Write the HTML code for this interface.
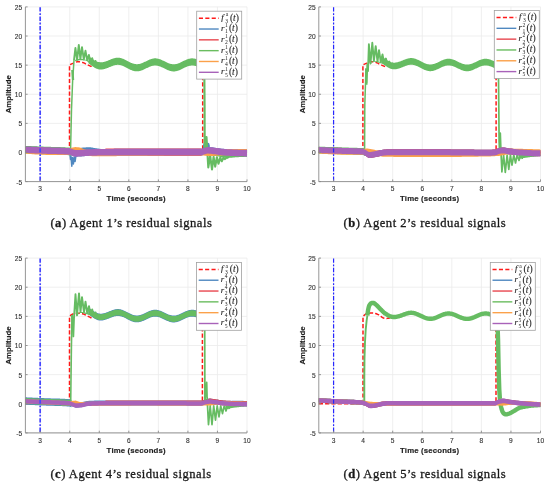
<!DOCTYPE html>
<html><head><meta charset="utf-8"><style>
html,body{margin:0;padding:0;background:#fff;}
svg{display:block;}
.tk{font-family:"Liberation Sans",sans-serif;font-size:6.6px;fill:#333;stroke:#333;stroke-width:0.12px;}
.al{font-family:"Liberation Sans",sans-serif;font-size:7.8px;font-weight:bold;fill:#1e1e1e;stroke:#1e1e1e;stroke-width:0.15px;}
.lg{font-family:"Liberation Serif",serif;font-style:italic;font-size:8.8px;fill:#222;stroke:#222;stroke-width:0.12px;}
.ls{font-family:"Liberation Serif",serif;font-size:5.6px;fill:#222;}
.lp{font-family:"Liberation Serif",serif;font-size:9.6px;fill:#222;stroke:#222;stroke-width:0.1px;}
.li{font-style:italic;}
.cap{font-family:"Liberation Serif",serif;font-size:12.6px;letter-spacing:0.5px;fill:#1a1a1a;stroke:#1a1a1a;stroke-width:0.3px;}
</style></head><body>
<svg width="550" height="484" viewBox="0 0 550 484">
<path d="M40.17 6.90V181.60M69.72 6.90V181.60M99.27 6.90V181.60M128.81 6.90V181.60M158.36 6.90V181.60M187.91 6.90V181.60M217.45 6.90V181.60M247.00 6.90V181.60M25.40 181.60H247.00M25.40 152.48H247.00M25.40 123.37H247.00M25.40 94.25H247.00M25.40 65.13H247.00M25.40 36.02H247.00M25.40 6.90H247.00" stroke="#ebebeb" stroke-width="0.8" fill="none"/>
<path d="M333.58 6.90V181.60M363.14 6.90V181.60M392.70 6.90V181.60M422.26 6.90V181.60M451.82 6.90V181.60M481.38 6.90V181.60M510.94 6.90V181.60M540.50 6.90V181.60M318.80 181.60H540.50M318.80 152.48H540.50M318.80 123.37H540.50M318.80 94.25H540.50M318.80 65.13H540.50M318.80 36.02H540.50M318.80 6.90H540.50" stroke="#ebebeb" stroke-width="0.8" fill="none"/>
<path d="M40.17 258.10V432.90M69.72 258.10V432.90M99.27 258.10V432.90M128.81 258.10V432.90M158.36 258.10V432.90M187.91 258.10V432.90M217.45 258.10V432.90M247.00 258.10V432.90M25.40 432.90H247.00M25.40 403.77H247.00M25.40 374.63H247.00M25.40 345.50H247.00M25.40 316.37H247.00M25.40 287.23H247.00M25.40 258.10H247.00" stroke="#ebebeb" stroke-width="0.8" fill="none"/>
<path d="M333.58 258.10V432.90M363.14 258.10V432.90M392.70 258.10V432.90M422.26 258.10V432.90M451.82 258.10V432.90M481.38 258.10V432.90M510.94 258.10V432.90M540.50 258.10V432.90M318.80 432.90H540.50M318.80 403.77H540.50M318.80 374.63H540.50M318.80 345.50H540.50M318.80 316.37H540.50M318.80 287.23H540.50M318.80 258.10H540.50" stroke="#ebebeb" stroke-width="0.8" fill="none"/>
<polyline points="25.40,152.42 69.50,152.42 69.50,64.90 69.50,64.90 70.05,64.62 70.60,64.35 71.15,64.09 71.71,63.84 72.26,63.60 72.81,63.37 73.36,63.16 73.91,62.93 74.46,62.69 75.01,62.46 75.56,62.24 76.12,62.04 76.67,61.88 77.22,61.77 77.77,61.71 78.32,61.71 78.87,61.74 79.42,61.80 79.97,61.88 80.53,61.99 81.08,62.11 81.63,62.24 82.18,62.38 82.73,62.53 83.28,62.69 83.83,62.90 84.38,63.16 84.94,63.46 85.49,63.78 86.04,64.09 86.59,64.39 87.14,64.67 87.69,64.93 88.24,65.18 88.79,65.43 89.35,65.68 89.90,65.92 90.45,66.16 91.00,66.40 95.40,64.45 96.30,64.88 97.20,65.25 98.11,65.55 99.01,65.76 99.91,65.89 100.81,65.92 101.71,65.87 102.61,65.75 103.52,65.57 104.42,65.36 105.32,65.10 106.22,64.82 107.12,64.50 108.02,64.16 108.93,63.79 109.83,63.43 110.73,63.06 111.63,62.71 112.53,62.37 113.43,62.06 114.34,61.79 115.24,61.57 116.14,61.42 117.04,61.32 117.94,61.30 118.84,61.35 119.75,61.47 120.65,61.65 121.55,61.90 122.45,62.21 123.35,62.56 124.25,62.96 125.16,63.39 126.06,63.84 126.96,64.31 127.86,64.79 128.76,65.26 129.66,65.71 130.57,66.14 131.47,66.54 132.37,66.88 133.27,67.18 134.17,67.41 135.07,67.58 135.98,67.69 136.88,67.72 137.78,67.69 138.68,67.58 139.58,67.42 140.48,67.19 141.39,66.91 142.29,66.58 143.19,66.20 144.09,65.80 144.99,65.37 145.89,64.93 146.80,64.48 147.70,64.05 148.60,63.64 149.50,63.26 150.40,62.91 151.30,62.61 152.21,62.37 153.11,62.18 154.01,62.06 154.91,62.00 155.81,62.02 156.71,62.10 157.62,62.24 158.52,62.45 159.42,62.71 160.32,63.03 161.22,63.39 162.12,63.78 163.03,64.21 163.93,64.64 164.83,65.09 165.73,65.53 166.63,65.95 167.53,66.35 168.44,66.72 169.34,67.04 170.24,67.31 171.14,67.53 172.04,67.69 172.94,67.78 173.85,67.80 174.75,67.75 175.65,67.64 176.55,67.47 177.45,67.23 178.35,66.94 179.26,66.60 180.16,66.22 181.06,65.82 181.96,65.38 182.86,64.94 183.76,64.50 184.67,64.07 185.57,63.65 186.47,63.27 187.37,62.92 188.27,62.62 189.17,62.37 190.08,62.19 190.98,62.06 191.88,62.00 192.78,62.01 193.68,62.09 194.58,62.23 195.49,62.44 196.39,62.70 197.29,63.02 198.19,63.38 199.09,63.77 199.99,64.19 200.90,64.63 201.80,65.07 202.70,65.51 202.70,65.51 202.70,152.42 247.03,152.42" fill="none" stroke="#ff1a1a" stroke-width="1.5" stroke-linejoin="round" stroke-linecap="butt" stroke-dasharray="4.2 2.1"/>
<polygon points="25.40,146.40 26.79,146.46 28.19,146.51 29.58,146.57 30.98,146.62 32.37,146.68 33.76,146.73 35.16,146.79 36.55,146.84 37.94,146.90 39.34,146.96 40.73,147.01 42.13,147.07 43.52,147.12 44.91,147.18 46.31,147.24 47.70,147.28 49.10,147.33 50.49,147.36 51.88,147.40 53.28,147.43 54.67,147.46 56.07,147.50 57.46,147.53 58.85,147.58 60.25,147.62 61.64,147.68 63.03,147.74 64.43,147.81 65.82,147.89 67.22,147.99 68.61,148.10 70.00,148.25 71.40,148.78 72.79,149.34 74.19,149.87 75.58,150.10 76.97,150.07 78.37,149.99 79.76,149.90 81.15,149.81 82.55,149.73 83.94,149.63 85.34,149.52 86.73,149.41 88.12,149.31 89.52,149.23 90.91,149.18 92.31,149.14 93.70,149.10 95.09,149.06 96.49,149.03 97.88,149.00 99.28,148.97 100.67,148.95 102.06,148.93 103.46,148.91 104.85,148.90 106.24,148.90 107.64,148.89 109.03,148.89 110.43,148.88 111.82,148.88 113.21,148.88 114.61,148.87 116.00,148.87 117.40,148.87 118.79,148.86 120.18,148.86 121.58,148.86 122.97,148.85 124.36,148.85 125.76,148.85 127.15,148.84 128.55,148.84 129.94,148.84 131.33,148.84 132.73,148.83 134.12,148.83 135.52,148.83 136.91,148.83 138.30,148.82 139.70,148.82 141.09,148.82 142.48,148.82 143.88,148.82 145.27,148.82 146.67,148.81 148.06,148.81 149.45,148.81 150.85,148.81 152.24,148.81 153.64,148.81 155.03,148.81 156.42,148.81 157.82,148.80 159.21,148.80 160.61,148.80 162.00,148.80 163.39,148.80 164.79,148.80 166.18,148.80 167.57,148.80 168.97,148.80 170.36,148.80 171.76,148.80 173.15,148.80 174.54,148.80 175.94,148.80 177.33,148.80 178.73,148.80 180.12,148.80 181.51,148.80 182.91,148.80 184.30,148.80 185.69,148.80 187.09,148.80 188.48,148.80 189.88,148.80 191.27,148.80 192.66,148.80 194.06,148.80 195.45,148.80 196.85,148.80 198.24,148.80 199.63,148.80 201.03,148.80 202.42,148.59 203.82,148.00 205.21,147.58 206.60,147.23 208.00,147.01 209.39,147.03 210.78,147.15 212.18,147.34 213.57,147.55 214.97,147.75 216.36,147.92 217.75,148.10 219.15,148.30 220.54,148.49 221.94,148.67 223.33,148.83 224.72,148.95 226.12,149.04 227.51,149.13 228.90,149.21 230.30,149.28 231.69,149.36 233.09,149.42 234.48,149.49 235.87,149.55 237.27,149.60 238.66,149.65 240.06,149.70 241.45,149.73 242.84,149.76 244.24,149.78 245.63,149.80 247.03,149.80 247.03,156.40 245.63,156.40 244.24,156.38 242.84,156.36 241.45,156.33 240.06,156.30 238.66,156.25 237.27,156.20 235.87,156.15 234.48,156.09 233.09,156.02 231.69,155.96 230.30,155.88 228.90,155.81 227.51,155.73 226.12,155.64 224.72,155.55 223.33,155.43 221.94,155.27 220.54,155.09 219.15,154.90 217.75,154.70 216.36,154.52 214.97,154.35 213.57,154.15 212.18,153.94 210.78,153.75 209.39,153.63 208.00,153.61 206.60,153.83 205.21,154.18 203.82,154.60 202.42,155.19 201.03,155.40 199.63,155.40 198.24,155.40 196.85,155.40 195.45,155.40 194.06,155.40 192.66,155.40 191.27,155.40 189.88,155.40 188.48,155.40 187.09,155.40 185.69,155.40 184.30,155.40 182.91,155.40 181.51,155.40 180.12,155.40 178.73,155.40 177.33,155.40 175.94,155.40 174.54,155.40 173.15,155.40 171.76,155.40 170.36,155.40 168.97,155.40 167.57,155.40 166.18,155.40 164.79,155.40 163.39,155.40 162.00,155.40 160.61,155.40 159.21,155.40 157.82,155.40 156.42,155.41 155.03,155.41 153.64,155.41 152.24,155.41 150.85,155.41 149.45,155.41 148.06,155.41 146.67,155.41 145.27,155.42 143.88,155.42 142.48,155.42 141.09,155.42 139.70,155.42 138.30,155.42 136.91,155.43 135.52,155.43 134.12,155.43 132.73,155.43 131.33,155.44 129.94,155.44 128.55,155.44 127.15,155.44 125.76,155.45 124.36,155.45 122.97,155.45 121.58,155.46 120.18,155.46 118.79,155.46 117.40,155.47 116.00,155.47 114.61,155.47 113.21,155.48 111.82,155.48 110.43,155.48 109.03,155.49 107.64,155.49 106.24,155.50 104.85,155.50 103.46,155.51 102.06,155.53 100.67,155.55 99.28,155.57 97.88,155.60 96.49,155.63 95.09,155.66 93.70,155.70 92.31,155.74 90.91,155.78 89.52,155.83 88.12,155.91 86.73,156.01 85.34,156.12 83.94,156.23 82.55,156.33 81.15,156.41 79.76,156.50 78.37,156.59 76.97,156.67 75.58,156.70 74.19,156.47 72.79,155.94 71.40,155.38 70.00,154.85 68.61,154.70 67.22,154.59 65.82,154.49 64.43,154.41 63.03,154.34 61.64,154.28 60.25,154.22 58.85,154.18 57.46,154.13 56.07,154.10 54.67,154.06 53.28,154.03 51.88,154.00 50.49,153.96 49.10,153.93 47.70,153.88 46.31,153.84 44.91,153.78 43.52,153.72 42.13,153.67 40.73,153.61 39.34,153.56 37.94,153.50 36.55,153.44 35.16,153.39 33.76,153.33 32.37,153.28 30.98,153.22 29.58,153.17 28.19,153.11 26.79,153.06 25.40,153.00" fill="#4f88c0" stroke="none"/>
<polygon points="73.40,152.50 74.26,152.15 75.11,151.68 75.97,151.03 76.83,150.09 77.69,149.18 78.54,148.64 79.40,148.33 80.26,148.06 81.11,147.84 81.97,147.66 82.83,147.55 83.69,147.48 84.54,147.44 85.40,147.39 86.26,147.36 87.11,147.33 87.97,147.31 88.83,147.30 89.69,147.30 90.54,147.35 91.40,147.45 92.26,147.58 93.11,147.73 93.97,147.88 94.83,148.02 95.69,148.14 96.54,148.26 97.40,148.39 98.26,148.52 99.11,148.64 99.97,148.77 100.83,148.88 101.69,148.97 102.54,149.05 103.40,149.10 104.26,149.14 105.11,149.17 105.97,149.20 106.83,149.24 107.69,149.26 108.54,149.29 109.40,149.32 110.26,149.34 111.11,149.36 111.97,149.37 112.83,149.38 113.69,149.39 114.54,149.40 115.40,149.40 115.40,154.50 114.54,154.52 113.69,154.54 112.83,154.56 111.97,154.58 111.11,154.60 110.26,154.62 109.40,154.64 108.54,154.66 107.69,154.68 106.83,154.70 105.97,154.72 105.11,154.74 104.26,154.77 103.40,154.79 102.54,154.81 101.69,154.83 100.83,154.85 99.97,154.87 99.11,154.89 98.26,154.91 97.40,154.93 96.54,154.95 95.69,154.97 94.83,154.99 93.97,155.01 93.11,155.03 92.26,155.05 91.40,155.07 90.54,155.09 89.69,155.11 88.83,155.13 87.97,155.15 87.11,155.17 86.26,155.19 85.40,155.21 84.54,155.23 83.69,155.26 82.83,155.28 81.97,155.30 81.11,155.32 80.26,155.34 79.40,155.36 78.54,155.38 77.69,155.40 76.83,155.42 75.97,155.44 75.11,155.46 74.26,155.48 73.40,155.50" fill="#4f88c0" stroke="none"/>
<polyline points="69.70,152.50 70.50,159.50 71.00,156.50 71.80,166.30 72.50,157.50 73.40,164.00 74.20,157.00 75.10,161.50 76.00,155.50" fill="none" stroke="#4f88c0" stroke-width="1.5" stroke-linejoin="round" stroke-linecap="butt" />
<polygon points="203.00,145.50 203.04,145.35 203.09,145.19 203.13,145.04 203.17,144.88 203.21,144.72 203.26,144.56 203.30,144.41 203.34,144.25 203.38,144.11 203.43,143.96 203.47,143.82 203.51,143.69 203.56,143.57 203.60,143.46 203.64,143.35 203.68,143.26 203.73,143.18 203.77,143.11 203.81,143.06 203.86,143.02 203.90,143.00 203.94,142.99 203.98,142.98 204.03,142.97 204.07,142.96 204.11,142.95 204.15,142.94 204.20,142.93 204.24,142.92 204.28,142.91 204.33,142.90 204.37,142.89 204.41,142.88 204.45,142.87 204.50,142.86 204.54,142.86 204.58,142.85 204.63,142.84 204.67,142.83 204.71,142.83 204.75,142.82 204.80,142.81 204.84,142.81 204.88,142.80 204.92,142.79 204.97,142.79 205.01,142.78 205.05,142.78 205.10,142.77 205.14,142.77 205.18,142.76 205.22,142.76 205.27,142.75 205.31,142.75 205.35,142.75 205.39,142.74 205.44,142.74 205.48,142.73 205.52,142.73 205.57,142.73 205.61,142.73 205.65,142.72 205.69,142.72 205.74,142.72 205.78,142.72 205.82,142.71 205.87,142.71 205.91,142.71 205.95,142.71 205.99,142.71 206.04,142.71 206.08,142.70 206.12,142.70 206.16,142.70 206.21,142.70 206.25,142.70 206.29,142.70 206.34,142.70 206.38,142.70 206.42,142.70 206.46,142.70 206.51,142.70 206.55,142.70 206.59,142.70 206.64,142.70 206.68,142.70 206.72,142.70 206.76,142.71 206.81,142.71 206.85,142.71 206.89,142.71 206.93,142.71 206.98,142.71 207.02,142.72 207.06,142.72 207.11,142.72 207.15,142.72 207.19,142.73 207.23,142.73 207.28,142.73 207.32,142.73 207.36,142.74 207.41,142.74 207.45,142.75 207.49,142.75 207.53,142.75 207.58,142.76 207.62,142.76 207.66,142.77 207.70,142.77 207.75,142.78 207.79,142.78 207.83,142.79 207.88,142.79 207.92,142.80 207.96,142.81 208.00,142.81 208.05,142.82 208.09,142.83 208.13,142.83 208.17,142.84 208.22,142.85 208.26,142.86 208.30,142.86 208.35,142.87 208.39,142.88 208.43,142.89 208.47,142.90 208.52,142.91 208.56,142.92 208.60,142.93 208.65,142.94 208.69,142.95 208.73,142.96 208.77,142.97 208.82,142.98 208.86,142.99 208.90,143.00 208.94,143.02 208.99,143.06 209.03,143.11 209.07,143.18 209.12,143.26 209.16,143.35 209.20,143.46 209.24,143.57 209.29,143.69 209.33,143.82 209.37,143.96 209.42,144.11 209.46,144.25 209.50,144.41 209.54,144.56 209.59,144.72 209.63,144.88 209.67,145.04 209.71,145.19 209.76,145.35 209.80,145.50 209.80,151.50 209.76,151.35 209.71,151.19 209.67,151.04 209.63,150.88 209.59,150.72 209.54,150.56 209.50,150.41 209.46,150.25 209.42,150.11 209.37,149.96 209.33,149.82 209.29,149.69 209.24,149.57 209.20,149.46 209.16,149.35 209.12,149.26 209.07,149.18 209.03,149.11 208.99,149.06 208.94,149.02 208.90,149.00 208.86,148.99 208.82,148.98 208.77,148.97 208.73,148.96 208.69,148.95 208.65,148.94 208.60,148.93 208.56,148.92 208.52,148.91 208.47,148.90 208.43,148.89 208.39,148.88 208.35,148.87 208.30,148.86 208.26,148.86 208.22,148.85 208.17,148.84 208.13,148.83 208.09,148.83 208.05,148.82 208.00,148.81 207.96,148.81 207.92,148.80 207.88,148.79 207.83,148.79 207.79,148.78 207.75,148.78 207.70,148.77 207.66,148.77 207.62,148.76 207.58,148.76 207.53,148.75 207.49,148.75 207.45,148.75 207.41,148.74 207.36,148.74 207.32,148.73 207.28,148.73 207.23,148.73 207.19,148.73 207.15,148.72 207.11,148.72 207.06,148.72 207.02,148.72 206.98,148.71 206.93,148.71 206.89,148.71 206.85,148.71 206.81,148.71 206.76,148.71 206.72,148.70 206.68,148.70 206.64,148.70 206.59,148.70 206.55,148.70 206.51,148.70 206.46,148.70 206.42,148.70 206.38,148.70 206.34,148.70 206.29,148.70 206.25,148.70 206.21,148.70 206.16,148.70 206.12,148.70 206.08,148.70 206.04,148.71 205.99,148.71 205.95,148.71 205.91,148.71 205.87,148.71 205.82,148.71 205.78,148.72 205.74,148.72 205.69,148.72 205.65,148.72 205.61,148.73 205.57,148.73 205.52,148.73 205.48,148.73 205.44,148.74 205.39,148.74 205.35,148.75 205.31,148.75 205.27,148.75 205.22,148.76 205.18,148.76 205.14,148.77 205.10,148.77 205.05,148.78 205.01,148.78 204.97,148.79 204.92,148.79 204.88,148.80 204.84,148.81 204.80,148.81 204.75,148.82 204.71,148.83 204.67,148.83 204.63,148.84 204.58,148.85 204.54,148.86 204.50,148.86 204.45,148.87 204.41,148.88 204.37,148.89 204.33,148.90 204.28,148.91 204.24,148.92 204.20,148.93 204.15,148.94 204.11,148.95 204.07,148.96 204.03,148.97 203.98,148.98 203.94,148.99 203.90,149.00 203.86,149.02 203.81,149.06 203.77,149.11 203.73,149.18 203.68,149.26 203.64,149.35 203.60,149.46 203.56,149.57 203.51,149.69 203.47,149.82 203.43,149.96 203.38,150.11 203.34,150.25 203.30,150.41 203.26,150.56 203.21,150.72 203.17,150.88 203.13,151.04 203.09,151.19 203.04,151.35 203.00,151.50" fill="#4f88c0" stroke="none"/>
<polygon points="105.40,148.60 106.00,148.60 106.61,148.60 107.21,148.60 107.82,148.59 108.42,148.59 109.02,148.59 109.63,148.59 110.23,148.59 110.83,148.59 111.44,148.59 112.04,148.58 112.65,148.58 113.25,148.58 113.85,148.58 114.46,148.58 115.06,148.58 115.66,148.58 116.27,148.57 116.87,148.57 117.48,148.57 118.08,148.57 118.68,148.57 119.29,148.57 119.89,148.57 120.49,148.57 121.10,148.56 121.70,148.56 122.31,148.56 122.91,148.56 123.51,148.56 124.12,148.56 124.72,148.56 125.32,148.56 125.93,148.55 126.53,148.55 127.14,148.55 127.74,148.55 128.34,148.55 128.95,148.55 129.55,148.55 130.15,148.55 130.76,148.54 131.36,148.54 131.97,148.54 132.57,148.54 133.17,148.54 133.78,148.54 134.38,148.54 134.98,148.54 135.59,148.54 136.19,148.54 136.80,148.53 137.40,148.53 138.00,148.53 138.61,148.53 139.21,148.53 139.82,148.53 140.42,148.53 141.02,148.53 141.63,148.53 142.23,148.53 142.83,148.52 143.44,148.52 144.04,148.52 144.65,148.52 145.25,148.52 145.85,148.52 146.46,148.52 147.06,148.52 147.66,148.52 148.27,148.52 148.87,148.52 149.48,148.52 150.08,148.52 150.68,148.51 151.29,148.51 151.89,148.51 152.49,148.51 153.10,148.51 153.70,148.51 154.31,148.51 154.91,148.51 155.51,148.51 156.12,148.51 156.72,148.51 157.32,148.51 157.93,148.51 158.53,148.51 159.14,148.51 159.74,148.51 160.34,148.51 160.95,148.51 161.55,148.50 162.15,148.50 162.76,148.50 163.36,148.50 163.97,148.50 164.57,148.50 165.17,148.50 165.78,148.50 166.38,148.50 166.98,148.50 167.59,148.50 168.19,148.50 168.80,148.50 169.40,148.50 170.00,148.50 170.61,148.50 171.21,148.50 171.82,148.50 172.42,148.50 173.02,148.50 173.63,148.50 174.23,148.50 174.83,148.50 175.44,148.50 176.04,148.50 176.65,148.50 177.25,148.50 177.85,148.50 178.46,148.50 179.06,148.50 179.66,148.50 180.27,148.50 180.87,148.50 181.48,148.50 182.08,148.50 182.68,148.50 183.29,148.50 183.89,148.50 184.49,148.50 185.10,148.50 185.70,148.50 186.31,148.50 186.91,148.50 187.51,148.50 188.12,148.50 188.72,148.50 189.32,148.50 189.93,148.50 190.53,148.50 191.14,148.50 191.74,148.50 192.34,148.50 192.95,148.50 193.55,148.50 194.15,148.50 194.76,148.50 195.36,148.50 195.97,148.50 196.57,148.50 197.17,148.50 197.78,148.50 198.38,148.50 198.98,148.50 199.59,148.50 200.19,148.50 200.80,148.50 201.40,148.50 201.40,155.90 200.80,155.90 200.19,155.90 199.59,155.90 198.98,155.90 198.38,155.90 197.78,155.90 197.17,155.90 196.57,155.90 195.97,155.90 195.36,155.90 194.76,155.90 194.15,155.90 193.55,155.90 192.95,155.90 192.34,155.90 191.74,155.90 191.14,155.90 190.53,155.90 189.93,155.90 189.32,155.90 188.72,155.90 188.12,155.90 187.51,155.90 186.91,155.90 186.31,155.90 185.70,155.90 185.10,155.90 184.49,155.90 183.89,155.90 183.29,155.90 182.68,155.90 182.08,155.90 181.48,155.90 180.87,155.90 180.27,155.90 179.66,155.90 179.06,155.90 178.46,155.90 177.85,155.90 177.25,155.90 176.65,155.90 176.04,155.90 175.44,155.90 174.83,155.90 174.23,155.90 173.63,155.90 173.02,155.90 172.42,155.90 171.82,155.90 171.21,155.90 170.61,155.90 170.00,155.90 169.40,155.90 168.80,155.90 168.19,155.90 167.59,155.90 166.98,155.90 166.38,155.90 165.78,155.90 165.17,155.90 164.57,155.90 163.97,155.90 163.36,155.90 162.76,155.90 162.15,155.90 161.55,155.90 160.95,155.91 160.34,155.91 159.74,155.91 159.14,155.91 158.53,155.91 157.93,155.91 157.32,155.91 156.72,155.91 156.12,155.91 155.51,155.91 154.91,155.91 154.31,155.91 153.70,155.91 153.10,155.91 152.49,155.91 151.89,155.91 151.29,155.91 150.68,155.91 150.08,155.92 149.48,155.92 148.87,155.92 148.27,155.92 147.66,155.92 147.06,155.92 146.46,155.92 145.85,155.92 145.25,155.92 144.65,155.92 144.04,155.92 143.44,155.92 142.83,155.92 142.23,155.93 141.63,155.93 141.02,155.93 140.42,155.93 139.82,155.93 139.21,155.93 138.61,155.93 138.00,155.93 137.40,155.93 136.80,155.93 136.19,155.94 135.59,155.94 134.98,155.94 134.38,155.94 133.78,155.94 133.17,155.94 132.57,155.94 131.97,155.94 131.36,155.94 130.76,155.94 130.15,155.95 129.55,155.95 128.95,155.95 128.34,155.95 127.74,155.95 127.14,155.95 126.53,155.95 125.93,155.95 125.32,155.96 124.72,155.96 124.12,155.96 123.51,155.96 122.91,155.96 122.31,155.96 121.70,155.96 121.10,155.96 120.49,155.97 119.89,155.97 119.29,155.97 118.68,155.97 118.08,155.97 117.48,155.97 116.87,155.97 116.27,155.97 115.66,155.98 115.06,155.98 114.46,155.98 113.85,155.98 113.25,155.98 112.65,155.98 112.04,155.98 111.44,155.99 110.83,155.99 110.23,155.99 109.63,155.99 109.02,155.99 108.42,155.99 107.82,155.99 107.21,156.00 106.61,156.00 106.00,156.00 105.40,156.00" fill="#e8474f" stroke="none"/>
<polygon points="25.40,145.90 25.69,145.91 25.98,145.92 26.27,145.93 26.56,145.95 26.85,145.96 27.14,145.97 27.43,145.98 27.71,145.99 28.00,146.00 28.29,146.01 28.58,146.03 28.87,146.04 29.16,146.05 29.45,146.06 29.74,146.07 30.03,146.08 30.32,146.09 30.61,146.11 30.90,146.12 31.19,146.13 31.48,146.14 31.76,146.15 32.05,146.16 32.34,146.18 32.63,146.19 32.92,146.20 33.21,146.21 33.50,146.22 33.79,146.23 34.08,146.24 34.37,146.26 34.66,146.27 34.95,146.28 35.24,146.29 35.53,146.30 35.82,146.31 36.10,146.33 36.39,146.34 36.68,146.35 36.97,146.36 37.26,146.37 37.55,146.38 37.84,146.40 38.13,146.41 38.42,146.42 38.71,146.43 39.00,146.44 39.29,146.45 39.58,146.46 39.87,146.48 40.15,146.49 40.44,146.50 40.73,146.51 41.02,146.52 41.31,146.53 41.60,146.55 41.89,146.56 42.18,146.57 42.47,146.58 42.76,146.59 43.05,146.60 43.34,146.62 43.63,146.63 43.92,146.64 44.21,146.65 44.49,146.66 44.78,146.68 45.07,146.69 45.36,146.70 45.65,146.71 45.94,146.72 46.23,146.73 46.52,146.74 46.81,146.75 47.10,146.76 47.39,146.77 47.68,146.78 47.97,146.79 48.26,146.80 48.54,146.81 48.83,146.82 49.12,146.83 49.41,146.83 49.70,146.84 49.99,146.85 50.28,146.86 50.57,146.86 50.86,146.87 51.15,146.88 51.44,146.89 51.73,146.89 52.02,146.90 52.31,146.91 52.59,146.91 52.88,146.92 53.17,146.93 53.46,146.93 53.75,146.94 54.04,146.95 54.33,146.96 54.62,146.96 54.91,146.97 55.20,146.98 55.49,146.98 55.78,146.99 56.07,147.00 56.36,147.01 56.65,147.01 56.93,147.02 57.22,147.03 57.51,147.04 57.80,147.04 58.09,147.05 58.38,147.06 58.67,147.07 58.96,147.08 59.25,147.09 59.54,147.10 59.83,147.11 60.12,147.12 60.41,147.13 60.70,147.14 60.98,147.15 61.27,147.16 61.56,147.17 61.85,147.19 62.14,147.20 62.43,147.21 62.72,147.22 63.01,147.24 63.30,147.25 63.59,147.27 63.88,147.28 64.17,147.30 64.46,147.31 64.75,147.33 65.04,147.35 65.32,147.36 65.61,147.38 65.90,147.40 66.19,147.42 66.48,147.44 66.77,147.46 67.06,147.48 67.35,147.50 67.64,147.52 67.93,147.55 68.22,147.57 68.51,147.59 68.80,147.62 69.09,147.64 69.37,147.67 69.66,147.70 69.95,147.74 70.24,147.81 70.53,147.90 70.82,148.02 71.11,148.15 71.40,148.28 71.40,155.88 71.11,155.75 70.82,155.62 70.53,155.50 70.24,155.41 69.95,155.34 69.66,155.30 69.37,155.27 69.09,155.24 68.80,155.22 68.51,155.19 68.22,155.17 67.93,155.15 67.64,155.12 67.35,155.10 67.06,155.08 66.77,155.06 66.48,155.04 66.19,155.02 65.90,155.00 65.61,154.98 65.32,154.96 65.04,154.95 64.75,154.93 64.46,154.91 64.17,154.90 63.88,154.88 63.59,154.87 63.30,154.85 63.01,154.84 62.72,154.82 62.43,154.81 62.14,154.80 61.85,154.79 61.56,154.77 61.27,154.76 60.98,154.75 60.70,154.74 60.41,154.73 60.12,154.72 59.83,154.71 59.54,154.70 59.25,154.69 58.96,154.68 58.67,154.67 58.38,154.66 58.09,154.65 57.80,154.64 57.51,154.64 57.22,154.63 56.93,154.62 56.65,154.61 56.36,154.61 56.07,154.60 55.78,154.59 55.49,154.58 55.20,154.58 54.91,154.57 54.62,154.56 54.33,154.56 54.04,154.55 53.75,154.54 53.46,154.53 53.17,154.53 52.88,154.52 52.59,154.51 52.31,154.51 52.02,154.50 51.73,154.49 51.44,154.49 51.15,154.48 50.86,154.47 50.57,154.46 50.28,154.46 49.99,154.45 49.70,154.44 49.41,154.43 49.12,154.43 48.83,154.42 48.54,154.41 48.26,154.40 47.97,154.39 47.68,154.38 47.39,154.37 47.10,154.36 46.81,154.35 46.52,154.34 46.23,154.33 45.94,154.32 45.65,154.31 45.36,154.30 45.07,154.29 44.78,154.28 44.49,154.26 44.21,154.25 43.92,154.24 43.63,154.23 43.34,154.22 43.05,154.20 42.76,154.19 42.47,154.18 42.18,154.17 41.89,154.16 41.60,154.15 41.31,154.13 41.02,154.12 40.73,154.11 40.44,154.10 40.15,154.09 39.87,154.08 39.58,154.06 39.29,154.05 39.00,154.04 38.71,154.03 38.42,154.02 38.13,154.01 37.84,154.00 37.55,153.98 37.26,153.97 36.97,153.96 36.68,153.95 36.39,153.94 36.10,153.93 35.82,153.91 35.53,153.90 35.24,153.89 34.95,153.88 34.66,153.87 34.37,153.86 34.08,153.84 33.79,153.83 33.50,153.82 33.21,153.81 32.92,153.80 32.63,153.79 32.34,153.78 32.05,153.76 31.76,153.75 31.48,153.74 31.19,153.73 30.90,153.72 30.61,153.71 30.32,153.69 30.03,153.68 29.74,153.67 29.45,153.66 29.16,153.65 28.87,153.64 28.58,153.63 28.29,153.61 28.00,153.60 27.71,153.59 27.43,153.58 27.14,153.57 26.85,153.56 26.56,153.55 26.27,153.53 25.98,153.52 25.69,153.51 25.40,153.50" fill="#66bc62" stroke="none"/>
<polyline points="70.50,152.42 71.00,131.50 71.50,110.00 72.60,81.50 74.00,60.00" fill="none" stroke="#66bc62" stroke-width="1.5" stroke-linejoin="round" stroke-linecap="butt" />
<polyline points="72.40,70.00 73.00,80.00" fill="none" stroke="#66bc62" stroke-width="2.4" stroke-linejoin="round" stroke-linecap="butt" />
<polygon points="74.90,60.00 75.43,59.79 75.97,59.59 76.50,59.42 77.04,59.27 77.57,59.13 78.11,59.02 78.64,58.93 79.18,58.86 79.71,58.82 80.24,58.80 80.78,58.81 81.31,58.84 81.85,58.89 82.38,58.97 82.92,59.06 83.45,59.17 83.99,59.30 84.52,59.44 85.06,59.60 85.59,59.76 86.12,59.94 86.66,60.11 87.19,60.30 87.73,60.52 88.26,60.80 88.80,61.13 89.33,61.50 89.87,61.90 90.40,62.30 90.40,64.10 89.87,63.57 89.33,63.06 88.80,62.57 88.26,62.11 87.73,61.70 87.19,61.33 86.66,61.02 86.12,60.77 85.59,60.60 85.06,60.50 84.52,60.46 83.99,60.43 83.45,60.39 82.92,60.36 82.38,60.34 81.85,60.32 81.31,60.31 80.78,60.30 80.24,60.30 79.71,60.31 79.18,60.34 78.64,60.38 78.11,60.44 77.57,60.51 77.04,60.59 76.50,60.68 75.97,60.78 75.43,60.89 74.90,61.00" fill="#66bc62" stroke="none"/>
<polygon points="88.40,56.09 88.88,56.42 89.36,56.76 89.85,57.11 90.33,57.48 90.81,57.84 91.29,58.20 91.77,58.54 92.26,58.89 92.74,59.23 93.22,59.56 93.70,59.88 94.18,60.18 94.67,60.48 95.15,60.75 95.63,61.01 96.11,61.24 96.59,61.45 97.08,61.65 97.56,61.82 98.04,61.98 98.52,62.11 99.00,62.21 99.49,62.29 99.97,62.34 100.45,62.37 100.93,62.37 101.41,62.34 101.90,62.30 102.38,62.23 102.86,62.15 103.34,62.05 103.82,61.94 104.31,61.82 104.79,61.69 105.27,61.55 105.75,61.40 106.23,61.24 106.72,61.07 107.20,60.89 107.68,60.70 108.16,60.51 108.64,60.31 109.13,60.11 109.61,59.91 110.09,59.71 110.57,59.51 111.05,59.31 111.54,59.12 112.02,58.93 112.50,58.75 112.98,58.58 113.46,58.41 113.95,58.26 114.43,58.13 114.91,58.00 115.39,57.90 115.87,57.81 116.36,57.74 116.84,57.69 117.32,57.66 117.80,57.65 118.28,57.66 118.77,57.69 119.25,57.74 119.73,57.82 120.21,57.91 120.69,58.02 121.18,58.15 121.66,58.29 122.14,58.46 122.62,58.63 123.10,58.83 123.59,59.03 124.07,59.25 124.55,59.47 125.03,59.71 125.51,59.95 126.00,60.20 126.48,60.45 126.96,60.71 127.44,60.97 127.92,61.23 128.41,61.48 128.89,61.74 129.37,61.99 129.85,62.23 130.33,62.46 130.82,62.68 131.30,62.90 131.78,63.10 132.26,63.28 132.74,63.45 133.23,63.61 133.71,63.75 134.19,63.86 134.67,63.96 135.15,64.05 135.64,64.11 136.12,64.15 136.60,64.17 137.08,64.17 137.56,64.15 138.05,64.11 138.53,64.05 139.01,63.98 139.49,63.88 139.97,63.77 140.46,63.64 140.94,63.49 141.42,63.33 141.90,63.16 142.38,62.97 142.87,62.77 143.35,62.56 143.83,62.34 144.31,62.11 144.79,61.87 145.28,61.64 145.76,61.40 146.24,61.15 146.72,60.91 147.21,60.68 147.69,60.44 148.17,60.21 148.65,59.99 149.13,59.78 149.62,59.58 150.10,59.39 150.58,59.21 151.06,59.05 151.54,58.90 152.03,58.77 152.51,58.65 152.99,58.56 153.47,58.48 153.95,58.42 154.44,58.37 154.92,58.35 155.40,58.35 155.88,58.37 156.36,58.41 156.85,58.46 157.33,58.54 157.81,58.63 158.29,58.75 158.77,58.88 159.26,59.02 159.74,59.18 160.22,59.36 160.70,59.55 161.18,59.75 161.67,59.96 162.15,60.18 162.63,60.40 163.11,60.64 163.59,60.87 164.08,61.11 164.56,61.35 165.04,61.59 165.52,61.83 166.00,62.07 166.49,62.30 166.97,62.52 167.45,62.74 167.93,62.94 168.41,63.14 168.90,63.32 169.38,63.49 169.86,63.64 170.34,63.78 170.82,63.90 171.31,64.01 171.79,64.10 172.27,64.16 172.75,64.21 173.23,64.24 173.72,64.25 174.20,64.24 174.68,64.21 175.16,64.16 175.64,64.09 176.13,64.00 176.61,63.90 177.09,63.77 177.57,63.64 178.05,63.48 178.54,63.31 179.02,63.13 179.50,62.93 179.98,62.72 180.46,62.51 180.95,62.28 181.43,62.05 181.91,61.82 182.39,61.58 182.87,61.34 183.36,61.10 183.84,60.86 184.32,60.62 184.80,60.39 185.28,60.16 185.77,59.94 186.25,59.73 186.73,59.53 187.21,59.35 187.69,59.17 188.18,59.01 188.66,58.87 189.14,58.74 189.62,58.63 190.10,58.53 190.59,58.46 191.07,58.40 191.55,58.37 192.03,58.35 192.51,58.35 193.00,58.38 193.48,58.42 193.96,58.48 194.44,58.56 194.92,58.66 195.41,58.78 195.89,58.91 196.37,59.06 196.85,59.22 197.33,59.40 197.82,59.59 198.30,59.80 198.78,60.01 199.26,60.23 199.74,60.46 200.23,60.69 200.71,60.93 201.19,61.17 201.67,61.41 202.15,61.65 202.64,61.89 203.12,62.12 203.60,62.35 203.60,69.55 203.12,69.32 202.64,69.09 202.15,68.85 201.67,68.61 201.19,68.37 200.71,68.13 200.23,67.89 199.74,67.66 199.26,67.43 198.78,67.21 198.30,67.00 197.82,66.79 197.33,66.60 196.85,66.42 196.37,66.26 195.89,66.11 195.41,65.98 194.92,65.86 194.44,65.76 193.96,65.68 193.48,65.62 193.00,65.58 192.51,65.55 192.03,65.55 191.55,65.57 191.07,65.60 190.59,65.66 190.10,65.73 189.62,65.83 189.14,65.94 188.66,66.07 188.18,66.21 187.69,66.37 187.21,66.55 186.73,66.73 186.25,66.93 185.77,67.14 185.28,67.36 184.80,67.59 184.32,67.82 183.84,68.06 183.36,68.30 182.87,68.54 182.39,68.78 181.91,69.02 181.43,69.25 180.95,69.48 180.46,69.71 179.98,69.92 179.50,70.13 179.02,70.33 178.54,70.51 178.05,70.68 177.57,70.84 177.09,70.97 176.61,71.10 176.13,71.20 175.64,71.29 175.16,71.36 174.68,71.41 174.20,71.44 173.72,71.45 173.23,71.44 172.75,71.41 172.27,71.36 171.79,71.30 171.31,71.21 170.82,71.10 170.34,70.98 169.86,70.84 169.38,70.69 168.90,70.52 168.41,70.34 167.93,70.14 167.45,69.94 166.97,69.72 166.49,69.50 166.00,69.27 165.52,69.03 165.04,68.79 164.56,68.55 164.08,68.31 163.59,68.07 163.11,67.84 162.63,67.60 162.15,67.38 161.67,67.16 161.18,66.95 160.70,66.75 160.22,66.56 159.74,66.38 159.26,66.22 158.77,66.08 158.29,65.95 157.81,65.83 157.33,65.74 156.85,65.66 156.36,65.61 155.88,65.57 155.40,65.55 154.92,65.55 154.44,65.57 153.95,65.62 153.47,65.68 152.99,65.76 152.51,65.85 152.03,65.97 151.54,66.10 151.06,66.25 150.58,66.41 150.10,66.59 149.62,66.78 149.13,66.98 148.65,67.19 148.17,67.41 147.69,67.64 147.21,67.88 146.72,68.11 146.24,68.35 145.76,68.60 145.28,68.84 144.79,69.07 144.31,69.31 143.83,69.54 143.35,69.76 142.87,69.97 142.38,70.17 141.90,70.36 141.42,70.53 140.94,70.69 140.46,70.84 139.97,70.97 139.49,71.08 139.01,71.18 138.53,71.25 138.05,71.31 137.56,71.35 137.08,71.37 136.60,71.37 136.12,71.35 135.64,71.31 135.15,71.25 134.67,71.16 134.19,71.06 133.71,70.95 133.23,70.81 132.74,70.65 132.26,70.48 131.78,70.30 131.30,70.10 130.82,69.88 130.33,69.66 129.85,69.43 129.37,69.19 128.89,68.94 128.41,68.68 127.92,68.43 127.44,68.17 126.96,67.91 126.48,67.65 126.00,67.40 125.51,67.15 125.03,66.91 124.55,66.67 124.07,66.45 123.59,66.23 123.10,66.03 122.62,65.83 122.14,65.66 121.66,65.49 121.18,65.35 120.69,65.22 120.21,65.11 119.73,65.02 119.25,64.94 118.77,64.89 118.28,64.86 117.80,64.85 117.32,64.86 116.84,64.89 116.36,64.94 115.87,65.01 115.39,65.10 114.91,65.20 114.43,65.33 113.95,65.46 113.46,65.61 112.98,65.78 112.50,65.95 112.02,66.13 111.54,66.32 111.05,66.51 110.57,66.71 110.09,66.91 109.61,67.11 109.13,67.31 108.64,67.51 108.16,67.71 107.68,67.90 107.20,68.09 106.72,68.27 106.23,68.44 105.75,68.60 105.27,68.75 104.79,68.89 104.31,69.02 103.82,69.14 103.34,69.25 102.86,69.35 102.38,69.43 101.90,69.50 101.41,69.54 100.93,69.57 100.45,69.57 99.97,69.54 99.49,69.49 99.00,69.41 98.52,69.31 98.04,69.18 97.56,69.02 97.08,68.85 96.59,68.65 96.11,68.44 95.63,68.21 95.15,67.95 94.67,67.68 94.18,67.38 93.70,67.08 93.22,66.76 92.74,66.43 92.26,66.09 91.77,65.74 91.29,65.40 90.81,65.04 90.33,64.68 89.85,64.31 89.36,63.96 88.88,63.62 88.40,63.29" fill="#66bc62" stroke="none"/>
<polyline points="74.00,60.00 75.40,48.00 77.10,60.00 78.80,44.90 80.40,58.80 82.00,47.10 83.80,59.30 85.50,50.80 87.20,60.30 88.90,54.90 90.50,62.30 92.20,58.20 93.90,64.80 95.50,61.00 97.20,67.00 98.80,63.00 100.40,67.00" fill="none" stroke="#66bc62" stroke-width="1.9" stroke-linejoin="round" stroke-linecap="butt" stroke-linejoin="round"/>
<polyline points="204.30,68.50 204.60,106.50 204.70,147.50 205.60,148.50 206.50,137.00 207.50,154.50 208.30,167.40 210.20,156.00 212.00,169.40 213.60,156.80 215.20,166.60 216.90,157.30 218.50,163.70 220.20,157.70 221.80,161.20 223.40,157.90 225.00,159.10 226.70,157.50 228.50,158.10" fill="none" stroke="#66bc62" stroke-width="2.1" stroke-linejoin="round" stroke-linecap="butt" />
<polygon points="208.40,154.00 209.19,154.00 209.98,154.00 210.76,154.00 211.55,154.00 212.34,154.00 213.13,154.00 213.92,154.00 214.71,154.00 215.49,154.00 216.28,154.00 217.07,154.00 217.86,154.00 218.65,154.00 219.44,154.00 220.22,154.00 221.01,154.00 221.80,154.00 222.59,154.00 223.38,154.00 224.17,154.00 224.95,154.00 225.74,154.00 226.53,154.00 227.32,154.00 228.11,154.00 228.89,154.00 229.68,154.00 230.47,154.00 231.26,154.00 232.05,154.00 232.84,154.00 233.62,154.00 234.41,154.00 235.20,154.00 235.99,154.00 236.78,154.00 237.57,154.00 238.35,154.00 239.14,154.00 239.93,154.00 240.72,154.00 241.51,154.00 242.30,154.00 243.08,154.00 243.87,154.00 244.66,154.00 245.45,154.00 246.24,154.00 247.03,154.00 247.03,156.80 246.24,156.81 245.45,156.83 244.66,156.86 243.87,156.88 243.08,156.91 242.30,156.94 241.51,156.97 240.72,157.01 239.93,157.05 239.14,157.09 238.35,157.13 237.57,157.18 236.78,157.22 235.99,157.27 235.20,157.31 234.41,157.38 233.62,157.45 232.84,157.54 232.05,157.63 231.26,157.72 230.47,157.80 229.68,157.86 228.89,157.89 228.11,157.90 227.32,157.89 226.53,157.87 225.74,157.83 224.95,157.80 224.17,157.75 223.38,157.70 222.59,157.60 221.80,157.43 221.01,157.22 220.22,156.98 219.44,156.74 218.65,156.53 217.86,156.36 217.07,156.26 216.28,156.18 215.49,156.10 214.71,156.03 213.92,155.96 213.13,155.90 212.34,155.84 211.55,155.79 210.76,155.75 209.98,155.72 209.19,155.71 208.40,155.70" fill="#66bc62" stroke="none"/>
<polygon points="25.40,147.40 26.79,147.54 28.19,147.67 29.58,147.79 30.98,147.90 32.37,148.01 33.76,148.10 35.16,148.19 36.55,148.28 37.94,148.35 39.34,148.42 40.73,148.49 42.13,148.54 43.52,148.59 44.91,148.64 46.31,148.68 47.70,148.72 49.10,148.75 50.49,148.78 51.88,148.81 53.28,148.83 54.67,148.84 56.07,148.86 57.46,148.87 58.85,148.88 60.25,148.89 61.64,148.89 63.03,148.90 64.43,148.90 65.82,148.90 67.22,148.90 68.61,148.90 70.00,148.67 71.40,147.70 72.79,147.38 74.19,147.17 75.58,147.10 76.97,147.18 78.37,147.35 79.76,147.58 81.15,147.91 82.55,148.54 83.94,149.21 85.34,149.59 86.73,149.70 88.12,149.79 89.52,149.86 90.91,149.92 92.31,149.96 93.70,149.99 95.09,150.00 96.49,150.00 97.88,150.00 99.28,150.00 100.67,149.99 102.06,149.99 103.46,149.99 104.85,149.98 106.24,149.98 107.64,149.97 109.03,149.97 110.43,149.96 111.82,149.95 113.21,149.95 114.61,149.94 116.00,149.93 117.40,149.92 118.79,149.91 120.18,149.90 121.58,149.89 122.97,149.88 124.36,149.87 125.76,149.86 127.15,149.85 128.55,149.84 129.94,149.83 131.33,149.82 132.73,149.81 134.12,149.79 135.52,149.78 136.91,149.77 138.30,149.76 139.70,149.75 141.09,149.74 142.48,149.72 143.88,149.71 145.27,149.70 146.67,149.69 148.06,149.67 149.45,149.66 150.85,149.64 152.24,149.62 153.64,149.60 155.03,149.58 156.42,149.56 157.82,149.54 159.21,149.51 160.61,149.49 162.00,149.47 163.39,149.44 164.79,149.42 166.18,149.40 167.57,149.37 168.97,149.35 170.36,149.33 171.76,149.31 173.15,149.29 174.54,149.27 175.94,149.26 177.33,149.24 178.73,149.23 180.12,149.22 181.51,149.21 182.91,149.20 184.30,149.20 185.69,149.20 187.09,149.20 188.48,149.20 189.88,149.20 191.27,149.20 192.66,149.20 194.06,149.20 195.45,149.20 196.85,149.20 198.24,149.20 199.63,149.20 201.03,149.20 202.42,149.20 203.82,149.22 205.21,149.43 206.60,149.61 208.00,149.70 209.39,149.76 210.78,149.80 212.18,149.79 213.57,149.71 214.97,149.59 216.36,149.47 217.75,149.38 219.15,149.32 220.54,149.26 221.94,149.21 223.33,149.16 224.72,149.12 226.12,149.08 227.51,149.04 228.90,149.00 230.30,148.97 231.69,148.94 233.09,148.92 234.48,148.90 235.87,148.90 237.27,148.90 238.66,148.90 240.06,148.90 241.45,148.90 242.84,148.90 244.24,148.90 245.63,148.90 247.03,148.90 247.03,155.10 245.63,155.10 244.24,155.10 242.84,155.10 241.45,155.10 240.06,155.10 238.66,155.10 237.27,155.10 235.87,155.10 234.48,155.10 233.09,155.12 231.69,155.14 230.30,155.17 228.90,155.20 227.51,155.24 226.12,155.28 224.72,155.32 223.33,155.36 221.94,155.41 220.54,155.46 219.15,155.52 217.75,155.58 216.36,155.67 214.97,155.79 213.57,155.91 212.18,155.99 210.78,156.00 209.39,155.96 208.00,155.90 206.60,155.81 205.21,155.63 203.82,155.42 202.42,155.40 201.03,155.40 199.63,155.40 198.24,155.40 196.85,155.40 195.45,155.40 194.06,155.40 192.66,155.40 191.27,155.40 189.88,155.40 188.48,155.40 187.09,155.40 185.69,155.40 184.30,155.40 182.91,155.40 181.51,155.41 180.12,155.42 178.73,155.43 177.33,155.44 175.94,155.46 174.54,155.47 173.15,155.49 171.76,155.51 170.36,155.53 168.97,155.55 167.57,155.57 166.18,155.60 164.79,155.62 163.39,155.64 162.00,155.67 160.61,155.69 159.21,155.71 157.82,155.74 156.42,155.76 155.03,155.78 153.64,155.80 152.24,155.82 150.85,155.84 149.45,155.86 148.06,155.87 146.67,155.89 145.27,155.90 143.88,155.91 142.48,155.92 141.09,155.94 139.70,155.95 138.30,155.96 136.91,155.97 135.52,155.98 134.12,155.99 132.73,156.01 131.33,156.02 129.94,156.03 128.55,156.04 127.15,156.05 125.76,156.06 124.36,156.07 122.97,156.08 121.58,156.09 120.18,156.10 118.79,156.11 117.40,156.12 116.00,156.13 114.61,156.14 113.21,156.15 111.82,156.15 110.43,156.16 109.03,156.17 107.64,156.17 106.24,156.18 104.85,156.18 103.46,156.19 102.06,156.19 100.67,156.19 99.28,156.20 97.88,156.20 96.49,156.20 95.09,156.20 93.70,156.19 92.31,156.16 90.91,156.12 89.52,156.06 88.12,155.99 86.73,155.90 85.34,155.79 83.94,155.41 82.55,154.74 81.15,154.11 79.76,153.78 78.37,153.55 76.97,153.38 75.58,153.30 74.19,153.37 72.79,153.58 71.40,153.90 70.00,154.87 68.61,155.10 67.22,155.10 65.82,155.10 64.43,155.10 63.03,155.10 61.64,155.09 60.25,155.09 58.85,155.08 57.46,155.07 56.07,155.06 54.67,155.04 53.28,155.03 51.88,155.01 50.49,154.98 49.10,154.95 47.70,154.92 46.31,154.88 44.91,154.84 43.52,154.79 42.13,154.74 40.73,154.69 39.34,154.62 37.94,154.55 36.55,154.48 35.16,154.39 33.76,154.30 32.37,154.21 30.98,154.10 29.58,153.99 28.19,153.87 26.79,153.74 25.40,153.60" fill="#fba14a" stroke="none"/>
<polygon points="25.40,146.40 26.79,146.46 28.19,146.51 29.58,146.57 30.98,146.62 32.37,146.68 33.76,146.73 35.16,146.79 36.55,146.84 37.94,146.90 39.34,146.96 40.73,147.01 42.13,147.07 43.52,147.12 44.91,147.18 46.31,147.24 47.70,147.28 49.10,147.33 50.49,147.36 51.88,147.40 53.28,147.43 54.67,147.46 56.07,147.50 57.46,147.53 58.85,147.58 60.25,147.62 61.64,147.68 63.03,147.74 64.43,147.81 65.82,147.89 67.22,147.99 68.61,148.10 70.00,148.25 71.40,148.78 72.79,149.34 74.19,149.87 75.58,150.10 76.97,150.07 78.37,149.99 79.76,149.90 81.15,149.81 82.55,149.73 83.94,149.63 85.34,149.52 86.73,149.41 88.12,149.31 89.52,149.23 90.91,149.18 92.31,149.14 93.70,149.10 95.09,149.06 96.49,149.03 97.88,149.00 99.28,148.97 100.67,148.95 102.06,148.93 103.46,148.91 104.85,148.90 106.24,148.90 107.64,148.89 109.03,148.89 110.43,148.88 111.82,148.88 113.21,148.88 114.61,148.87 116.00,148.87 117.40,148.87 118.79,148.86 120.18,148.86 121.58,148.86 122.97,148.85 124.36,148.85 125.76,148.85 127.15,148.84 128.55,148.84 129.94,148.84 131.33,148.84 132.73,148.83 134.12,148.83 135.52,148.83 136.91,148.83 138.30,148.82 139.70,148.82 141.09,148.82 142.48,148.82 143.88,148.82 145.27,148.82 146.67,148.81 148.06,148.81 149.45,148.81 150.85,148.81 152.24,148.81 153.64,148.81 155.03,148.81 156.42,148.81 157.82,148.80 159.21,148.80 160.61,148.80 162.00,148.80 163.39,148.80 164.79,148.80 166.18,148.80 167.57,148.80 168.97,148.80 170.36,148.80 171.76,148.80 173.15,148.80 174.54,148.80 175.94,148.80 177.33,148.80 178.73,148.80 180.12,148.80 181.51,148.80 182.91,148.80 184.30,148.80 185.69,148.80 187.09,148.80 188.48,148.80 189.88,148.80 191.27,148.80 192.66,148.80 194.06,148.80 195.45,148.80 196.85,148.80 198.24,148.80 199.63,148.80 201.03,148.80 202.42,148.59 203.82,148.00 205.21,147.58 206.60,147.23 208.00,147.01 209.39,147.03 210.78,147.15 212.18,147.34 213.57,147.55 214.97,147.75 216.36,147.92 217.75,148.10 219.15,148.30 220.54,148.49 221.94,148.67 223.33,148.83 224.72,148.95 226.12,149.04 227.51,149.13 228.90,149.21 230.30,149.28 231.69,149.36 233.09,149.42 234.48,149.49 235.87,149.55 237.27,149.60 238.66,149.65 240.06,149.70 241.45,149.73 242.84,149.76 244.24,149.78 245.63,149.80 247.03,149.80 247.03,156.40 245.63,156.40 244.24,156.38 242.84,156.36 241.45,156.33 240.06,156.30 238.66,156.25 237.27,156.20 235.87,156.15 234.48,156.09 233.09,156.02 231.69,155.96 230.30,155.88 228.90,155.81 227.51,155.73 226.12,155.64 224.72,155.55 223.33,155.43 221.94,155.27 220.54,155.09 219.15,154.90 217.75,154.70 216.36,154.52 214.97,154.35 213.57,154.15 212.18,153.94 210.78,153.75 209.39,153.63 208.00,153.61 206.60,153.83 205.21,154.18 203.82,154.60 202.42,155.19 201.03,155.40 199.63,155.40 198.24,155.40 196.85,155.40 195.45,155.40 194.06,155.40 192.66,155.40 191.27,155.40 189.88,155.40 188.48,155.40 187.09,155.40 185.69,155.40 184.30,155.40 182.91,155.40 181.51,155.40 180.12,155.40 178.73,155.40 177.33,155.40 175.94,155.40 174.54,155.40 173.15,155.40 171.76,155.40 170.36,155.40 168.97,155.40 167.57,155.40 166.18,155.40 164.79,155.40 163.39,155.40 162.00,155.40 160.61,155.40 159.21,155.40 157.82,155.40 156.42,155.41 155.03,155.41 153.64,155.41 152.24,155.41 150.85,155.41 149.45,155.41 148.06,155.41 146.67,155.41 145.27,155.42 143.88,155.42 142.48,155.42 141.09,155.42 139.70,155.42 138.30,155.42 136.91,155.43 135.52,155.43 134.12,155.43 132.73,155.43 131.33,155.44 129.94,155.44 128.55,155.44 127.15,155.44 125.76,155.45 124.36,155.45 122.97,155.45 121.58,155.46 120.18,155.46 118.79,155.46 117.40,155.47 116.00,155.47 114.61,155.47 113.21,155.48 111.82,155.48 110.43,155.48 109.03,155.49 107.64,155.49 106.24,155.50 104.85,155.50 103.46,155.51 102.06,155.53 100.67,155.55 99.28,155.57 97.88,155.60 96.49,155.63 95.09,155.66 93.70,155.70 92.31,155.74 90.91,155.78 89.52,155.83 88.12,155.91 86.73,156.01 85.34,156.12 83.94,156.23 82.55,156.33 81.15,156.41 79.76,156.50 78.37,156.59 76.97,156.67 75.58,156.70 74.19,156.47 72.79,155.94 71.40,155.38 70.00,154.85 68.61,154.70 67.22,154.59 65.82,154.49 64.43,154.41 63.03,154.34 61.64,154.28 60.25,154.22 58.85,154.18 57.46,154.13 56.07,154.10 54.67,154.06 53.28,154.03 51.88,154.00 50.49,153.96 49.10,153.93 47.70,153.88 46.31,153.84 44.91,153.78 43.52,153.72 42.13,153.67 40.73,153.61 39.34,153.56 37.94,153.50 36.55,153.44 35.16,153.39 33.76,153.33 32.37,153.28 30.98,153.22 29.58,153.17 28.19,153.11 26.79,153.06 25.40,153.00" fill="#a862b9" stroke="none"/>
<path d="M40.17 7.20V181.60" stroke="#4646ff" stroke-width="1.7" stroke-dasharray="4.4 1.6 1.8 1.6"/>
<path d="M25.40 6.90V181.60H247.00M40.17 181.60v-2.2M69.72 181.60v-2.2M99.27 181.60v-2.2M128.81 181.60v-2.2M158.36 181.60v-2.2M187.91 181.60v-2.2M217.45 181.60v-2.2M247.00 181.60v-2.2M25.40 181.60h2.2M25.40 152.48h2.2M25.40 123.37h2.2M25.40 94.25h2.2M25.40 65.13h2.2M25.40 36.02h2.2M25.40 6.90h2.2" stroke="#8a8a8a" stroke-width="0.9" fill="none"/>
<text x="40.17" y="191.40" class="tk" text-anchor="middle">3</text>
<text x="69.72" y="191.40" class="tk" text-anchor="middle">4</text>
<text x="99.27" y="191.40" class="tk" text-anchor="middle">5</text>
<text x="128.81" y="191.40" class="tk" text-anchor="middle">6</text>
<text x="158.36" y="191.40" class="tk" text-anchor="middle">7</text>
<text x="187.91" y="191.40" class="tk" text-anchor="middle">8</text>
<text x="217.45" y="191.40" class="tk" text-anchor="middle">9</text>
<text x="247.00" y="191.40" class="tk" text-anchor="middle">10</text>
<text x="22.20" y="184.50" class="tk" text-anchor="end">-5</text>
<text x="22.20" y="155.38" class="tk" text-anchor="end">0</text>
<text x="22.20" y="126.27" class="tk" text-anchor="end">5</text>
<text x="22.20" y="97.15" class="tk" text-anchor="end">10</text>
<text x="22.20" y="68.03" class="tk" text-anchor="end">15</text>
<text x="22.20" y="38.92" class="tk" text-anchor="end">20</text>
<text x="22.20" y="9.80" class="tk" text-anchor="end">25</text>
<text x="136.20" y="201.40" class="al" letter-spacing="0.15" text-anchor="middle">Time (seconds)</text>
<text transform="translate(11.30,94.25) rotate(-90)" class="al" text-anchor="middle">Amplitude</text>
<rect x="196.70" y="11.20" width="45.0" height="67.9" fill="#fff" stroke="#a0a0a0" stroke-width="0.8"/>
<path d="M198.90 18.20H218.70" stroke="#ff1a1a" stroke-width="1.5" stroke-dasharray="4.1 2.3"/>
<text x="221.30" y="20.10" class="lg">f</text>
<text x="225.70" y="16.40" class="ls">a</text>
<text x="225.30" y="22.60" class="ls">3</text>
<text x="229.90" y="20.50" class="lp">(<tspan class="li">t</tspan>)</text>
<path d="M198.90 29.02H218.70" stroke="#4f88c0" stroke-width="1.4"/>
<text x="220.90" y="30.92" class="lg">r</text>
<text x="224.90" y="27.22" class="ls">1</text>
<text x="224.90" y="33.42" class="ls">1</text>
<text x="228.90" y="31.32" class="lp">(<tspan class="li">t</tspan>)</text>
<path d="M198.90 39.84H218.70" stroke="#e8474f" stroke-width="1.4"/>
<text x="220.90" y="41.74" class="lg">r</text>
<text x="224.90" y="38.04" class="ls">1</text>
<text x="224.90" y="44.24" class="ls">2</text>
<text x="228.90" y="42.14" class="lp">(<tspan class="li">t</tspan>)</text>
<path d="M198.90 50.66H218.70" stroke="#6abd5f" stroke-width="1.4"/>
<text x="220.90" y="52.56" class="lg">r</text>
<text x="224.90" y="48.86" class="ls">1</text>
<text x="224.90" y="55.06" class="ls">3</text>
<text x="228.90" y="52.96" class="lp">(<tspan class="li">t</tspan>)</text>
<path d="M198.90 61.48H218.70" stroke="#fba14a" stroke-width="1.4"/>
<text x="220.90" y="63.38" class="lg">r</text>
<text x="224.90" y="59.68" class="ls">1</text>
<text x="224.90" y="65.88" class="ls">4</text>
<text x="228.90" y="63.78" class="lp">(<tspan class="li">t</tspan>)</text>
<path d="M198.90 72.30H218.70" stroke="#a862b9" stroke-width="1.4"/>
<text x="220.90" y="74.20" class="lg">r</text>
<text x="224.90" y="70.50" class="ls">1</text>
<text x="224.90" y="76.70" class="ls">5</text>
<text x="228.90" y="74.60" class="lp">(<tspan class="li">t</tspan>)</text>
<text x="50.40" y="226.80" class="cap">(<tspan font-weight="bold">a</tspan>) Agent 1’s residual signals</text>
<polyline points="318.80,152.42 362.90,152.42 362.90,64.90 362.90,64.90 363.45,64.62 364.00,64.35 364.55,64.09 365.11,63.84 365.66,63.60 366.21,63.37 366.76,63.16 367.31,62.93 367.86,62.69 368.41,62.46 368.96,62.24 369.52,62.04 370.07,61.88 370.62,61.77 371.17,61.71 371.72,61.71 372.27,61.74 372.82,61.80 373.37,61.88 373.93,61.99 374.48,62.11 375.03,62.24 375.58,62.38 376.13,62.53 376.68,62.69 377.23,62.90 377.78,63.16 378.34,63.46 378.89,63.78 379.44,64.09 379.99,64.39 380.54,64.67 381.09,64.93 381.64,65.18 382.19,65.43 382.75,65.68 383.30,65.92 383.85,66.16 384.40,66.40 388.80,64.45 389.70,64.88 390.60,65.25 391.51,65.55 392.41,65.76 393.31,65.89 394.21,65.92 395.11,65.87 396.01,65.75 396.92,65.57 397.82,65.36 398.72,65.10 399.62,64.82 400.52,64.50 401.42,64.16 402.33,63.79 403.23,63.43 404.13,63.06 405.03,62.71 405.93,62.37 406.83,62.06 407.74,61.79 408.64,61.57 409.54,61.42 410.44,61.32 411.34,61.30 412.24,61.35 413.15,61.47 414.05,61.65 414.95,61.90 415.85,62.21 416.75,62.56 417.65,62.96 418.56,63.39 419.46,63.84 420.36,64.31 421.26,64.79 422.16,65.26 423.06,65.71 423.97,66.14 424.87,66.54 425.77,66.88 426.67,67.18 427.57,67.41 428.47,67.58 429.38,67.69 430.28,67.72 431.18,67.69 432.08,67.58 432.98,67.42 433.88,67.19 434.79,66.91 435.69,66.58 436.59,66.20 437.49,65.80 438.39,65.37 439.29,64.93 440.20,64.48 441.10,64.05 442.00,63.64 442.90,63.26 443.80,62.91 444.70,62.61 445.61,62.37 446.51,62.18 447.41,62.06 448.31,62.00 449.21,62.02 450.11,62.10 451.02,62.24 451.92,62.45 452.82,62.71 453.72,63.03 454.62,63.39 455.52,63.78 456.43,64.21 457.33,64.64 458.23,65.09 459.13,65.53 460.03,65.95 460.93,66.35 461.84,66.72 462.74,67.04 463.64,67.31 464.54,67.53 465.44,67.69 466.34,67.78 467.25,67.80 468.15,67.75 469.05,67.64 469.95,67.47 470.85,67.23 471.75,66.94 472.66,66.60 473.56,66.22 474.46,65.82 475.36,65.38 476.26,64.94 477.16,64.50 478.07,64.07 478.97,63.65 479.87,63.27 480.77,62.92 481.67,62.62 482.57,62.37 483.48,62.19 484.38,62.06 485.28,62.00 486.18,62.01 487.08,62.09 487.98,62.23 488.89,62.44 489.79,62.70 490.69,63.02 491.59,63.38 492.49,63.77 493.39,64.19 494.30,64.63 495.20,65.07 496.10,65.51 496.10,65.51 496.10,152.42 540.42,152.42" fill="none" stroke="#ff1a1a" stroke-width="1.5" stroke-linejoin="round" stroke-linecap="butt" stroke-dasharray="4.2 2.1"/>
<polygon points="318.80,147.00 320.19,147.06 321.59,147.12 322.98,147.18 324.38,147.24 325.77,147.29 327.16,147.35 328.56,147.41 329.95,147.46 331.34,147.52 332.74,147.57 334.13,147.63 335.53,147.68 336.92,147.73 338.31,147.78 339.71,147.83 341.10,147.87 342.50,147.91 343.89,147.94 345.28,147.97 346.68,147.99 348.07,148.02 349.47,148.04 350.86,148.07 352.25,148.10 353.65,148.14 355.04,148.18 356.43,148.23 357.83,148.29 359.22,148.36 360.62,148.44 362.01,148.54 363.40,148.74 364.80,149.49 366.19,150.33 367.59,151.33 368.98,152.05 370.37,152.05 371.77,151.86 373.16,151.61 374.55,151.36 375.95,151.05 377.34,150.71 378.74,150.38 380.13,150.10 381.52,149.91 382.92,149.73 384.31,149.56 385.71,149.42 387.10,149.30 388.49,149.22 389.89,149.20 391.28,149.20 392.68,149.20 394.07,149.20 395.46,149.20 396.86,149.20 398.25,149.20 399.64,149.21 401.04,149.21 402.43,149.21 403.83,149.21 405.22,149.21 406.61,149.22 408.01,149.22 409.40,149.22 410.80,149.22 412.19,149.23 413.58,149.23 414.98,149.23 416.37,149.24 417.76,149.24 419.16,149.24 420.55,149.25 421.95,149.25 423.34,149.25 424.73,149.26 426.13,149.26 427.52,149.26 428.92,149.27 430.31,149.27 431.70,149.28 433.10,149.28 434.49,149.29 435.88,149.29 437.28,149.30 438.67,149.30 440.07,149.30 441.46,149.31 442.85,149.32 444.25,149.33 445.64,149.34 447.04,149.35 448.43,149.36 449.82,149.37 451.22,149.38 452.61,149.40 454.01,149.41 455.40,149.42 456.79,149.44 458.19,149.45 459.58,149.47 460.97,149.48 462.37,149.50 463.76,149.51 465.16,149.53 466.55,149.55 467.94,149.56 469.34,149.57 470.73,149.59 472.13,149.60 473.52,149.62 474.91,149.63 476.31,149.64 477.70,149.65 479.09,149.66 480.49,149.67 481.88,149.68 483.28,149.68 484.67,149.69 486.06,149.69 487.46,149.70 488.85,149.70 490.25,149.70 491.64,149.66 493.03,149.57 494.43,149.45 495.82,149.30 497.22,148.82 498.61,148.10 500.00,147.67 501.40,147.48 502.79,147.40 504.18,147.49 505.58,147.71 506.97,147.99 508.37,148.24 509.76,148.42 511.15,148.60 512.55,148.78 513.94,148.95 515.34,149.10 516.73,149.24 518.12,149.35 519.52,149.45 520.91,149.53 522.30,149.62 523.70,149.71 525.09,149.79 526.49,149.86 527.88,149.94 529.27,150.01 530.67,150.07 532.06,150.13 533.46,150.18 534.85,150.22 536.24,150.25 537.64,150.28 539.03,150.29 540.42,150.30 540.42,156.30 539.03,156.29 537.64,156.28 536.24,156.25 534.85,156.22 533.46,156.18 532.06,156.13 530.67,156.07 529.27,156.01 527.88,155.94 526.49,155.86 525.09,155.79 523.70,155.71 522.30,155.62 520.91,155.53 519.52,155.45 518.12,155.35 516.73,155.24 515.34,155.10 513.94,154.95 512.55,154.78 511.15,154.60 509.76,154.42 508.37,154.24 506.97,153.99 505.58,153.71 504.18,153.49 502.79,153.40 501.40,153.48 500.00,153.67 498.61,154.10 497.22,154.82 495.82,155.30 494.43,155.45 493.03,155.57 491.64,155.66 490.25,155.70 488.85,155.70 487.46,155.70 486.06,155.69 484.67,155.69 483.28,155.68 481.88,155.68 480.49,155.67 479.09,155.66 477.70,155.65 476.31,155.64 474.91,155.63 473.52,155.62 472.13,155.60 470.73,155.59 469.34,155.57 467.94,155.56 466.55,155.55 465.16,155.53 463.76,155.51 462.37,155.50 460.97,155.48 459.58,155.47 458.19,155.45 456.79,155.44 455.40,155.42 454.01,155.41 452.61,155.40 451.22,155.38 449.82,155.37 448.43,155.36 447.04,155.35 445.64,155.34 444.25,155.33 442.85,155.32 441.46,155.31 440.07,155.30 438.67,155.30 437.28,155.30 435.88,155.29 434.49,155.29 433.10,155.28 431.70,155.28 430.31,155.27 428.92,155.27 427.52,155.26 426.13,155.26 424.73,155.26 423.34,155.25 421.95,155.25 420.55,155.25 419.16,155.24 417.76,155.24 416.37,155.24 414.98,155.23 413.58,155.23 412.19,155.23 410.80,155.22 409.40,155.22 408.01,155.22 406.61,155.22 405.22,155.21 403.83,155.21 402.43,155.21 401.04,155.21 399.64,155.21 398.25,155.20 396.86,155.20 395.46,155.20 394.07,155.20 392.68,155.20 391.28,155.20 389.89,155.20 388.49,155.22 387.10,155.30 385.71,155.42 384.31,155.56 382.92,155.73 381.52,155.91 380.13,156.10 378.74,156.38 377.34,156.71 375.95,157.05 374.55,157.36 373.16,157.61 371.77,157.86 370.37,158.05 368.98,158.05 367.59,157.33 366.19,156.33 364.80,155.49 363.40,154.74 362.01,154.54 360.62,154.44 359.22,154.36 357.83,154.29 356.43,154.23 355.04,154.18 353.65,154.14 352.25,154.10 350.86,154.07 349.47,154.04 348.07,154.02 346.68,153.99 345.28,153.97 343.89,153.94 342.50,153.91 341.10,153.87 339.71,153.83 338.31,153.78 336.92,153.73 335.53,153.68 334.13,153.63 332.74,153.57 331.34,153.52 329.95,153.46 328.56,153.41 327.16,153.35 325.77,153.29 324.38,153.24 322.98,153.18 321.59,153.12 320.19,153.06 318.80,153.00" fill="#4f88c0" stroke="none"/>
<polygon points="318.80,147.00 320.19,147.06 321.59,147.12 322.98,147.18 324.38,147.24 325.77,147.29 327.16,147.35 328.56,147.41 329.95,147.46 331.34,147.52 332.74,147.57 334.13,147.63 335.53,147.68 336.92,147.73 338.31,147.78 339.71,147.83 341.10,147.87 342.50,147.91 343.89,147.94 345.28,147.97 346.68,147.99 348.07,148.02 349.47,148.04 350.86,148.07 352.25,148.10 353.65,148.14 355.04,148.18 356.43,148.23 357.83,148.29 359.22,148.36 360.62,148.44 362.01,148.54 363.40,148.74 364.80,149.49 366.19,150.33 367.59,151.33 368.98,152.05 370.37,152.05 371.77,151.86 373.16,151.61 374.55,151.36 375.95,151.05 377.34,150.71 378.74,150.38 380.13,150.10 381.52,149.91 382.92,149.73 384.31,149.56 385.71,149.42 387.10,149.30 388.49,149.22 389.89,149.20 391.28,149.20 392.68,149.20 394.07,149.20 395.46,149.20 396.86,149.20 398.25,149.20 399.64,149.21 401.04,149.21 402.43,149.21 403.83,149.21 405.22,149.21 406.61,149.22 408.01,149.22 409.40,149.22 410.80,149.22 412.19,149.23 413.58,149.23 414.98,149.23 416.37,149.24 417.76,149.24 419.16,149.24 420.55,149.25 421.95,149.25 423.34,149.25 424.73,149.26 426.13,149.26 427.52,149.26 428.92,149.27 430.31,149.27 431.70,149.28 433.10,149.28 434.49,149.29 435.88,149.29 437.28,149.30 438.67,149.30 440.07,149.30 441.46,149.31 442.85,149.32 444.25,149.33 445.64,149.34 447.04,149.35 448.43,149.36 449.82,149.37 451.22,149.38 452.61,149.40 454.01,149.41 455.40,149.42 456.79,149.44 458.19,149.45 459.58,149.47 460.97,149.48 462.37,149.50 463.76,149.51 465.16,149.53 466.55,149.55 467.94,149.56 469.34,149.57 470.73,149.59 472.13,149.60 473.52,149.62 474.91,149.63 476.31,149.64 477.70,149.65 479.09,149.66 480.49,149.67 481.88,149.68 483.28,149.68 484.67,149.69 486.06,149.69 487.46,149.70 488.85,149.70 490.25,149.70 491.64,149.66 493.03,149.57 494.43,149.45 495.82,149.30 497.22,148.82 498.61,148.10 500.00,147.67 501.40,147.48 502.79,147.40 504.18,147.49 505.58,147.71 506.97,147.99 508.37,148.24 509.76,148.42 511.15,148.60 512.55,148.78 513.94,148.95 515.34,149.10 516.73,149.24 518.12,149.35 519.52,149.45 520.91,149.53 522.30,149.62 523.70,149.71 525.09,149.79 526.49,149.86 527.88,149.94 529.27,150.01 530.67,150.07 532.06,150.13 533.46,150.18 534.85,150.22 536.24,150.25 537.64,150.28 539.03,150.29 540.42,150.30 540.42,156.30 539.03,156.29 537.64,156.28 536.24,156.25 534.85,156.22 533.46,156.18 532.06,156.13 530.67,156.07 529.27,156.01 527.88,155.94 526.49,155.86 525.09,155.79 523.70,155.71 522.30,155.62 520.91,155.53 519.52,155.45 518.12,155.35 516.73,155.24 515.34,155.10 513.94,154.95 512.55,154.78 511.15,154.60 509.76,154.42 508.37,154.24 506.97,153.99 505.58,153.71 504.18,153.49 502.79,153.40 501.40,153.48 500.00,153.67 498.61,154.10 497.22,154.82 495.82,155.30 494.43,155.45 493.03,155.57 491.64,155.66 490.25,155.70 488.85,155.70 487.46,155.70 486.06,155.69 484.67,155.69 483.28,155.68 481.88,155.68 480.49,155.67 479.09,155.66 477.70,155.65 476.31,155.64 474.91,155.63 473.52,155.62 472.13,155.60 470.73,155.59 469.34,155.57 467.94,155.56 466.55,155.55 465.16,155.53 463.76,155.51 462.37,155.50 460.97,155.48 459.58,155.47 458.19,155.45 456.79,155.44 455.40,155.42 454.01,155.41 452.61,155.40 451.22,155.38 449.82,155.37 448.43,155.36 447.04,155.35 445.64,155.34 444.25,155.33 442.85,155.32 441.46,155.31 440.07,155.30 438.67,155.30 437.28,155.30 435.88,155.29 434.49,155.29 433.10,155.28 431.70,155.28 430.31,155.27 428.92,155.27 427.52,155.26 426.13,155.26 424.73,155.26 423.34,155.25 421.95,155.25 420.55,155.25 419.16,155.24 417.76,155.24 416.37,155.24 414.98,155.23 413.58,155.23 412.19,155.23 410.80,155.22 409.40,155.22 408.01,155.22 406.61,155.22 405.22,155.21 403.83,155.21 402.43,155.21 401.04,155.21 399.64,155.21 398.25,155.20 396.86,155.20 395.46,155.20 394.07,155.20 392.68,155.20 391.28,155.20 389.89,155.20 388.49,155.22 387.10,155.30 385.71,155.42 384.31,155.56 382.92,155.73 381.52,155.91 380.13,156.10 378.74,156.38 377.34,156.71 375.95,157.05 374.55,157.36 373.16,157.61 371.77,157.86 370.37,158.05 368.98,158.05 367.59,157.33 366.19,156.33 364.80,155.49 363.40,154.74 362.01,154.54 360.62,154.44 359.22,154.36 357.83,154.29 356.43,154.23 355.04,154.18 353.65,154.14 352.25,154.10 350.86,154.07 349.47,154.04 348.07,154.02 346.68,153.99 345.28,153.97 343.89,153.94 342.50,153.91 341.10,153.87 339.71,153.83 338.31,153.78 336.92,153.73 335.53,153.68 334.13,153.63 332.74,153.57 331.34,153.52 329.95,153.46 328.56,153.41 327.16,153.35 325.77,153.29 324.38,153.24 322.98,153.18 321.59,153.12 320.19,153.06 318.80,153.00" fill="#e8474f" stroke="none"/>
<polygon points="318.80,146.60 319.09,146.61 319.38,146.62 319.67,146.64 319.96,146.65 320.25,146.66 320.54,146.67 320.83,146.69 321.11,146.70 321.40,146.71 321.69,146.72 321.98,146.74 322.27,146.75 322.56,146.76 322.85,146.77 323.14,146.78 323.43,146.80 323.72,146.81 324.01,146.82 324.30,146.83 324.59,146.84 324.88,146.86 325.16,146.87 325.45,146.88 325.74,146.89 326.03,146.90 326.32,146.92 326.61,146.93 326.90,146.94 327.19,146.95 327.48,146.96 327.77,146.97 328.06,146.99 328.35,147.00 328.64,147.01 328.93,147.02 329.22,147.03 329.50,147.04 329.79,147.06 330.08,147.07 330.37,147.08 330.66,147.09 330.95,147.10 331.24,147.11 331.53,147.12 331.82,147.14 332.11,147.15 332.40,147.16 332.69,147.17 332.98,147.18 333.27,147.19 333.55,147.20 333.84,147.21 334.13,147.23 334.42,147.24 334.71,147.25 335.00,147.26 335.29,147.27 335.58,147.28 335.87,147.29 336.16,147.30 336.45,147.31 336.74,147.32 337.03,147.33 337.32,147.35 337.61,147.36 337.89,147.37 338.18,147.38 338.47,147.39 338.76,147.40 339.05,147.41 339.34,147.42 339.63,147.43 339.92,147.44 340.21,147.45 340.50,147.46 340.79,147.46 341.08,147.47 341.37,147.48 341.66,147.49 341.94,147.50 342.23,147.50 342.52,147.51 342.81,147.52 343.10,147.52 343.39,147.53 343.68,147.53 343.97,147.54 344.26,147.55 344.55,147.55 344.84,147.56 345.13,147.56 345.42,147.57 345.71,147.57 345.99,147.58 346.28,147.58 346.57,147.59 346.86,147.59 347.15,147.60 347.44,147.60 347.73,147.61 348.02,147.61 348.31,147.62 348.60,147.62 348.89,147.63 349.18,147.64 349.47,147.64 349.76,147.65 350.05,147.65 350.33,147.66 350.62,147.66 350.91,147.67 351.20,147.68 351.49,147.68 351.78,147.69 352.07,147.69 352.36,147.70 352.65,147.71 352.94,147.72 353.23,147.72 353.52,147.73 353.81,147.74 354.10,147.75 354.38,147.76 354.67,147.77 354.96,147.78 355.25,147.79 355.54,147.80 355.83,147.81 356.12,147.82 356.41,147.83 356.70,147.84 356.99,147.85 357.28,147.86 357.57,147.88 357.86,147.89 358.15,147.90 358.44,147.92 358.72,147.93 359.01,147.95 359.30,147.96 359.59,147.98 359.88,148.00 360.17,148.01 360.46,148.03 360.75,148.05 361.04,148.07 361.33,148.09 361.62,148.11 361.91,148.13 362.20,148.15 362.49,148.17 362.77,148.20 363.06,148.24 363.35,148.32 363.64,148.43 363.93,148.58 364.22,148.74 364.51,148.91 364.80,149.10 364.80,155.90 364.51,155.71 364.22,155.54 363.93,155.38 363.64,155.23 363.35,155.12 363.06,155.04 362.77,155.00 362.49,154.97 362.20,154.95 361.91,154.93 361.62,154.91 361.33,154.89 361.04,154.87 360.75,154.85 360.46,154.83 360.17,154.81 359.88,154.80 359.59,154.78 359.30,154.76 359.01,154.75 358.72,154.73 358.44,154.72 358.15,154.70 357.86,154.69 357.57,154.68 357.28,154.66 356.99,154.65 356.70,154.64 356.41,154.63 356.12,154.62 355.83,154.61 355.54,154.60 355.25,154.59 354.96,154.58 354.67,154.57 354.38,154.56 354.10,154.55 353.81,154.54 353.52,154.53 353.23,154.52 352.94,154.52 352.65,154.51 352.36,154.50 352.07,154.49 351.78,154.49 351.49,154.48 351.20,154.48 350.91,154.47 350.62,154.46 350.33,154.46 350.05,154.45 349.76,154.45 349.47,154.44 349.18,154.44 348.89,154.43 348.60,154.42 348.31,154.42 348.02,154.41 347.73,154.41 347.44,154.40 347.15,154.40 346.86,154.39 346.57,154.39 346.28,154.38 345.99,154.38 345.71,154.37 345.42,154.37 345.13,154.36 344.84,154.36 344.55,154.35 344.26,154.35 343.97,154.34 343.68,154.33 343.39,154.33 343.10,154.32 342.81,154.32 342.52,154.31 342.23,154.30 341.94,154.30 341.66,154.29 341.37,154.28 341.08,154.27 340.79,154.26 340.50,154.26 340.21,154.25 339.92,154.24 339.63,154.23 339.34,154.22 339.05,154.21 338.76,154.20 338.47,154.19 338.18,154.18 337.89,154.17 337.61,154.16 337.32,154.15 337.03,154.13 336.74,154.12 336.45,154.11 336.16,154.10 335.87,154.09 335.58,154.08 335.29,154.07 335.00,154.06 334.71,154.05 334.42,154.04 334.13,154.03 333.84,154.01 333.55,154.00 333.27,153.99 332.98,153.98 332.69,153.97 332.40,153.96 332.11,153.95 331.82,153.94 331.53,153.92 331.24,153.91 330.95,153.90 330.66,153.89 330.37,153.88 330.08,153.87 329.79,153.86 329.50,153.84 329.22,153.83 328.93,153.82 328.64,153.81 328.35,153.80 328.06,153.79 327.77,153.77 327.48,153.76 327.19,153.75 326.90,153.74 326.61,153.73 326.32,153.72 326.03,153.70 325.74,153.69 325.45,153.68 325.16,153.67 324.88,153.66 324.59,153.64 324.30,153.63 324.01,153.62 323.72,153.61 323.43,153.60 323.14,153.58 322.85,153.57 322.56,153.56 322.27,153.55 321.98,153.54 321.69,153.52 321.40,153.51 321.11,153.50 320.83,153.49 320.54,153.47 320.25,153.46 319.96,153.45 319.67,153.44 319.38,153.42 319.09,153.41 318.80,153.40" fill="#66bc62" stroke="none"/>
<polyline points="364.60,152.42 364.80,105.00 365.40,86.50 366.00,68.50" fill="none" stroke="#66bc62" stroke-width="1.5" stroke-linejoin="round" stroke-linecap="butt" />
<polygon points="370.50,63.50 371.00,62.93 371.50,62.38 372.00,61.86 372.50,61.42 373.00,61.07 373.50,60.86 374.00,60.80 374.50,60.82 375.00,60.86 375.50,60.92 376.00,61.00 376.50,61.09 377.00,61.20 377.50,61.32 378.00,61.44 378.50,61.58 379.00,61.71 379.50,61.85 380.00,61.99 380.50,62.12 381.00,62.25 381.50,62.39 382.00,62.54 382.50,62.70 383.00,62.87 383.50,63.05 384.00,63.23 384.50,63.30 385.00,63.30 385.00,64.50 384.50,64.33 384.00,64.17 383.50,64.01 383.00,63.85 382.50,63.69 382.00,63.55 381.50,63.40 381.00,63.26 380.50,63.13 380.00,63.00 379.50,62.87 379.00,62.73 378.50,62.59 378.00,62.45 377.50,62.31 377.00,62.17 376.50,62.05 376.00,61.94 375.50,61.84 375.00,61.77 374.50,61.72 374.00,61.70 373.50,61.76 373.00,61.98 372.50,62.33 372.00,62.79 371.50,63.32 371.00,63.90 370.50,64.50" fill="#66bc62" stroke="none"/>
<polygon points="381.80,56.46 382.28,56.78 382.76,57.12 383.25,57.47 383.73,57.83 384.21,58.19 384.69,58.54 385.17,58.88 385.66,59.22 386.14,59.56 386.62,59.88 387.10,60.20 387.58,60.50 388.07,60.79 388.55,61.06 389.03,61.32 389.51,61.55 389.99,61.76 390.48,61.95 390.96,62.13 391.44,62.28 391.92,62.41 392.40,62.51 392.89,62.59 393.37,62.64 393.85,62.67 394.33,62.67 394.81,62.65 395.30,62.60 395.78,62.54 396.26,62.46 396.74,62.36 397.22,62.25 397.71,62.13 398.19,62.01 398.67,61.87 399.15,61.72 399.63,61.57 400.12,61.40 400.60,61.23 401.08,61.04 401.56,60.85 402.04,60.66 402.53,60.46 403.01,60.26 403.49,60.07 403.97,59.87 404.45,59.68 404.94,59.49 405.42,59.31 405.90,59.13 406.38,58.96 406.86,58.80 407.35,58.65 407.83,58.52 408.31,58.40 408.79,58.29 409.27,58.21 409.76,58.14 410.24,58.09 410.72,58.06 411.20,58.05 411.68,58.06 412.17,58.09 412.65,58.14 413.13,58.22 413.61,58.31 414.09,58.41 414.58,58.54 415.06,58.69 415.54,58.85 416.02,59.02 416.50,59.21 416.99,59.41 417.47,59.63 417.95,59.85 418.43,60.08 418.91,60.32 419.40,60.56 419.88,60.81 420.36,61.06 420.84,61.32 421.32,61.57 421.81,61.83 422.29,62.08 422.77,62.32 423.25,62.56 423.73,62.79 424.22,63.01 424.70,63.22 425.18,63.41 425.66,63.60 426.14,63.76 426.63,63.92 427.11,64.05 427.59,64.17 428.07,64.27 428.55,64.35 429.04,64.41 429.52,64.45 430.00,64.47 430.48,64.47 430.96,64.45 431.45,64.41 431.93,64.36 432.41,64.28 432.89,64.19 433.37,64.08 433.86,63.95 434.34,63.81 434.82,63.65 435.30,63.47 435.78,63.29 436.27,63.09 436.75,62.88 437.23,62.67 437.71,62.44 438.19,62.21 438.68,61.98 439.16,61.74 439.64,61.51 440.12,61.27 440.61,61.04 441.09,60.81 441.57,60.58 442.05,60.37 442.53,60.16 443.02,59.96 443.50,59.77 443.98,59.60 444.46,59.44 444.94,59.29 445.43,59.16 445.91,59.05 446.39,58.95 446.87,58.87 447.35,58.81 447.84,58.77 448.32,58.75 448.80,58.75 449.28,58.77 449.76,58.81 450.25,58.86 450.73,58.94 451.21,59.03 451.69,59.14 452.17,59.27 452.66,59.41 453.14,59.57 453.62,59.74 454.10,59.93 454.58,60.12 455.07,60.33 455.55,60.54 456.03,60.77 456.51,61.00 456.99,61.23 457.48,61.47 457.96,61.70 458.44,61.94 458.92,62.17 459.40,62.41 459.89,62.63 460.37,62.85 460.85,63.06 461.33,63.27 461.81,63.46 462.30,63.64 462.78,63.80 463.26,63.95 463.74,64.09 464.22,64.21 464.71,64.31 465.19,64.40 465.67,64.46 466.15,64.51 466.63,64.54 467.12,64.55 467.60,64.54 468.08,64.51 468.56,64.46 469.04,64.39 469.53,64.31 470.01,64.20 470.49,64.08 470.97,63.95 471.45,63.79 471.94,63.63 472.42,63.45 472.90,63.25 473.38,63.05 473.86,62.84 474.35,62.62 474.83,62.39 475.31,62.16 475.79,61.92 476.27,61.69 476.76,61.45 477.24,61.21 477.72,60.98 478.20,60.75 478.68,60.53 479.17,60.32 479.65,60.11 480.13,59.91 480.61,59.73 481.09,59.56 481.58,59.40 482.06,59.26 482.54,59.13 483.02,59.02 483.50,58.93 483.99,58.86 484.47,58.80 484.95,58.77 485.43,58.75 485.91,58.75 486.40,58.78 486.88,58.82 487.36,58.88 487.84,58.96 488.32,59.05 488.81,59.17 489.29,59.30 489.77,59.45 490.25,59.61 490.73,59.78 491.22,59.97 491.70,60.17 492.18,60.38 492.66,60.60 493.14,60.82 493.63,61.05 494.11,61.29 494.59,61.52 495.07,61.76 495.55,62.00 496.04,62.23 496.52,62.46 497.00,62.69 497.00,69.39 496.52,69.16 496.04,68.93 495.55,68.70 495.07,68.46 494.59,68.22 494.11,67.99 493.63,67.75 493.14,67.52 492.66,67.30 492.18,67.08 491.70,66.87 491.22,66.67 490.73,66.48 490.25,66.31 489.77,66.15 489.29,66.00 488.81,65.87 488.32,65.75 487.84,65.66 487.36,65.58 486.88,65.52 486.40,65.48 485.91,65.45 485.43,65.45 484.95,65.47 484.47,65.50 483.99,65.56 483.50,65.63 483.02,65.72 482.54,65.83 482.06,65.96 481.58,66.10 481.09,66.26 480.61,66.43 480.13,66.61 479.65,66.81 479.17,67.02 478.68,67.23 478.20,67.45 477.72,67.68 477.24,67.91 476.76,68.15 476.27,68.39 475.79,68.62 475.31,68.86 474.83,69.09 474.35,69.32 473.86,69.54 473.38,69.75 472.90,69.95 472.42,70.15 471.94,70.33 471.45,70.49 470.97,70.65 470.49,70.78 470.01,70.90 469.53,71.01 469.04,71.09 468.56,71.16 468.08,71.21 467.60,71.24 467.12,71.25 466.63,71.24 466.15,71.21 465.67,71.16 465.19,71.10 464.71,71.01 464.22,70.91 463.74,70.79 463.26,70.65 462.78,70.50 462.30,70.34 461.81,70.16 461.33,69.97 460.85,69.76 460.37,69.55 459.89,69.33 459.40,69.11 458.92,68.87 458.44,68.64 457.96,68.40 457.48,68.17 456.99,67.93 456.51,67.70 456.03,67.47 455.55,67.24 455.07,67.03 454.58,66.82 454.10,66.63 453.62,66.44 453.14,66.27 452.66,66.11 452.17,65.97 451.69,65.84 451.21,65.73 450.73,65.64 450.25,65.56 449.76,65.51 449.28,65.47 448.80,65.45 448.32,65.45 447.84,65.47 447.35,65.51 446.87,65.57 446.39,65.65 445.91,65.75 445.43,65.86 444.94,65.99 444.46,66.14 443.98,66.30 443.50,66.47 443.02,66.66 442.53,66.86 442.05,67.07 441.57,67.28 441.09,67.51 440.61,67.74 440.12,67.97 439.64,68.21 439.16,68.44 438.68,68.68 438.19,68.91 437.71,69.14 437.23,69.37 436.75,69.58 436.27,69.79 435.78,69.99 435.30,70.17 434.82,70.35 434.34,70.51 433.86,70.65 433.37,70.78 432.89,70.89 432.41,70.98 431.93,71.06 431.45,71.11 430.96,71.15 430.48,71.17 430.00,71.17 429.52,71.15 429.04,71.11 428.55,71.05 428.07,70.97 427.59,70.87 427.11,70.75 426.63,70.62 426.14,70.46 425.66,70.30 425.18,70.11 424.70,69.92 424.22,69.71 423.73,69.49 423.25,69.26 422.77,69.02 422.29,68.78 421.81,68.53 421.32,68.27 420.84,68.02 420.36,67.76 419.88,67.51 419.40,67.26 418.91,67.02 418.43,66.78 417.95,66.55 417.47,66.33 416.99,66.11 416.50,65.91 416.02,65.72 415.54,65.55 415.06,65.39 414.58,65.24 414.09,65.11 413.61,65.01 413.13,64.92 412.65,64.84 412.17,64.79 411.68,64.76 411.20,64.75 410.72,64.76 410.24,64.79 409.76,64.84 409.27,64.91 408.79,64.99 408.31,65.10 407.83,65.22 407.35,65.35 406.86,65.50 406.38,65.66 405.90,65.83 405.42,66.01 404.94,66.19 404.45,66.38 403.97,66.57 403.49,66.77 403.01,66.96 402.53,67.16 402.04,67.36 401.56,67.55 401.08,67.74 400.60,67.93 400.12,68.10 399.63,68.27 399.15,68.42 398.67,68.57 398.19,68.71 397.71,68.83 397.22,68.95 396.74,69.06 396.26,69.16 395.78,69.24 395.30,69.30 394.81,69.35 394.33,69.37 393.85,69.37 393.37,69.34 392.89,69.29 392.40,69.21 391.92,69.11 391.44,68.98 390.96,68.83 390.48,68.65 389.99,68.46 389.51,68.25 389.03,68.02 388.55,67.76 388.07,67.49 387.58,67.20 387.10,66.90 386.62,66.58 386.14,66.26 385.66,65.92 385.17,65.58 384.69,65.24 384.21,64.89 383.73,64.53 383.25,64.17 382.76,63.82 382.28,63.48 381.80,63.16" fill="#66bc62" stroke="none"/>
<polyline points="366.00,68.50 366.70,83.90 367.30,64.50 368.00,71.00 368.90,44.30 370.50,63.50 372.30,42.80 373.90,60.80 375.70,46.20 377.50,61.50 379.00,50.20 380.80,62.20 382.50,54.50 384.20,63.30 385.90,58.60 387.60,65.00 389.30,61.50 390.90,66.70 392.60,63.50 394.20,67.50" fill="none" stroke="#66bc62" stroke-width="1.9" stroke-linejoin="round" stroke-linecap="butt" stroke-linejoin="round"/>
<polyline points="498.40,68.50 498.80,106.50 499.10,141.50 499.60,151.50 500.30,133.00 501.00,152.50 501.90,171.90 503.60,155.00 505.30,172.40 507.10,155.00 508.80,169.30 510.40,155.00 512.00,165.20 513.80,155.00 515.50,163.00 517.20,155.00 519.00,160.50 520.80,155.00 522.50,159.00" fill="none" stroke="#66bc62" stroke-width="1.7" stroke-linejoin="round" stroke-linecap="butt" />
<polygon points="518.80,154.50 519.24,154.50 519.68,154.50 520.12,154.50 520.57,154.50 521.01,154.50 521.45,154.50 521.89,154.50 522.33,154.50 522.77,154.50 523.21,154.50 523.65,154.50 524.10,154.50 524.54,154.50 524.98,154.50 525.42,154.50 525.86,154.50 526.30,154.50 526.74,154.50 527.19,154.50 527.63,154.50 528.07,154.50 528.51,154.50 528.95,154.50 529.39,154.50 529.83,154.50 530.27,154.50 530.72,154.50 531.16,154.50 531.60,154.50 532.04,154.50 532.48,154.50 532.92,154.50 533.36,154.50 533.81,154.50 534.25,154.50 534.69,154.50 535.13,154.50 535.57,154.50 536.01,154.50 536.45,154.50 536.89,154.50 537.34,154.50 537.78,154.50 538.22,154.50 538.66,154.50 539.10,154.50 539.54,154.50 539.98,154.50 540.42,154.50 540.42,155.80 539.98,155.85 539.54,155.91 539.10,155.96 538.66,156.02 538.22,156.07 537.78,156.13 537.34,156.18 536.89,156.24 536.45,156.30 536.01,156.35 535.57,156.41 535.13,156.47 534.69,156.52 534.25,156.58 533.81,156.64 533.36,156.69 532.92,156.75 532.48,156.81 532.04,156.87 531.60,156.93 531.16,156.99 530.72,157.04 530.27,157.10 529.83,157.16 529.39,157.22 528.95,157.28 528.51,157.34 528.07,157.40 527.63,157.46 527.19,157.52 526.74,157.58 526.30,157.64 525.86,157.70 525.42,157.76 524.98,157.82 524.54,157.88 524.10,157.95 523.65,158.01 523.21,158.07 522.77,158.13 522.33,158.19 521.89,158.26 521.45,158.32 521.01,158.38 520.57,158.45 520.12,158.51 519.68,158.57 519.24,158.64 518.80,158.70" fill="#66bc62" stroke="none"/>
<polygon points="318.80,148.10 320.19,148.22 321.59,148.33 322.98,148.44 324.38,148.53 325.77,148.63 327.16,148.71 328.56,148.79 329.95,148.86 331.34,148.93 332.74,148.99 334.13,149.04 335.53,149.09 336.92,149.14 338.31,149.18 339.71,149.21 341.10,149.24 342.50,149.27 343.89,149.30 345.28,149.32 346.68,149.34 348.07,149.35 349.47,149.36 350.86,149.37 352.25,149.38 353.65,149.39 355.04,149.39 356.43,149.40 357.83,149.40 359.22,149.40 360.62,149.40 362.01,149.40 363.40,149.29 364.80,148.66 366.19,148.41 367.59,148.51 368.98,148.71 370.37,148.93 371.77,149.17 373.16,149.48 374.55,149.82 375.95,150.14 377.34,150.39 378.74,150.65 380.13,150.90 381.52,151.12 382.92,151.29 384.31,151.39 385.71,151.41 387.10,151.42 388.49,151.43 389.89,151.44 391.28,151.46 392.68,151.47 394.07,151.48 395.46,151.49 396.86,151.49 398.25,151.50 399.64,151.51 401.04,151.52 402.43,151.53 403.83,151.53 405.22,151.54 406.61,151.54 408.01,151.55 409.40,151.56 410.80,151.56 412.19,151.56 413.58,151.57 414.98,151.57 416.37,151.58 417.76,151.58 419.16,151.58 420.55,151.59 421.95,151.59 423.34,151.59 424.73,151.59 426.13,151.59 427.52,151.60 428.92,151.60 430.31,151.60 431.70,151.60 433.10,151.60 434.49,151.60 435.88,151.60 437.28,151.60 438.67,151.60 440.07,151.60 441.46,151.60 442.85,151.60 444.25,151.59 445.64,151.59 447.04,151.58 448.43,151.58 449.82,151.57 451.22,151.56 452.61,151.56 454.01,151.55 455.40,151.54 456.79,151.52 458.19,151.51 459.58,151.50 460.97,151.49 462.37,151.47 463.76,151.46 465.16,151.44 466.55,151.42 467.94,151.40 469.34,151.38 470.73,151.36 472.13,151.34 473.52,151.32 474.91,151.30 476.31,151.27 477.70,151.25 479.09,151.22 480.49,151.20 481.88,151.17 483.28,151.14 484.67,151.11 486.06,151.08 487.46,151.05 488.85,151.02 490.25,150.99 491.64,150.93 493.03,150.85 494.43,150.76 495.82,150.67 497.22,150.57 498.61,150.49 500.00,150.38 501.40,150.21 502.79,149.87 504.18,149.52 505.58,149.28 506.97,149.05 508.37,148.86 509.76,148.73 511.15,148.70 512.55,148.71 513.94,148.72 515.34,148.74 516.73,148.76 518.12,148.79 519.52,148.81 520.91,148.84 522.30,148.86 523.70,148.89 525.09,148.92 526.49,148.96 527.88,148.99 529.27,149.03 530.67,149.07 532.06,149.11 533.46,149.15 534.85,149.20 536.24,149.25 537.64,149.30 539.03,149.35 540.42,149.40 540.42,154.80 539.03,154.75 537.64,154.70 536.24,154.65 534.85,154.60 533.46,154.55 532.06,154.51 530.67,154.47 529.27,154.43 527.88,154.39 526.49,154.36 525.09,154.32 523.70,154.29 522.30,154.26 520.91,154.24 519.52,154.21 518.12,154.19 516.73,154.16 515.34,154.14 513.94,154.12 512.55,154.11 511.15,154.10 509.76,154.13 508.37,154.26 506.97,154.45 505.58,154.68 504.18,154.92 502.79,155.27 501.40,155.61 500.00,155.78 498.61,155.89 497.22,155.97 495.82,156.07 494.43,156.16 493.03,156.25 491.64,156.33 490.25,156.39 488.85,156.42 487.46,156.45 486.06,156.48 484.67,156.51 483.28,156.54 481.88,156.57 480.49,156.60 479.09,156.62 477.70,156.65 476.31,156.67 474.91,156.70 473.52,156.72 472.13,156.74 470.73,156.76 469.34,156.78 467.94,156.80 466.55,156.82 465.16,156.84 463.76,156.86 462.37,156.87 460.97,156.89 459.58,156.90 458.19,156.91 456.79,156.92 455.40,156.94 454.01,156.95 452.61,156.96 451.22,156.96 449.82,156.97 448.43,156.98 447.04,156.98 445.64,156.99 444.25,156.99 442.85,157.00 441.46,157.00 440.07,157.00 438.67,157.00 437.28,157.00 435.88,157.00 434.49,157.00 433.10,157.00 431.70,157.00 430.31,157.00 428.92,157.00 427.52,157.00 426.13,156.99 424.73,156.99 423.34,156.99 421.95,156.99 420.55,156.99 419.16,156.98 417.76,156.98 416.37,156.98 414.98,156.97 413.58,156.97 412.19,156.96 410.80,156.96 409.40,156.96 408.01,156.95 406.61,156.94 405.22,156.94 403.83,156.93 402.43,156.93 401.04,156.92 399.64,156.91 398.25,156.90 396.86,156.89 395.46,156.89 394.07,156.88 392.68,156.87 391.28,156.86 389.89,156.84 388.49,156.83 387.10,156.82 385.71,156.81 384.31,156.79 382.92,156.69 381.52,156.52 380.13,156.30 378.74,156.05 377.34,155.79 375.95,155.54 374.55,155.22 373.16,154.88 371.77,154.57 370.37,154.33 368.98,154.11 367.59,153.91 366.19,153.81 364.80,154.06 363.40,154.69 362.01,154.80 360.62,154.80 359.22,154.80 357.83,154.80 356.43,154.80 355.04,154.79 353.65,154.79 352.25,154.78 350.86,154.77 349.47,154.76 348.07,154.75 346.68,154.74 345.28,154.72 343.89,154.70 342.50,154.67 341.10,154.64 339.71,154.61 338.31,154.58 336.92,154.54 335.53,154.49 334.13,154.44 332.74,154.39 331.34,154.33 329.95,154.26 328.56,154.19 327.16,154.11 325.77,154.03 324.38,153.93 322.98,153.84 321.59,153.73 320.19,153.62 318.80,153.50" fill="#fba14a" stroke="none"/>
<polygon points="318.80,147.00 320.19,147.06 321.59,147.12 322.98,147.18 324.38,147.24 325.77,147.29 327.16,147.35 328.56,147.41 329.95,147.46 331.34,147.52 332.74,147.57 334.13,147.63 335.53,147.68 336.92,147.73 338.31,147.78 339.71,147.83 341.10,147.87 342.50,147.91 343.89,147.94 345.28,147.97 346.68,147.99 348.07,148.02 349.47,148.04 350.86,148.07 352.25,148.10 353.65,148.14 355.04,148.18 356.43,148.23 357.83,148.29 359.22,148.36 360.62,148.44 362.01,148.54 363.40,148.74 364.80,149.49 366.19,150.33 367.59,151.33 368.98,152.05 370.37,152.05 371.77,151.86 373.16,151.61 374.55,151.36 375.95,151.05 377.34,150.71 378.74,150.38 380.13,150.10 381.52,149.91 382.92,149.73 384.31,149.56 385.71,149.42 387.10,149.30 388.49,149.22 389.89,149.20 391.28,149.20 392.68,149.20 394.07,149.20 395.46,149.20 396.86,149.20 398.25,149.20 399.64,149.21 401.04,149.21 402.43,149.21 403.83,149.21 405.22,149.21 406.61,149.22 408.01,149.22 409.40,149.22 410.80,149.22 412.19,149.23 413.58,149.23 414.98,149.23 416.37,149.24 417.76,149.24 419.16,149.24 420.55,149.25 421.95,149.25 423.34,149.25 424.73,149.26 426.13,149.26 427.52,149.26 428.92,149.27 430.31,149.27 431.70,149.28 433.10,149.28 434.49,149.29 435.88,149.29 437.28,149.30 438.67,149.30 440.07,149.30 441.46,149.31 442.85,149.32 444.25,149.33 445.64,149.34 447.04,149.35 448.43,149.36 449.82,149.37 451.22,149.38 452.61,149.40 454.01,149.41 455.40,149.42 456.79,149.44 458.19,149.45 459.58,149.47 460.97,149.48 462.37,149.50 463.76,149.51 465.16,149.53 466.55,149.55 467.94,149.56 469.34,149.57 470.73,149.59 472.13,149.60 473.52,149.62 474.91,149.63 476.31,149.64 477.70,149.65 479.09,149.66 480.49,149.67 481.88,149.68 483.28,149.68 484.67,149.69 486.06,149.69 487.46,149.70 488.85,149.70 490.25,149.70 491.64,149.66 493.03,149.57 494.43,149.45 495.82,149.30 497.22,148.82 498.61,148.10 500.00,147.67 501.40,147.48 502.79,147.40 504.18,147.49 505.58,147.71 506.97,147.99 508.37,148.24 509.76,148.42 511.15,148.60 512.55,148.78 513.94,148.95 515.34,149.10 516.73,149.24 518.12,149.35 519.52,149.45 520.91,149.53 522.30,149.62 523.70,149.71 525.09,149.79 526.49,149.86 527.88,149.94 529.27,150.01 530.67,150.07 532.06,150.13 533.46,150.18 534.85,150.22 536.24,150.25 537.64,150.28 539.03,150.29 540.42,150.30 540.42,156.30 539.03,156.29 537.64,156.28 536.24,156.25 534.85,156.22 533.46,156.18 532.06,156.13 530.67,156.07 529.27,156.01 527.88,155.94 526.49,155.86 525.09,155.79 523.70,155.71 522.30,155.62 520.91,155.53 519.52,155.45 518.12,155.35 516.73,155.24 515.34,155.10 513.94,154.95 512.55,154.78 511.15,154.60 509.76,154.42 508.37,154.24 506.97,153.99 505.58,153.71 504.18,153.49 502.79,153.40 501.40,153.48 500.00,153.67 498.61,154.10 497.22,154.82 495.82,155.30 494.43,155.45 493.03,155.57 491.64,155.66 490.25,155.70 488.85,155.70 487.46,155.70 486.06,155.69 484.67,155.69 483.28,155.68 481.88,155.68 480.49,155.67 479.09,155.66 477.70,155.65 476.31,155.64 474.91,155.63 473.52,155.62 472.13,155.60 470.73,155.59 469.34,155.57 467.94,155.56 466.55,155.55 465.16,155.53 463.76,155.51 462.37,155.50 460.97,155.48 459.58,155.47 458.19,155.45 456.79,155.44 455.40,155.42 454.01,155.41 452.61,155.40 451.22,155.38 449.82,155.37 448.43,155.36 447.04,155.35 445.64,155.34 444.25,155.33 442.85,155.32 441.46,155.31 440.07,155.30 438.67,155.30 437.28,155.30 435.88,155.29 434.49,155.29 433.10,155.28 431.70,155.28 430.31,155.27 428.92,155.27 427.52,155.26 426.13,155.26 424.73,155.26 423.34,155.25 421.95,155.25 420.55,155.25 419.16,155.24 417.76,155.24 416.37,155.24 414.98,155.23 413.58,155.23 412.19,155.23 410.80,155.22 409.40,155.22 408.01,155.22 406.61,155.22 405.22,155.21 403.83,155.21 402.43,155.21 401.04,155.21 399.64,155.21 398.25,155.20 396.86,155.20 395.46,155.20 394.07,155.20 392.68,155.20 391.28,155.20 389.89,155.20 388.49,155.22 387.10,155.30 385.71,155.42 384.31,155.56 382.92,155.73 381.52,155.91 380.13,156.10 378.74,156.38 377.34,156.71 375.95,157.05 374.55,157.36 373.16,157.61 371.77,157.86 370.37,158.05 368.98,158.05 367.59,157.33 366.19,156.33 364.80,155.49 363.40,154.74 362.01,154.54 360.62,154.44 359.22,154.36 357.83,154.29 356.43,154.23 355.04,154.18 353.65,154.14 352.25,154.10 350.86,154.07 349.47,154.04 348.07,154.02 346.68,153.99 345.28,153.97 343.89,153.94 342.50,153.91 341.10,153.87 339.71,153.83 338.31,153.78 336.92,153.73 335.53,153.68 334.13,153.63 332.74,153.57 331.34,153.52 329.95,153.46 328.56,153.41 327.16,153.35 325.77,153.29 324.38,153.24 322.98,153.18 321.59,153.12 320.19,153.06 318.80,153.00" fill="#a862b9" stroke="none"/>
<path d="M333.58 7.20V181.60" stroke="#2626ff" stroke-width="1.2" stroke-dasharray="4.4 1.6 1.8 1.6"/>
<path d="M318.80 6.90V181.60H540.50M333.58 181.60v-2.2M363.14 181.60v-2.2M392.70 181.60v-2.2M422.26 181.60v-2.2M451.82 181.60v-2.2M481.38 181.60v-2.2M510.94 181.60v-2.2M540.50 181.60v-2.2M318.80 181.60h2.2M318.80 152.48h2.2M318.80 123.37h2.2M318.80 94.25h2.2M318.80 65.13h2.2M318.80 36.02h2.2M318.80 6.90h2.2" stroke="#8a8a8a" stroke-width="0.9" fill="none"/>
<text x="333.58" y="191.40" class="tk" text-anchor="middle">3</text>
<text x="363.14" y="191.40" class="tk" text-anchor="middle">4</text>
<text x="392.70" y="191.40" class="tk" text-anchor="middle">5</text>
<text x="422.26" y="191.40" class="tk" text-anchor="middle">6</text>
<text x="451.82" y="191.40" class="tk" text-anchor="middle">7</text>
<text x="481.38" y="191.40" class="tk" text-anchor="middle">8</text>
<text x="510.94" y="191.40" class="tk" text-anchor="middle">9</text>
<text x="540.50" y="191.40" class="tk" text-anchor="middle">10</text>
<text x="315.60" y="184.50" class="tk" text-anchor="end">-5</text>
<text x="315.60" y="155.38" class="tk" text-anchor="end">0</text>
<text x="315.60" y="126.27" class="tk" text-anchor="end">5</text>
<text x="315.60" y="97.15" class="tk" text-anchor="end">10</text>
<text x="315.60" y="68.03" class="tk" text-anchor="end">15</text>
<text x="315.60" y="38.92" class="tk" text-anchor="end">20</text>
<text x="315.60" y="9.80" class="tk" text-anchor="end">25</text>
<text x="429.65" y="201.40" class="al" letter-spacing="0.15" text-anchor="middle">Time (seconds)</text>
<text transform="translate(304.70,94.25) rotate(-90)" class="al" text-anchor="middle">Amplitude</text>
<rect x="494.30" y="10.50" width="45.0" height="67.9" fill="#fff" stroke="#a0a0a0" stroke-width="0.8"/>
<path d="M496.50 17.50H516.30" stroke="#ff1a1a" stroke-width="1.5" stroke-dasharray="4.1 2.3"/>
<text x="518.90" y="19.40" class="lg">f</text>
<text x="523.30" y="15.70" class="ls">a</text>
<text x="522.90" y="21.90" class="ls">3</text>
<text x="527.50" y="19.80" class="lp">(<tspan class="li">t</tspan>)</text>
<path d="M496.50 28.32H516.30" stroke="#4f88c0" stroke-width="1.4"/>
<text x="518.50" y="30.22" class="lg">r</text>
<text x="522.50" y="26.52" class="ls">2</text>
<text x="522.50" y="32.72" class="ls">1</text>
<text x="526.50" y="30.62" class="lp">(<tspan class="li">t</tspan>)</text>
<path d="M496.50 39.14H516.30" stroke="#e8474f" stroke-width="1.4"/>
<text x="518.50" y="41.04" class="lg">r</text>
<text x="522.50" y="37.34" class="ls">2</text>
<text x="522.50" y="43.54" class="ls">2</text>
<text x="526.50" y="41.44" class="lp">(<tspan class="li">t</tspan>)</text>
<path d="M496.50 49.96H516.30" stroke="#6abd5f" stroke-width="1.4"/>
<text x="518.50" y="51.86" class="lg">r</text>
<text x="522.50" y="48.16" class="ls">2</text>
<text x="522.50" y="54.36" class="ls">3</text>
<text x="526.50" y="52.26" class="lp">(<tspan class="li">t</tspan>)</text>
<path d="M496.50 60.78H516.30" stroke="#fba14a" stroke-width="1.4"/>
<text x="518.50" y="62.68" class="lg">r</text>
<text x="522.50" y="58.98" class="ls">2</text>
<text x="522.50" y="65.18" class="ls">4</text>
<text x="526.50" y="63.08" class="lp">(<tspan class="li">t</tspan>)</text>
<path d="M496.50 71.60H516.30" stroke="#a862b9" stroke-width="1.4"/>
<text x="518.50" y="73.50" class="lg">r</text>
<text x="522.50" y="69.80" class="ls">2</text>
<text x="522.50" y="76.00" class="ls">5</text>
<text x="526.50" y="73.90" class="lp">(<tspan class="li">t</tspan>)</text>
<text x="343.50" y="226.80" class="cap">(<tspan font-weight="bold">b</tspan>) Agent 2’s residual signals</text>
<polyline points="25.40,403.82 69.50,403.82 69.50,316.30 69.50,316.30 70.06,315.82 70.63,315.36 71.19,314.93 71.76,314.56 72.32,314.25 72.88,314.03 73.45,313.88 74.01,313.74 74.58,313.61 75.14,313.50 75.71,313.40 76.27,313.32 76.83,313.25 77.40,313.22 77.96,313.20 78.53,313.21 79.09,313.24 79.65,313.30 80.22,313.37 80.78,313.46 81.35,313.56 81.91,313.67 82.47,313.79 83.04,313.91 83.60,314.07 84.17,314.28 84.73,314.54 85.29,314.82 85.86,315.13 86.42,315.44 86.99,315.74 87.55,316.02 88.12,316.30 88.68,316.58 89.24,316.86 89.81,317.14 90.37,317.42 90.94,317.71 91.50,318.00 95.40,315.85 96.30,316.28 97.20,316.65 98.10,316.95 99.00,317.16 99.90,317.29 100.79,317.32 101.69,317.27 102.59,317.15 103.49,316.98 104.39,316.76 105.29,316.51 106.19,316.23 107.09,315.92 107.99,315.57 108.89,315.21 109.79,314.84 110.69,314.48 111.58,314.12 112.48,313.78 113.38,313.47 114.28,313.21 115.18,312.99 116.08,312.82 116.98,312.73 117.88,312.70 118.78,312.74 119.68,312.86 120.58,313.04 121.48,313.28 122.37,313.58 123.27,313.93 124.17,314.32 125.07,314.75 125.97,315.20 126.87,315.67 127.77,316.14 128.67,316.61 129.57,317.07 130.47,317.50 131.37,317.89 132.27,318.25 133.16,318.55 134.06,318.79 134.96,318.97 135.86,319.08 136.76,319.12 137.66,319.09 138.56,319.00 139.46,318.85 140.36,318.63 141.26,318.35 142.16,318.03 143.06,317.66 143.95,317.26 144.85,316.84 145.75,316.40 146.65,315.96 147.55,315.52 148.45,315.11 149.35,314.72 150.25,314.37 151.15,314.06 152.05,313.81 152.95,313.61 153.85,313.48 154.74,313.41 155.64,313.41 156.54,313.48 157.44,313.61 158.34,313.80 159.24,314.06 160.14,314.36 161.04,314.71 161.94,315.10 162.84,315.52 163.74,315.95 164.64,316.39 165.53,316.83 166.43,317.26 167.33,317.66 168.23,318.04 169.13,318.37 170.03,318.65 170.93,318.88 171.83,319.05 172.73,319.16 173.63,319.20 174.53,319.17 175.43,319.08 176.32,318.92 177.22,318.70 178.12,318.42 179.02,318.09 179.92,317.73 180.82,317.33 181.72,316.90 182.62,316.46 183.52,316.02 184.42,315.59 185.32,315.17 186.22,314.77 187.11,314.42 188.01,314.10 188.91,313.84 189.81,313.64 190.71,313.49 191.61,313.41 192.51,313.40 193.41,313.46 194.31,313.58 195.21,313.77 196.11,314.01 197.01,314.31 197.90,314.66 198.80,315.04 199.70,315.45 200.60,315.88 201.50,316.33 202.40,316.77 202.40,316.77 202.40,403.82 247.03,403.82" fill="none" stroke="#ff1a1a" stroke-width="1.5" stroke-linejoin="round" stroke-linecap="butt" stroke-dasharray="4.2 2.1"/>
<polygon points="25.40,397.30 25.69,397.31 25.98,397.33 26.27,397.34 26.56,397.35 26.85,397.37 27.14,397.38 27.43,397.39 27.71,397.41 28.00,397.42 28.29,397.43 28.58,397.45 28.87,397.46 29.16,397.47 29.45,397.49 29.74,397.50 30.03,397.51 30.32,397.53 30.61,397.54 30.90,397.55 31.19,397.57 31.48,397.58 31.76,397.59 32.05,397.61 32.34,397.62 32.63,397.63 32.92,397.65 33.21,397.66 33.50,397.67 33.79,397.69 34.08,397.70 34.37,397.71 34.66,397.72 34.95,397.74 35.24,397.75 35.53,397.76 35.82,397.78 36.10,397.79 36.39,397.80 36.68,397.82 36.97,397.83 37.26,397.84 37.55,397.85 37.84,397.87 38.13,397.88 38.42,397.89 38.71,397.91 39.00,397.92 39.29,397.93 39.58,397.94 39.87,397.96 40.15,397.97 40.44,397.98 40.73,398.00 41.02,398.01 41.31,398.02 41.60,398.03 41.89,398.05 42.18,398.06 42.47,398.07 42.76,398.08 43.05,398.10 43.34,398.11 43.63,398.12 43.92,398.14 44.21,398.15 44.49,398.16 44.78,398.17 45.07,398.19 45.36,398.20 45.65,398.21 45.94,398.22 46.23,398.23 46.52,398.25 46.81,398.26 47.10,398.27 47.39,398.28 47.68,398.29 47.97,398.30 48.26,398.31 48.54,398.32 48.83,398.33 49.12,398.33 49.41,398.34 49.70,398.35 49.99,398.36 50.28,398.37 50.57,398.37 50.86,398.38 51.15,398.39 51.44,398.40 51.73,398.40 52.02,398.41 52.31,398.42 52.59,398.43 52.88,398.43 53.17,398.44 53.46,398.45 53.75,398.45 54.04,398.46 54.33,398.47 54.62,398.48 54.91,398.48 55.20,398.49 55.49,398.50 55.78,398.50 56.07,398.51 56.36,398.52 56.65,398.53 56.93,398.53 57.22,398.54 57.51,398.55 57.80,398.56 58.09,398.57 58.38,398.58 58.67,398.58 58.96,398.59 59.25,398.60 59.54,398.61 59.83,398.62 60.12,398.63 60.41,398.64 60.70,398.65 60.98,398.67 61.27,398.68 61.56,398.69 61.85,398.70 62.14,398.71 62.43,398.73 62.72,398.74 63.01,398.75 63.30,398.77 63.59,398.78 63.88,398.80 64.17,398.82 64.46,398.83 64.75,398.85 65.04,398.87 65.32,398.88 65.61,398.90 65.90,398.92 66.19,398.94 66.48,398.96 66.77,398.98 67.06,399.00 67.35,399.02 67.64,399.05 67.93,399.07 68.22,399.09 68.51,399.12 68.80,399.14 69.09,399.17 69.37,399.20 69.66,399.24 69.95,399.30 70.24,399.39 70.53,399.50 70.82,399.62 71.11,399.75 71.40,399.88 71.40,407.28 71.11,407.15 70.82,407.02 70.53,406.90 70.24,406.79 69.95,406.70 69.66,406.64 69.37,406.60 69.09,406.57 68.80,406.54 68.51,406.52 68.22,406.49 67.93,406.47 67.64,406.45 67.35,406.42 67.06,406.40 66.77,406.38 66.48,406.36 66.19,406.34 65.90,406.32 65.61,406.30 65.32,406.28 65.04,406.27 64.75,406.25 64.46,406.23 64.17,406.22 63.88,406.20 63.59,406.18 63.30,406.17 63.01,406.15 62.72,406.14 62.43,406.13 62.14,406.11 61.85,406.10 61.56,406.09 61.27,406.08 60.98,406.07 60.70,406.05 60.41,406.04 60.12,406.03 59.83,406.02 59.54,406.01 59.25,406.00 58.96,405.99 58.67,405.98 58.38,405.98 58.09,405.97 57.80,405.96 57.51,405.95 57.22,405.94 56.93,405.93 56.65,405.93 56.36,405.92 56.07,405.91 55.78,405.90 55.49,405.90 55.20,405.89 54.91,405.88 54.62,405.88 54.33,405.87 54.04,405.86 53.75,405.85 53.46,405.85 53.17,405.84 52.88,405.83 52.59,405.83 52.31,405.82 52.02,405.81 51.73,405.80 51.44,405.80 51.15,405.79 50.86,405.78 50.57,405.77 50.28,405.77 49.99,405.76 49.70,405.75 49.41,405.74 49.12,405.73 48.83,405.73 48.54,405.72 48.26,405.71 47.97,405.70 47.68,405.69 47.39,405.68 47.10,405.67 46.81,405.66 46.52,405.65 46.23,405.63 45.94,405.62 45.65,405.61 45.36,405.60 45.07,405.59 44.78,405.57 44.49,405.56 44.21,405.55 43.92,405.54 43.63,405.52 43.34,405.51 43.05,405.50 42.76,405.48 42.47,405.47 42.18,405.46 41.89,405.45 41.60,405.43 41.31,405.42 41.02,405.41 40.73,405.40 40.44,405.38 40.15,405.37 39.87,405.36 39.58,405.34 39.29,405.33 39.00,405.32 38.71,405.31 38.42,405.29 38.13,405.28 37.84,405.27 37.55,405.25 37.26,405.24 36.97,405.23 36.68,405.22 36.39,405.20 36.10,405.19 35.82,405.18 35.53,405.16 35.24,405.15 34.95,405.14 34.66,405.12 34.37,405.11 34.08,405.10 33.79,405.09 33.50,405.07 33.21,405.06 32.92,405.05 32.63,405.03 32.34,405.02 32.05,405.01 31.76,404.99 31.48,404.98 31.19,404.97 30.90,404.95 30.61,404.94 30.32,404.93 30.03,404.91 29.74,404.90 29.45,404.89 29.16,404.87 28.87,404.86 28.58,404.85 28.29,404.83 28.00,404.82 27.71,404.81 27.43,404.79 27.14,404.78 26.85,404.77 26.56,404.75 26.27,404.74 25.98,404.73 25.69,404.71 25.40,404.70" fill="#4f88c0" stroke="none"/>
<polygon points="71.40,400.98 72.50,401.44 73.61,401.89 74.71,402.34 75.82,402.65 76.92,402.69 78.03,402.62 79.13,402.50 80.24,402.35 81.34,402.21 82.45,402.04 83.55,401.83 84.65,401.59 85.76,401.34 86.86,401.12 87.97,400.94 89.07,400.82 90.18,400.76 91.28,400.71 92.39,400.67 93.49,400.63 94.60,400.59 95.70,400.55 96.80,400.52 97.91,400.49 99.01,400.47 100.12,400.45 101.22,400.43 102.33,400.42 103.43,400.41 104.54,400.40 105.64,400.40 106.75,400.40 107.85,400.40 108.96,400.40 110.06,400.40 111.16,400.40 112.27,400.40 113.37,400.40 114.48,400.40 115.58,400.40 116.69,400.40 117.79,400.40 118.90,400.40 120.00,400.40 121.11,400.40 122.21,400.40 123.31,400.40 124.42,400.40 125.52,400.40 126.63,400.40 127.73,400.40 128.84,400.40 129.94,400.40 131.05,400.40 132.15,400.40 133.26,400.40 134.36,400.40 135.46,400.40 136.57,400.40 137.67,400.40 138.78,400.40 139.88,400.40 140.99,400.40 142.09,400.40 143.20,400.40 144.30,400.40 145.41,400.40 146.51,400.40 147.61,400.40 148.72,400.40 149.82,400.40 150.93,400.40 152.03,400.40 153.14,400.40 154.24,400.40 155.35,400.40 156.45,400.40 157.56,400.40 158.66,400.40 159.76,400.40 160.87,400.40 161.97,400.40 163.08,400.40 164.18,400.40 165.29,400.40 166.39,400.40 167.50,400.40 168.60,400.40 169.71,400.40 170.81,400.40 171.91,400.40 173.02,400.40 174.12,400.40 175.23,400.40 176.33,400.40 177.44,400.40 178.54,400.41 179.65,400.41 180.75,400.42 181.86,400.43 182.96,400.44 184.07,400.45 185.17,400.46 186.27,400.48 187.38,400.49 188.48,400.50 189.59,400.51 190.69,400.53 191.80,400.54 192.90,400.55 194.01,400.56 195.11,400.57 196.22,400.58 197.32,400.59 198.42,400.59 199.53,400.60 200.63,400.60 201.74,400.58 202.84,400.32 203.95,399.89 205.05,399.49 206.16,399.23 207.26,398.97 208.37,398.75 209.47,398.62 210.57,398.61 211.68,398.71 212.78,398.88 213.89,399.06 214.99,399.24 216.10,399.39 217.20,399.55 218.31,399.72 219.41,399.89 220.52,400.06 221.62,400.22 222.72,400.36 223.83,400.48 224.93,400.57 226.04,400.64 227.14,400.70 228.25,400.75 229.35,400.81 230.46,400.86 231.56,400.91 232.67,400.96 233.77,401.01 234.87,401.05 235.98,401.09 237.08,401.13 238.19,401.16 239.29,401.20 240.40,401.22 241.50,401.25 242.61,401.26 243.71,401.28 244.82,401.29 245.92,401.30 247.03,401.30 247.03,406.30 245.92,406.30 244.82,406.29 243.71,406.28 242.61,406.26 241.50,406.25 240.40,406.22 239.29,406.20 238.19,406.16 237.08,406.13 235.98,406.09 234.87,406.05 233.77,406.01 232.67,405.96 231.56,405.91 230.46,405.86 229.35,405.81 228.25,405.75 227.14,405.70 226.04,405.64 224.93,405.57 223.83,405.48 222.72,405.36 221.62,405.22 220.52,405.06 219.41,404.89 218.31,404.72 217.20,404.55 216.10,404.39 214.99,404.24 213.89,404.06 212.78,403.88 211.68,403.71 210.57,403.61 209.47,403.62 208.37,403.75 207.26,403.97 206.16,404.23 205.05,404.49 203.95,404.89 202.84,405.32 201.74,405.58 200.63,405.60 199.53,405.60 198.42,405.59 197.32,405.59 196.22,405.58 195.11,405.57 194.01,405.56 192.90,405.55 191.80,405.54 190.69,405.53 189.59,405.51 188.48,405.50 187.38,405.49 186.27,405.48 185.17,405.46 184.07,405.45 182.96,405.44 181.86,405.43 180.75,405.42 179.65,405.41 178.54,405.41 177.44,405.40 176.33,405.40 175.23,405.40 174.12,405.40 173.02,405.40 171.91,405.40 170.81,405.40 169.71,405.40 168.60,405.40 167.50,405.40 166.39,405.40 165.29,405.40 164.18,405.40 163.08,405.40 161.97,405.40 160.87,405.40 159.76,405.40 158.66,405.40 157.56,405.40 156.45,405.40 155.35,405.40 154.24,405.40 153.14,405.40 152.03,405.40 150.93,405.40 149.82,405.40 148.72,405.40 147.61,405.40 146.51,405.40 145.41,405.40 144.30,405.40 143.20,405.40 142.09,405.40 140.99,405.40 139.88,405.40 138.78,405.40 137.67,405.40 136.57,405.40 135.46,405.40 134.36,405.40 133.26,405.40 132.15,405.40 131.05,405.40 129.94,405.40 128.84,405.40 127.73,405.40 126.63,405.40 125.52,405.40 124.42,405.40 123.31,405.40 122.21,405.40 121.11,405.40 120.00,405.40 118.90,405.40 117.79,405.40 116.69,405.40 115.58,405.40 114.48,405.40 113.37,405.40 112.27,405.40 111.16,405.40 110.06,405.40 108.96,405.40 107.85,405.40 106.75,405.40 105.64,405.40 104.54,405.40 103.43,405.41 102.33,405.42 101.22,405.43 100.12,405.45 99.01,405.47 97.91,405.49 96.80,405.52 95.70,405.55 94.60,405.59 93.49,405.63 92.39,405.67 91.28,405.71 90.18,405.76 89.07,405.82 87.97,405.94 86.86,406.12 85.76,406.34 84.65,406.59 83.55,406.83 82.45,407.04 81.34,407.21 80.24,407.35 79.13,407.50 78.03,407.62 76.92,407.69 75.82,407.65 74.71,407.34 73.61,406.89 72.50,406.44 71.40,405.98" fill="#4f88c0" stroke="none"/>
<polygon points="225.40,401.20 225.54,401.19 225.67,401.18 225.81,401.17 225.94,401.16 226.08,401.16 226.22,401.15 226.35,401.14 226.49,401.13 226.62,401.12 226.76,401.11 226.90,401.10 227.03,401.10 227.17,401.09 227.30,401.08 227.44,401.07 227.58,401.06 227.71,401.05 227.85,401.05 227.98,401.04 228.12,401.03 228.26,401.02 228.39,401.02 228.53,401.01 228.66,401.00 228.80,400.99 228.94,400.99 229.07,400.98 229.21,400.97 229.34,400.97 229.48,400.96 229.62,400.95 229.75,400.95 229.89,400.94 230.02,400.93 230.16,400.93 230.30,400.92 230.43,400.92 230.57,400.91 230.70,400.90 230.84,400.90 230.98,400.89 231.11,400.89 231.25,400.88 231.38,400.88 231.52,400.87 231.66,400.87 231.79,400.86 231.93,400.86 232.06,400.85 232.20,400.85 232.34,400.85 232.47,400.84 232.61,400.84 232.74,400.84 232.88,400.83 233.02,400.83 233.15,400.83 233.29,400.82 233.42,400.82 233.56,400.82 233.70,400.81 233.83,400.81 233.97,400.81 234.10,400.81 234.24,400.81 234.38,400.81 234.51,400.80 234.65,400.80 234.78,400.80 234.92,400.80 235.06,400.80 235.19,400.80 235.33,400.80 235.46,400.80 235.60,400.80 235.74,400.80 235.87,400.80 236.01,400.80 236.14,400.80 236.28,400.80 236.42,400.80 236.55,400.80 236.69,400.80 236.82,400.80 236.96,400.80 237.10,400.80 237.23,400.80 237.37,400.80 237.50,400.80 237.64,400.80 237.78,400.80 237.91,400.80 238.05,400.80 238.18,400.80 238.32,400.81 238.46,400.81 238.59,400.81 238.73,400.81 238.86,400.81 239.00,400.81 239.14,400.81 239.27,400.81 239.41,400.81 239.54,400.81 239.68,400.81 239.82,400.81 239.95,400.82 240.09,400.82 240.22,400.82 240.36,400.82 240.50,400.82 240.63,400.82 240.77,400.82 240.90,400.83 241.04,400.83 241.18,400.83 241.31,400.83 241.45,400.83 241.58,400.84 241.72,400.84 241.86,400.84 241.99,400.84 242.13,400.85 242.26,400.85 242.40,400.85 242.54,400.85 242.67,400.86 242.81,400.86 242.94,400.86 243.08,400.86 243.22,400.87 243.35,400.87 243.49,400.87 243.62,400.88 243.76,400.88 243.90,400.88 244.03,400.89 244.17,400.89 244.30,400.90 244.44,400.90 244.58,400.90 244.71,400.91 244.85,400.91 244.98,400.92 245.12,400.92 245.26,400.93 245.39,400.93 245.53,400.94 245.66,400.94 245.80,400.95 245.94,400.95 246.07,400.96 246.21,400.96 246.34,400.97 246.48,400.98 246.62,400.98 246.75,400.99 246.89,400.99 247.03,401.00 247.03,405.60 246.89,405.59 246.75,405.59 246.62,405.58 246.48,405.58 246.34,405.57 246.21,405.56 246.07,405.56 245.94,405.55 245.80,405.55 245.66,405.54 245.53,405.54 245.39,405.53 245.26,405.53 245.12,405.52 244.98,405.52 244.85,405.51 244.71,405.51 244.58,405.50 244.44,405.50 244.30,405.50 244.17,405.49 244.03,405.49 243.90,405.48 243.76,405.48 243.62,405.48 243.49,405.47 243.35,405.47 243.22,405.47 243.08,405.46 242.94,405.46 242.81,405.46 242.67,405.46 242.54,405.45 242.40,405.45 242.26,405.45 242.13,405.45 241.99,405.44 241.86,405.44 241.72,405.44 241.58,405.44 241.45,405.43 241.31,405.43 241.18,405.43 241.04,405.43 240.90,405.43 240.77,405.42 240.63,405.42 240.50,405.42 240.36,405.42 240.22,405.42 240.09,405.42 239.95,405.42 239.82,405.41 239.68,405.41 239.54,405.41 239.41,405.41 239.27,405.41 239.14,405.41 239.00,405.41 238.86,405.41 238.73,405.41 238.59,405.41 238.46,405.41 238.32,405.41 238.18,405.40 238.05,405.40 237.91,405.40 237.78,405.40 237.64,405.40 237.50,405.40 237.37,405.40 237.23,405.40 237.10,405.40 236.96,405.40 236.82,405.40 236.69,405.40 236.55,405.40 236.42,405.40 236.28,405.40 236.14,405.40 236.01,405.40 235.87,405.40 235.74,405.40 235.60,405.40 235.46,405.40 235.33,405.40 235.19,405.40 235.06,405.40 234.92,405.40 234.78,405.40 234.65,405.40 234.51,405.40 234.38,405.41 234.24,405.41 234.10,405.41 233.97,405.41 233.83,405.41 233.70,405.41 233.56,405.42 233.42,405.42 233.29,405.42 233.15,405.43 233.02,405.43 232.88,405.43 232.74,405.44 232.61,405.44 232.47,405.44 232.34,405.45 232.20,405.45 232.06,405.45 231.93,405.46 231.79,405.46 231.66,405.47 231.52,405.47 231.38,405.48 231.25,405.48 231.11,405.49 230.98,405.49 230.84,405.50 230.70,405.50 230.57,405.51 230.43,405.52 230.30,405.52 230.16,405.53 230.02,405.53 229.89,405.54 229.75,405.55 229.62,405.55 229.48,405.56 229.34,405.57 229.21,405.57 229.07,405.58 228.94,405.59 228.80,405.59 228.66,405.60 228.53,405.61 228.39,405.62 228.26,405.62 228.12,405.63 227.98,405.64 227.85,405.65 227.71,405.65 227.58,405.66 227.44,405.67 227.30,405.68 227.17,405.69 227.03,405.70 226.90,405.70 226.76,405.71 226.62,405.72 226.49,405.73 226.35,405.74 226.22,405.75 226.08,405.76 225.94,405.76 225.81,405.77 225.67,405.78 225.54,405.79 225.40,405.80" fill="#4f88c0" stroke="none"/>
<polygon points="105.40,400.40 106.29,400.40 107.18,400.40 108.07,400.40 108.96,400.40 109.85,400.40 110.74,400.40 111.63,400.40 112.52,400.40 113.42,400.40 114.31,400.40 115.20,400.40 116.09,400.40 116.98,400.40 117.87,400.40 118.76,400.40 119.65,400.40 120.54,400.40 121.43,400.40 122.32,400.40 123.21,400.40 124.10,400.40 124.99,400.40 125.88,400.40 126.77,400.40 127.66,400.40 128.55,400.40 129.45,400.40 130.34,400.40 131.23,400.40 132.12,400.40 133.01,400.40 133.90,400.40 134.79,400.40 135.68,400.40 136.57,400.40 137.46,400.40 138.35,400.40 139.24,400.40 140.13,400.40 141.02,400.40 141.91,400.40 142.80,400.40 143.69,400.40 144.58,400.40 145.48,400.40 146.37,400.40 147.26,400.40 148.15,400.40 149.04,400.40 149.93,400.40 150.82,400.40 151.71,400.40 152.60,400.40 153.49,400.40 154.38,400.40 155.27,400.40 156.16,400.40 157.05,400.40 157.94,400.40 158.83,400.40 159.72,400.40 160.62,400.40 161.51,400.40 162.40,400.40 163.29,400.40 164.18,400.40 165.07,400.40 165.96,400.40 166.85,400.40 167.74,400.40 168.63,400.40 169.52,400.40 170.41,400.40 171.30,400.40 172.19,400.40 173.08,400.40 173.97,400.40 174.86,400.40 175.75,400.40 176.65,400.40 177.54,400.40 178.43,400.41 179.32,400.41 180.21,400.42 181.10,400.42 181.99,400.43 182.88,400.44 183.77,400.45 184.66,400.46 185.55,400.47 186.44,400.48 187.33,400.49 188.22,400.50 189.11,400.51 190.00,400.52 190.89,400.53 191.78,400.54 192.68,400.55 193.57,400.56 194.46,400.56 195.35,400.57 196.24,400.58 197.13,400.59 198.02,400.59 198.91,400.59 199.80,400.60 200.69,400.60 201.58,400.59 202.47,400.43 203.36,400.13 204.25,399.77 205.14,399.46 206.03,399.25 206.92,399.04 207.82,398.85 208.71,398.70 209.60,398.61 210.49,398.61 211.38,398.68 212.27,398.79 213.16,398.94 214.05,399.09 214.94,399.24 215.83,399.36 216.72,399.48 217.61,399.62 218.50,399.75 219.39,399.89 220.28,400.02 221.17,400.15 222.06,400.28 222.95,400.39 223.85,400.48 224.74,400.56 225.63,400.61 226.52,400.66 227.41,400.71 228.30,400.76 229.19,400.80 230.08,400.85 230.97,400.89 231.86,400.93 232.75,400.97 233.64,401.00 234.53,401.04 235.42,401.07 236.31,401.11 237.20,401.13 238.09,401.16 238.98,401.19 239.88,401.21 240.77,401.23 241.66,401.25 242.55,401.26 243.44,401.28 244.33,401.29 245.22,401.29 246.11,401.30 247.00,401.30 247.00,405.90 246.11,405.90 245.22,405.89 244.33,405.89 243.44,405.88 242.55,405.86 241.66,405.85 240.77,405.83 239.88,405.81 238.98,405.79 238.09,405.76 237.20,405.73 236.31,405.71 235.42,405.67 234.53,405.64 233.64,405.60 232.75,405.57 231.86,405.53 230.97,405.49 230.08,405.45 229.19,405.40 228.30,405.36 227.41,405.31 226.52,405.26 225.63,405.21 224.74,405.16 223.85,405.08 222.95,404.99 222.06,404.88 221.17,404.75 220.28,404.62 219.39,404.49 218.50,404.35 217.61,404.22 216.72,404.08 215.83,403.96 214.94,403.84 214.05,403.69 213.16,403.54 212.27,403.39 211.38,403.28 210.49,403.21 209.60,403.21 208.71,403.30 207.82,403.45 206.92,403.64 206.03,403.85 205.14,404.06 204.25,404.37 203.36,404.73 202.47,405.03 201.58,405.19 200.69,405.20 199.80,405.20 198.91,405.19 198.02,405.19 197.13,405.19 196.24,405.18 195.35,405.17 194.46,405.16 193.57,405.16 192.68,405.15 191.78,405.14 190.89,405.13 190.00,405.12 189.11,405.11 188.22,405.10 187.33,405.09 186.44,405.08 185.55,405.07 184.66,405.06 183.77,405.05 182.88,405.04 181.99,405.03 181.10,405.02 180.21,405.02 179.32,405.01 178.43,405.01 177.54,405.00 176.65,405.00 175.75,405.00 174.86,405.00 173.97,405.00 173.08,405.00 172.19,405.00 171.30,405.00 170.41,405.00 169.52,405.00 168.63,405.00 167.74,405.00 166.85,405.00 165.96,405.00 165.07,405.00 164.18,405.00 163.29,405.00 162.40,405.00 161.51,405.00 160.62,405.00 159.72,405.00 158.83,405.00 157.94,405.00 157.05,405.00 156.16,405.00 155.27,405.00 154.38,405.00 153.49,405.00 152.60,405.00 151.71,405.00 150.82,405.00 149.93,405.00 149.04,405.00 148.15,405.00 147.26,405.00 146.37,405.00 145.48,405.00 144.58,405.00 143.69,405.00 142.80,405.00 141.91,405.00 141.02,405.00 140.13,405.00 139.24,405.00 138.35,405.00 137.46,405.00 136.57,405.00 135.68,405.00 134.79,405.00 133.90,405.00 133.01,405.00 132.12,405.00 131.23,405.00 130.34,405.00 129.45,405.00 128.55,405.00 127.66,405.00 126.77,405.00 125.88,405.00 124.99,405.00 124.10,405.00 123.21,405.00 122.32,405.00 121.43,405.00 120.54,405.00 119.65,405.00 118.76,405.00 117.87,405.00 116.98,405.00 116.09,405.00 115.20,405.00 114.31,405.00 113.42,405.00 112.52,405.00 111.63,405.00 110.74,405.00 109.85,405.00 108.96,405.00 108.07,405.00 107.18,405.00 106.29,405.00 105.40,405.00" fill="#e8474f" stroke="none"/>
<polygon points="25.40,398.00 25.69,398.01 25.98,398.03 26.27,398.04 26.56,398.05 26.85,398.07 27.14,398.08 27.43,398.09 27.71,398.11 28.00,398.12 28.29,398.13 28.58,398.15 28.87,398.16 29.16,398.17 29.45,398.19 29.74,398.20 30.03,398.21 30.32,398.23 30.61,398.24 30.90,398.25 31.19,398.27 31.48,398.28 31.76,398.29 32.05,398.31 32.34,398.32 32.63,398.33 32.92,398.35 33.21,398.36 33.50,398.37 33.79,398.39 34.08,398.40 34.37,398.41 34.66,398.42 34.95,398.44 35.24,398.45 35.53,398.46 35.82,398.48 36.10,398.49 36.39,398.50 36.68,398.52 36.97,398.53 37.26,398.54 37.55,398.55 37.84,398.57 38.13,398.58 38.42,398.59 38.71,398.61 39.00,398.62 39.29,398.63 39.58,398.64 39.87,398.66 40.15,398.67 40.44,398.68 40.73,398.70 41.02,398.71 41.31,398.72 41.60,398.73 41.89,398.75 42.18,398.76 42.47,398.77 42.76,398.78 43.05,398.80 43.34,398.81 43.63,398.82 43.92,398.84 44.21,398.85 44.49,398.86 44.78,398.87 45.07,398.89 45.36,398.90 45.65,398.91 45.94,398.92 46.23,398.93 46.52,398.95 46.81,398.96 47.10,398.97 47.39,398.98 47.68,398.99 47.97,399.00 48.26,399.01 48.54,399.02 48.83,399.03 49.12,399.03 49.41,399.04 49.70,399.05 49.99,399.06 50.28,399.07 50.57,399.07 50.86,399.08 51.15,399.09 51.44,399.10 51.73,399.10 52.02,399.11 52.31,399.12 52.59,399.13 52.88,399.13 53.17,399.14 53.46,399.15 53.75,399.15 54.04,399.16 54.33,399.17 54.62,399.18 54.91,399.18 55.20,399.19 55.49,399.20 55.78,399.20 56.07,399.21 56.36,399.22 56.65,399.23 56.93,399.23 57.22,399.24 57.51,399.25 57.80,399.26 58.09,399.27 58.38,399.28 58.67,399.28 58.96,399.29 59.25,399.30 59.54,399.31 59.83,399.32 60.12,399.33 60.41,399.34 60.70,399.35 60.98,399.37 61.27,399.38 61.56,399.39 61.85,399.40 62.14,399.41 62.43,399.43 62.72,399.44 63.01,399.45 63.30,399.47 63.59,399.48 63.88,399.50 64.17,399.52 64.46,399.53 64.75,399.55 65.04,399.57 65.32,399.58 65.61,399.60 65.90,399.62 66.19,399.64 66.48,399.66 66.77,399.68 67.06,399.70 67.35,399.72 67.64,399.75 67.93,399.77 68.22,399.79 68.51,399.82 68.80,399.84 69.09,399.87 69.37,399.90 69.66,399.94 69.95,400.00 70.24,400.09 70.53,400.20 70.82,400.32 71.11,400.45 71.40,400.58 71.40,406.58 71.11,406.45 70.82,406.32 70.53,406.20 70.24,406.09 69.95,406.00 69.66,405.94 69.37,405.90 69.09,405.87 68.80,405.84 68.51,405.82 68.22,405.79 67.93,405.77 67.64,405.75 67.35,405.72 67.06,405.70 66.77,405.68 66.48,405.66 66.19,405.64 65.90,405.62 65.61,405.60 65.32,405.58 65.04,405.57 64.75,405.55 64.46,405.53 64.17,405.52 63.88,405.50 63.59,405.48 63.30,405.47 63.01,405.45 62.72,405.44 62.43,405.43 62.14,405.41 61.85,405.40 61.56,405.39 61.27,405.38 60.98,405.37 60.70,405.35 60.41,405.34 60.12,405.33 59.83,405.32 59.54,405.31 59.25,405.30 58.96,405.29 58.67,405.28 58.38,405.28 58.09,405.27 57.80,405.26 57.51,405.25 57.22,405.24 56.93,405.23 56.65,405.23 56.36,405.22 56.07,405.21 55.78,405.20 55.49,405.20 55.20,405.19 54.91,405.18 54.62,405.18 54.33,405.17 54.04,405.16 53.75,405.15 53.46,405.15 53.17,405.14 52.88,405.13 52.59,405.13 52.31,405.12 52.02,405.11 51.73,405.10 51.44,405.10 51.15,405.09 50.86,405.08 50.57,405.07 50.28,405.07 49.99,405.06 49.70,405.05 49.41,405.04 49.12,405.03 48.83,405.03 48.54,405.02 48.26,405.01 47.97,405.00 47.68,404.99 47.39,404.98 47.10,404.97 46.81,404.96 46.52,404.95 46.23,404.93 45.94,404.92 45.65,404.91 45.36,404.90 45.07,404.89 44.78,404.87 44.49,404.86 44.21,404.85 43.92,404.84 43.63,404.82 43.34,404.81 43.05,404.80 42.76,404.78 42.47,404.77 42.18,404.76 41.89,404.75 41.60,404.73 41.31,404.72 41.02,404.71 40.73,404.70 40.44,404.68 40.15,404.67 39.87,404.66 39.58,404.64 39.29,404.63 39.00,404.62 38.71,404.61 38.42,404.59 38.13,404.58 37.84,404.57 37.55,404.55 37.26,404.54 36.97,404.53 36.68,404.52 36.39,404.50 36.10,404.49 35.82,404.48 35.53,404.46 35.24,404.45 34.95,404.44 34.66,404.42 34.37,404.41 34.08,404.40 33.79,404.39 33.50,404.37 33.21,404.36 32.92,404.35 32.63,404.33 32.34,404.32 32.05,404.31 31.76,404.29 31.48,404.28 31.19,404.27 30.90,404.25 30.61,404.24 30.32,404.23 30.03,404.21 29.74,404.20 29.45,404.19 29.16,404.17 28.87,404.16 28.58,404.15 28.29,404.13 28.00,404.12 27.71,404.11 27.43,404.09 27.14,404.08 26.85,404.07 26.56,404.05 26.27,404.04 25.98,404.03 25.69,404.01 25.40,404.00" fill="#66bc62" stroke="none"/>
<polyline points="70.70,403.82 71.00,377.90 71.40,347.90 72.00,314.90" fill="none" stroke="#66bc62" stroke-width="1.6" stroke-linejoin="round" stroke-linecap="butt" />
<polygon points="88.40,307.46 88.93,307.81 89.45,308.18 89.98,308.57 90.50,308.96 91.03,309.35 91.56,309.73 92.08,310.10 92.61,310.47 93.13,310.83 93.66,311.17 94.19,311.51 94.71,311.82 95.24,312.11 95.76,312.38 96.29,312.63 96.82,312.85 97.34,313.05 97.87,313.23 98.39,313.38 98.92,313.50 99.45,313.59 99.97,313.64 100.50,313.67 101.02,313.67 101.55,313.63 102.08,313.58 102.60,313.50 103.13,313.40 103.65,313.29 104.18,313.17 104.71,313.03 105.23,312.88 105.76,312.72 106.28,312.55 106.81,312.37 107.34,312.17 107.86,311.97 108.39,311.76 108.92,311.55 109.44,311.33 109.97,311.12 110.49,310.91 111.02,310.70 111.55,310.49 112.07,310.29 112.60,310.09 113.12,309.91 113.65,309.74 114.18,309.58 114.70,309.45 115.23,309.33 115.75,309.23 116.28,309.15 116.81,309.09 117.33,309.06 117.86,309.05 118.38,309.07 118.91,309.11 119.44,309.17 119.96,309.26 120.49,309.37 121.01,309.50 121.54,309.65 122.07,309.82 122.59,310.01 123.12,310.22 123.64,310.44 124.17,310.67 124.70,310.92 125.22,311.17 125.75,311.44 126.27,311.71 126.80,311.98 127.33,312.26 127.85,312.53 128.38,312.81 128.90,313.08 129.43,313.35 129.96,313.61 130.48,313.86 131.01,314.09 131.53,314.31 132.06,314.52 132.59,314.71 133.11,314.88 133.64,315.03 134.16,315.16 134.69,315.27 135.22,315.36 135.74,315.42 136.27,315.46 136.79,315.47 137.32,315.46 137.85,315.43 138.37,315.38 138.90,315.30 139.42,315.20 139.95,315.08 140.48,314.94 141.00,314.78 141.53,314.61 142.05,314.42 142.58,314.21 143.11,313.99 143.63,313.76 144.16,313.52 144.68,313.27 145.21,313.01 145.74,312.75 146.26,312.50 146.79,312.24 147.32,311.98 147.84,311.73 148.37,311.49 148.89,311.26 149.42,311.04 149.95,310.83 150.47,310.64 151.00,310.46 151.52,310.30 152.05,310.16 152.58,310.03 153.10,309.93 153.63,309.85 154.15,309.80 154.68,309.76 155.21,309.75 155.73,309.76 156.26,309.80 156.78,309.85 157.31,309.93 157.84,310.04 158.36,310.16 158.89,310.30 159.41,310.46 159.94,310.64 160.47,310.83 160.99,311.04 161.52,311.26 162.04,311.50 162.57,311.74 163.10,311.99 163.62,312.24 164.15,312.50 164.67,312.76 165.20,313.02 165.73,313.27 166.25,313.52 166.78,313.77 167.30,314.00 167.83,314.22 168.36,314.44 168.88,314.63 169.41,314.81 169.93,314.98 170.46,315.12 170.99,315.25 171.51,315.35 172.04,315.44 172.56,315.50 173.09,315.53 173.62,315.55 174.14,315.54 174.67,315.51 175.19,315.46 175.72,315.38 176.25,315.28 176.77,315.16 177.30,315.03 177.82,314.87 178.35,314.69 178.88,314.50 179.40,314.29 179.93,314.07 180.45,313.84 180.98,313.60 181.51,313.35 182.03,313.10 182.56,312.84 183.08,312.58 183.61,312.33 184.14,312.07 184.66,311.82 185.19,311.57 185.72,311.34 186.24,311.11 186.77,310.90 187.29,310.70 187.82,310.52 188.35,310.35 188.87,310.20 189.40,310.07 189.92,309.96 190.45,309.88 190.98,309.81 191.50,309.77 192.03,309.75 192.55,309.76 193.08,309.78 193.61,309.83 194.13,309.90 194.66,310.00 195.18,310.11 195.71,310.25 196.24,310.40 196.76,310.58 197.29,310.77 197.81,310.97 198.34,311.19 198.87,311.42 199.39,311.66 199.92,311.90 200.44,312.16 200.97,312.41 201.50,312.67 202.02,312.93 202.55,313.19 203.07,313.44 203.60,313.69 203.60,320.59 203.07,320.34 202.55,320.09 202.02,319.83 201.50,319.57 200.97,319.31 200.44,319.06 199.92,318.80 199.39,318.56 198.87,318.32 198.34,318.09 197.81,317.87 197.29,317.67 196.76,317.48 196.24,317.30 195.71,317.15 195.18,317.01 194.66,316.90 194.13,316.80 193.61,316.73 193.08,316.68 192.55,316.66 192.03,316.65 191.50,316.67 190.98,316.71 190.45,316.78 189.92,316.86 189.40,316.97 188.87,317.10 188.35,317.25 187.82,317.42 187.29,317.60 186.77,317.80 186.24,318.01 185.72,318.24 185.19,318.47 184.66,318.72 184.14,318.97 183.61,319.23 183.08,319.48 182.56,319.74 182.03,320.00 181.51,320.25 180.98,320.50 180.45,320.74 179.93,320.97 179.40,321.19 178.88,321.40 178.35,321.59 177.82,321.77 177.30,321.93 176.77,322.06 176.25,322.18 175.72,322.28 175.19,322.36 174.67,322.41 174.14,322.44 173.62,322.45 173.09,322.43 172.56,322.40 172.04,322.34 171.51,322.25 170.99,322.15 170.46,322.02 169.93,321.88 169.41,321.71 168.88,321.53 168.36,321.34 167.83,321.12 167.30,320.90 166.78,320.67 166.25,320.42 165.73,320.17 165.20,319.92 164.67,319.66 164.15,319.40 163.62,319.14 163.10,318.89 162.57,318.64 162.04,318.40 161.52,318.16 160.99,317.94 160.47,317.73 159.94,317.54 159.41,317.36 158.89,317.20 158.36,317.06 157.84,316.94 157.31,316.83 156.78,316.75 156.26,316.70 155.73,316.66 155.21,316.65 154.68,316.66 154.15,316.70 153.63,316.75 153.10,316.83 152.58,316.93 152.05,317.06 151.52,317.20 151.00,317.36 150.47,317.54 149.95,317.73 149.42,317.94 148.89,318.16 148.37,318.39 147.84,318.63 147.32,318.88 146.79,319.14 146.26,319.40 145.74,319.65 145.21,319.91 144.68,320.17 144.16,320.42 143.63,320.66 143.11,320.89 142.58,321.11 142.05,321.32 141.53,321.51 141.00,321.68 140.48,321.84 139.95,321.98 139.42,322.10 138.90,322.20 138.37,322.28 137.85,322.33 137.32,322.36 136.79,322.37 136.27,322.36 135.74,322.32 135.22,322.26 134.69,322.17 134.16,322.06 133.64,321.93 133.11,321.78 132.59,321.61 132.06,321.42 131.53,321.21 131.01,320.99 130.48,320.76 129.96,320.51 129.43,320.25 128.90,319.98 128.38,319.71 127.85,319.43 127.33,319.16 126.80,318.88 126.27,318.61 125.75,318.34 125.22,318.07 124.70,317.82 124.17,317.57 123.64,317.34 123.12,317.12 122.59,316.91 122.07,316.72 121.54,316.55 121.01,316.40 120.49,316.27 119.96,316.16 119.44,316.07 118.91,316.01 118.38,315.97 117.86,315.95 117.33,315.96 116.81,315.99 116.28,316.05 115.75,316.13 115.23,316.23 114.70,316.35 114.18,316.48 113.65,316.64 113.12,316.81 112.60,316.99 112.07,317.19 111.55,317.39 111.02,317.60 110.49,317.81 109.97,318.02 109.44,318.23 108.92,318.45 108.39,318.66 107.86,318.87 107.34,319.07 106.81,319.27 106.28,319.45 105.76,319.62 105.23,319.78 104.71,319.93 104.18,320.07 103.65,320.19 103.13,320.30 102.60,320.40 102.08,320.48 101.55,320.53 101.02,320.57 100.50,320.57 99.97,320.54 99.45,320.49 98.92,320.40 98.39,320.28 97.87,320.13 97.34,319.95 96.82,319.75 96.29,319.53 95.76,319.28 95.24,319.01 94.71,318.72 94.19,318.41 93.66,318.07 93.13,317.73 92.61,317.37 92.08,317.00 91.56,316.63 91.03,316.25 90.50,315.86 89.98,315.47 89.45,315.08 88.93,314.71 88.40,314.36" fill="#4f88c0" stroke="none"/>
<polygon points="77.00,314.90 77.50,314.29 78.01,313.68 78.51,313.12 79.01,312.63 79.52,312.24 80.02,311.99 80.52,311.90 81.03,311.91 81.53,311.93 82.03,311.97 82.54,312.02 83.04,312.08 83.54,312.15 84.05,312.24 84.55,312.33 85.06,312.42 85.56,312.53 86.06,312.64 86.57,312.75 87.07,312.87 87.57,313.00 88.08,313.17 88.58,313.38 89.08,313.61 89.59,313.86 90.09,314.13 90.59,314.40 91.10,314.40 91.60,314.40 91.60,315.90 91.10,315.70 90.59,315.51 90.09,315.32 89.59,315.14 89.08,314.96 88.58,314.79 88.08,314.63 87.57,314.47 87.07,314.33 86.57,314.19 86.06,314.05 85.56,313.91 85.06,313.76 84.55,313.62 84.05,313.48 83.54,313.35 83.04,313.23 82.54,313.12 82.03,313.03 81.53,312.96 81.03,312.92 80.52,312.90 80.02,312.98 79.52,313.23 79.01,313.61 78.51,314.10 78.01,314.66 77.50,315.27 77.00,315.90" fill="#66bc62" stroke="none"/>
<polygon points="88.40,307.96 88.88,308.28 89.36,308.62 89.85,308.97 90.33,309.33 90.81,309.69 91.29,310.04 91.77,310.38 92.26,310.72 92.74,311.06 93.22,311.38 93.70,311.70 94.18,312.00 94.67,312.29 95.15,312.56 95.63,312.82 96.11,313.05 96.59,313.26 97.08,313.45 97.56,313.63 98.04,313.78 98.52,313.91 99.00,314.01 99.49,314.09 99.97,314.14 100.45,314.17 100.93,314.17 101.41,314.15 101.90,314.10 102.38,314.04 102.86,313.96 103.34,313.86 103.82,313.75 104.31,313.63 104.79,313.51 105.27,313.37 105.75,313.22 106.23,313.07 106.72,312.90 107.20,312.73 107.68,312.54 108.16,312.35 108.64,312.16 109.13,311.96 109.61,311.76 110.09,311.57 110.57,311.37 111.05,311.18 111.54,310.99 112.02,310.81 112.50,310.63 112.98,310.46 113.46,310.30 113.95,310.15 114.43,310.02 114.91,309.90 115.39,309.79 115.87,309.71 116.36,309.64 116.84,309.59 117.32,309.56 117.80,309.55 118.28,309.56 118.77,309.59 119.25,309.64 119.73,309.72 120.21,309.81 120.69,309.91 121.18,310.04 121.66,310.19 122.14,310.35 122.62,310.52 123.10,310.71 123.59,310.91 124.07,311.13 124.55,311.35 125.03,311.58 125.51,311.82 126.00,312.06 126.48,312.31 126.96,312.56 127.44,312.82 127.92,313.07 128.41,313.33 128.89,313.58 129.37,313.82 129.85,314.06 130.33,314.29 130.82,314.51 131.30,314.72 131.78,314.91 132.26,315.10 132.74,315.26 133.23,315.42 133.71,315.55 134.19,315.67 134.67,315.77 135.15,315.85 135.64,315.91 136.12,315.95 136.60,315.97 137.08,315.97 137.56,315.95 138.05,315.91 138.53,315.86 139.01,315.78 139.49,315.69 139.97,315.58 140.46,315.45 140.94,315.31 141.42,315.15 141.90,314.97 142.38,314.79 142.87,314.59 143.35,314.38 143.83,314.17 144.31,313.94 144.79,313.71 145.28,313.48 145.76,313.24 146.24,313.01 146.72,312.77 147.21,312.54 147.69,312.31 148.17,312.08 148.65,311.87 149.13,311.66 149.62,311.46 150.10,311.27 150.58,311.10 151.06,310.94 151.54,310.79 152.03,310.66 152.51,310.55 152.99,310.45 153.47,310.37 153.95,310.31 154.44,310.27 154.92,310.25 155.40,310.25 155.88,310.27 156.36,310.31 156.85,310.36 157.33,310.44 157.81,310.53 158.29,310.64 158.77,310.77 159.26,310.91 159.74,311.07 160.22,311.24 160.70,311.43 161.18,311.62 161.67,311.83 162.15,312.04 162.63,312.27 163.11,312.50 163.59,312.73 164.08,312.97 164.56,313.20 165.04,313.44 165.52,313.67 166.00,313.91 166.49,314.13 166.97,314.35 167.45,314.56 167.93,314.77 168.41,314.96 168.90,315.14 169.38,315.30 169.86,315.45 170.34,315.59 170.82,315.71 171.31,315.81 171.79,315.90 172.27,315.96 172.75,316.01 173.23,316.04 173.72,316.05 174.20,316.04 174.68,316.01 175.16,315.96 175.64,315.89 176.13,315.81 176.61,315.70 177.09,315.58 177.57,315.45 178.05,315.29 178.54,315.13 179.02,314.95 179.50,314.75 179.98,314.55 180.46,314.34 180.95,314.12 181.43,313.89 181.91,313.66 182.39,313.42 182.87,313.19 183.36,312.95 183.84,312.71 184.32,312.48 184.80,312.25 185.28,312.03 185.77,311.82 186.25,311.61 186.73,311.41 187.21,311.23 187.69,311.06 188.18,310.90 188.66,310.76 189.14,310.63 189.62,310.52 190.10,310.43 190.59,310.36 191.07,310.30 191.55,310.27 192.03,310.25 192.51,310.25 193.00,310.28 193.48,310.32 193.96,310.38 194.44,310.46 194.92,310.55 195.41,310.67 195.89,310.80 196.37,310.95 196.85,311.11 197.33,311.28 197.82,311.47 198.30,311.67 198.78,311.88 199.26,312.10 199.74,312.32 200.23,312.55 200.71,312.79 201.19,313.02 201.67,313.26 202.15,313.50 202.64,313.73 203.12,313.96 203.60,314.19 203.60,320.09 203.12,319.86 202.64,319.63 202.15,319.40 201.67,319.16 201.19,318.92 200.71,318.69 200.23,318.45 199.74,318.22 199.26,318.00 198.78,317.78 198.30,317.57 197.82,317.37 197.33,317.18 196.85,317.01 196.37,316.85 195.89,316.70 195.41,316.57 194.92,316.45 194.44,316.36 193.96,316.28 193.48,316.22 193.00,316.18 192.51,316.15 192.03,316.15 191.55,316.17 191.07,316.20 190.59,316.26 190.10,316.33 189.62,316.42 189.14,316.53 188.66,316.66 188.18,316.80 187.69,316.96 187.21,317.13 186.73,317.31 186.25,317.51 185.77,317.72 185.28,317.93 184.80,318.15 184.32,318.38 183.84,318.61 183.36,318.85 182.87,319.09 182.39,319.32 181.91,319.56 181.43,319.79 180.95,320.02 180.46,320.24 179.98,320.45 179.50,320.65 179.02,320.85 178.54,321.03 178.05,321.19 177.57,321.35 177.09,321.48 176.61,321.60 176.13,321.71 175.64,321.79 175.16,321.86 174.68,321.91 174.20,321.94 173.72,321.95 173.23,321.94 172.75,321.91 172.27,321.86 171.79,321.80 171.31,321.71 170.82,321.61 170.34,321.49 169.86,321.35 169.38,321.20 168.90,321.04 168.41,320.86 167.93,320.67 167.45,320.46 166.97,320.25 166.49,320.03 166.00,319.81 165.52,319.57 165.04,319.34 164.56,319.10 164.08,318.87 163.59,318.63 163.11,318.40 162.63,318.17 162.15,317.94 161.67,317.73 161.18,317.52 160.70,317.33 160.22,317.14 159.74,316.97 159.26,316.81 158.77,316.67 158.29,316.54 157.81,316.43 157.33,316.34 156.85,316.26 156.36,316.21 155.88,316.17 155.40,316.15 154.92,316.15 154.44,316.17 153.95,316.21 153.47,316.27 152.99,316.35 152.51,316.45 152.03,316.56 151.54,316.69 151.06,316.84 150.58,317.00 150.10,317.17 149.62,317.36 149.13,317.56 148.65,317.77 148.17,317.98 147.69,318.21 147.21,318.44 146.72,318.67 146.24,318.91 145.76,319.14 145.28,319.38 144.79,319.61 144.31,319.84 143.83,320.07 143.35,320.28 142.87,320.49 142.38,320.69 141.90,320.87 141.42,321.05 140.94,321.21 140.46,321.35 139.97,321.48 139.49,321.59 139.01,321.68 138.53,321.76 138.05,321.81 137.56,321.85 137.08,321.87 136.60,321.87 136.12,321.85 135.64,321.81 135.15,321.75 134.67,321.67 134.19,321.57 133.71,321.45 133.23,321.32 132.74,321.16 132.26,321.00 131.78,320.81 131.30,320.62 130.82,320.41 130.33,320.19 129.85,319.96 129.37,319.72 128.89,319.48 128.41,319.23 127.92,318.97 127.44,318.72 126.96,318.46 126.48,318.21 126.00,317.96 125.51,317.72 125.03,317.48 124.55,317.25 124.07,317.03 123.59,316.81 123.10,316.61 122.62,316.42 122.14,316.25 121.66,316.09 121.18,315.94 120.69,315.81 120.21,315.71 119.73,315.62 119.25,315.54 118.77,315.49 118.28,315.46 117.80,315.45 117.32,315.46 116.84,315.49 116.36,315.54 115.87,315.61 115.39,315.69 114.91,315.80 114.43,315.92 113.95,316.05 113.46,316.20 112.98,316.36 112.50,316.53 112.02,316.71 111.54,316.89 111.05,317.08 110.57,317.27 110.09,317.47 109.61,317.66 109.13,317.86 108.64,318.06 108.16,318.25 107.68,318.44 107.20,318.63 106.72,318.80 106.23,318.97 105.75,319.12 105.27,319.27 104.79,319.41 104.31,319.53 103.82,319.65 103.34,319.76 102.86,319.86 102.38,319.94 101.90,320.00 101.41,320.05 100.93,320.07 100.45,320.07 99.97,320.04 99.49,319.99 99.00,319.91 98.52,319.81 98.04,319.68 97.56,319.53 97.08,319.35 96.59,319.16 96.11,318.95 95.63,318.72 95.15,318.46 94.67,318.19 94.18,317.90 93.70,317.60 93.22,317.28 92.74,316.96 92.26,316.62 91.77,316.28 91.29,315.94 90.81,315.59 90.33,315.23 89.85,314.87 89.36,314.52 88.88,314.18 88.40,313.86" fill="#66bc62" stroke="none"/>
<polyline points="72.00,314.90 73.30,336.40 74.00,317.90 75.50,294.30 77.00,315.40 79.00,293.40 80.50,311.90 82.00,297.10 84.00,312.20 85.50,301.70 87.20,312.90 89.00,306.10 90.60,314.40 92.20,309.50 93.90,316.10 95.50,312.40 97.20,317.90 98.80,314.70 100.40,318.70" fill="none" stroke="#66bc62" stroke-width="1.9" stroke-linejoin="round" stroke-linecap="butt" stroke-linejoin="round"/>
<polyline points="204.70,319.90 204.90,400.90 206.70,382.40 207.10,397.90 208.50,424.60 210.20,405.90 212.00,424.60 213.70,405.90 215.50,420.20 217.20,405.90 219.00,416.80 220.70,405.90 222.50,413.60 224.20,405.90 226.00,411.00 227.70,405.90 229.50,409.00" fill="none" stroke="#66bc62" stroke-width="1.7" stroke-linejoin="round" stroke-linecap="butt" />
<polygon points="225.40,405.40 225.84,405.40 226.28,405.40 226.72,405.40 227.17,405.40 227.61,405.40 228.05,405.40 228.49,405.40 228.93,405.40 229.37,405.40 229.81,405.40 230.25,405.40 230.70,405.40 231.14,405.40 231.58,405.40 232.02,405.40 232.46,405.40 232.90,405.40 233.34,405.40 233.79,405.40 234.23,405.40 234.67,405.40 235.11,405.40 235.55,405.40 235.99,405.40 236.43,405.40 236.87,405.40 237.32,405.40 237.76,405.40 238.20,405.40 238.64,405.40 239.08,405.40 239.52,405.40 239.96,405.40 240.41,405.40 240.85,405.40 241.29,405.40 241.73,405.40 242.17,405.40 242.61,405.40 243.05,405.40 243.49,405.40 243.94,405.40 244.38,405.40 244.82,405.40 245.26,405.40 245.70,405.40 246.14,405.40 246.58,405.40 247.03,405.40 247.03,406.50 246.58,406.51 246.14,406.53 245.70,406.55 245.26,406.57 244.82,406.60 244.38,406.62 243.94,406.65 243.49,406.68 243.05,406.71 242.61,406.75 242.17,406.79 241.73,406.82 241.29,406.86 240.85,406.90 240.41,406.95 239.96,406.99 239.52,407.03 239.08,407.08 238.64,407.13 238.20,407.18 237.76,407.23 237.32,407.28 236.87,407.33 236.43,407.38 235.99,407.43 235.55,407.48 235.11,407.54 234.67,407.59 234.23,407.65 233.79,407.72 233.34,407.78 232.90,407.85 232.46,407.93 232.02,408.00 231.58,408.08 231.14,408.16 230.70,408.24 230.25,408.33 229.81,408.42 229.37,408.51 228.93,408.60 228.49,408.70 228.05,408.79 227.61,408.89 227.17,408.99 226.72,409.09 226.28,409.19 225.84,409.30 225.40,409.40" fill="#66bc62" stroke="none"/>
<polygon points="25.40,399.20 26.79,399.26 28.19,399.33 29.58,399.39 30.98,399.46 32.37,399.52 33.76,399.58 35.16,399.65 36.55,399.71 37.94,399.77 39.34,399.83 40.73,399.90 42.13,399.96 43.52,400.02 44.91,400.08 46.31,400.14 47.70,400.21 49.10,400.28 50.49,400.35 51.88,400.43 53.28,400.51 54.67,400.58 56.07,400.66 57.46,400.73 58.85,400.80 60.25,400.87 61.64,400.93 63.03,400.98 64.43,401.02 65.82,401.06 67.22,401.08 68.61,401.10 70.00,401.08 71.40,400.91 72.79,400.77 74.19,400.65 75.58,400.61 76.97,400.93 78.37,401.49 79.76,401.94 81.15,401.99 82.55,401.96 83.94,401.91 85.34,401.86 86.73,401.81 88.12,401.79 89.52,401.77 90.91,401.75 92.31,401.74 93.70,401.72 95.09,401.70 96.49,401.69 97.88,401.67 99.28,401.66 100.67,401.64 102.06,401.63 103.46,401.61 104.85,401.60 106.24,401.59 107.64,401.57 109.03,401.56 110.43,401.55 111.82,401.54 113.21,401.53 114.61,401.52 116.00,401.51 117.40,401.50 118.79,401.49 120.18,401.48 121.58,401.47 122.97,401.46 124.36,401.46 125.76,401.45 127.15,401.44 128.55,401.44 129.94,401.43 131.33,401.42 132.73,401.42 134.12,401.42 135.52,401.41 136.91,401.41 138.30,401.41 139.70,401.40 141.09,401.40 142.48,401.40 143.88,401.40 145.27,401.40 146.67,401.40 148.06,401.40 149.45,401.40 150.85,401.41 152.24,401.41 153.64,401.41 155.03,401.42 156.42,401.42 157.82,401.43 159.21,401.43 160.61,401.44 162.00,401.44 163.39,401.45 164.79,401.46 166.18,401.46 167.57,401.47 168.97,401.48 170.36,401.48 171.76,401.49 173.15,401.50 174.54,401.51 175.94,401.51 177.33,401.52 178.73,401.53 180.12,401.54 181.51,401.54 182.91,401.55 184.30,401.56 185.69,401.56 187.09,401.57 188.48,401.57 189.88,401.58 191.27,401.58 192.66,401.59 194.06,401.59 195.45,401.59 196.85,401.60 198.24,401.60 199.63,401.60 201.03,401.60 202.42,401.54 203.82,401.34 205.21,401.20 206.60,401.24 208.00,401.34 209.39,401.40 210.78,401.32 212.18,401.13 213.57,400.93 214.97,400.81 216.36,400.81 217.75,400.84 219.15,400.90 220.54,400.97 221.94,401.04 223.33,401.12 224.72,401.18 226.12,401.22 227.51,401.26 228.90,401.30 230.30,401.34 231.69,401.38 233.09,401.42 234.48,401.46 235.87,401.49 237.27,401.53 238.66,401.56 240.06,401.59 241.45,401.61 242.84,401.64 244.24,401.66 245.63,401.68 247.03,401.70 247.03,405.90 245.63,405.88 244.24,405.86 242.84,405.84 241.45,405.81 240.06,405.79 238.66,405.76 237.27,405.73 235.87,405.69 234.48,405.66 233.09,405.62 231.69,405.58 230.30,405.54 228.90,405.50 227.51,405.46 226.12,405.42 224.72,405.38 223.33,405.32 221.94,405.24 220.54,405.17 219.15,405.10 217.75,405.04 216.36,405.01 214.97,405.01 213.57,405.13 212.18,405.33 210.78,405.52 209.39,405.60 208.00,405.54 206.60,405.44 205.21,405.40 203.82,405.54 202.42,405.74 201.03,405.80 199.63,405.80 198.24,405.80 196.85,405.80 195.45,405.79 194.06,405.79 192.66,405.79 191.27,405.78 189.88,405.78 188.48,405.77 187.09,405.77 185.69,405.76 184.30,405.76 182.91,405.75 181.51,405.74 180.12,405.74 178.73,405.73 177.33,405.72 175.94,405.71 174.54,405.71 173.15,405.70 171.76,405.69 170.36,405.68 168.97,405.68 167.57,405.67 166.18,405.66 164.79,405.66 163.39,405.65 162.00,405.64 160.61,405.64 159.21,405.63 157.82,405.63 156.42,405.62 155.03,405.62 153.64,405.61 152.24,405.61 150.85,405.61 149.45,405.60 148.06,405.60 146.67,405.60 145.27,405.60 143.88,405.60 142.48,405.60 141.09,405.60 139.70,405.60 138.30,405.61 136.91,405.61 135.52,405.61 134.12,405.62 132.73,405.62 131.33,405.62 129.94,405.63 128.55,405.64 127.15,405.64 125.76,405.65 124.36,405.66 122.97,405.66 121.58,405.67 120.18,405.68 118.79,405.69 117.40,405.70 116.00,405.71 114.61,405.72 113.21,405.73 111.82,405.74 110.43,405.75 109.03,405.76 107.64,405.77 106.24,405.79 104.85,405.80 103.46,405.81 102.06,405.83 100.67,405.84 99.28,405.86 97.88,405.87 96.49,405.89 95.09,405.90 93.70,405.92 92.31,405.94 90.91,405.95 89.52,405.97 88.12,405.99 86.73,406.01 85.34,406.06 83.94,406.11 82.55,406.16 81.15,406.19 79.76,406.14 78.37,405.69 76.97,405.13 75.58,404.81 74.19,404.85 72.79,404.97 71.40,405.11 70.00,405.28 68.61,405.30 67.22,405.28 65.82,405.26 64.43,405.22 63.03,405.18 61.64,405.13 60.25,405.07 58.85,405.00 57.46,404.93 56.07,404.86 54.67,404.78 53.28,404.71 51.88,404.63 50.49,404.55 49.10,404.48 47.70,404.41 46.31,404.34 44.91,404.28 43.52,404.22 42.13,404.16 40.73,404.10 39.34,404.03 37.94,403.97 36.55,403.91 35.16,403.85 33.76,403.78 32.37,403.72 30.98,403.66 29.58,403.59 28.19,403.53 26.79,403.46 25.40,403.40" fill="#fba14a" stroke="none"/>
<polygon points="25.40,399.05 26.79,399.11 28.19,399.18 29.58,399.24 30.98,399.31 32.37,399.37 33.76,399.43 35.16,399.50 36.55,399.56 37.94,399.62 39.34,399.68 40.73,399.75 42.13,399.81 43.52,399.87 44.91,399.93 46.31,399.99 47.70,400.04 49.10,400.08 50.49,400.12 51.88,400.16 53.28,400.19 54.67,400.23 56.07,400.26 57.46,400.30 58.85,400.34 60.25,400.39 61.64,400.44 63.03,400.51 64.43,400.58 65.82,400.67 67.22,400.76 68.61,400.88 70.00,401.07 71.40,401.63 72.79,402.20 74.19,402.78 75.58,403.25 76.97,403.34 78.37,403.24 79.76,403.07 81.15,402.88 82.55,402.67 83.94,402.39 85.34,402.09 86.73,401.80 88.12,401.57 89.52,401.44 90.91,401.38 92.31,401.32 93.70,401.27 95.09,401.22 96.49,401.18 97.88,401.14 99.28,401.11 100.67,401.09 102.06,401.07 103.46,401.06 104.85,401.05 106.24,401.05 107.64,401.05 109.03,401.05 110.43,401.05 111.82,401.05 113.21,401.05 114.61,401.05 116.00,401.05 117.40,401.05 118.79,401.05 120.18,401.05 121.58,401.05 122.97,401.05 124.36,401.05 125.76,401.05 127.15,401.05 128.55,401.05 129.94,401.05 131.33,401.05 132.73,401.05 134.12,401.05 135.52,401.05 136.91,401.05 138.30,401.05 139.70,401.05 141.09,401.05 142.48,401.05 143.88,401.05 145.27,401.05 146.67,401.05 148.06,401.05 149.45,401.05 150.85,401.05 152.24,401.05 153.64,401.05 155.03,401.05 156.42,401.05 157.82,401.05 159.21,401.05 160.61,401.05 162.00,401.05 163.39,401.05 164.79,401.05 166.18,401.05 167.57,401.05 168.97,401.05 170.36,401.05 171.76,401.05 173.15,401.05 174.54,401.05 175.94,401.05 177.33,401.05 178.73,401.06 180.12,401.07 181.51,401.08 182.91,401.09 184.30,401.10 185.69,401.12 187.09,401.13 188.48,401.15 189.88,401.17 191.27,401.18 192.66,401.20 194.06,401.21 195.45,401.22 196.85,401.23 198.24,401.24 199.63,401.25 201.03,401.25 202.42,401.10 203.82,400.59 205.21,400.10 206.60,399.77 208.00,399.46 209.39,399.27 210.78,399.28 212.18,399.43 213.57,399.66 214.97,399.89 216.36,400.08 217.75,400.29 219.15,400.50 220.54,400.71 221.94,400.91 223.33,401.08 224.72,401.21 226.12,401.29 227.51,401.36 228.90,401.44 230.30,401.51 231.69,401.57 233.09,401.63 234.48,401.69 235.87,401.74 237.27,401.79 238.66,401.83 240.06,401.86 241.45,401.89 242.84,401.92 244.24,401.94 245.63,401.95 247.03,401.95 247.03,406.45 245.63,406.45 244.24,406.44 242.84,406.42 241.45,406.39 240.06,406.36 238.66,406.33 237.27,406.29 235.87,406.24 234.48,406.19 233.09,406.13 231.69,406.07 230.30,406.01 228.90,405.94 227.51,405.86 226.12,405.79 224.72,405.71 223.33,405.58 221.94,405.41 220.54,405.21 219.15,405.00 217.75,404.79 216.36,404.58 214.97,404.39 213.57,404.16 212.18,403.93 210.78,403.78 209.39,403.77 208.00,403.96 206.60,404.27 205.21,404.60 203.82,405.09 202.42,405.60 201.03,405.75 199.63,405.75 198.24,405.74 196.85,405.73 195.45,405.72 194.06,405.71 192.66,405.70 191.27,405.68 189.88,405.67 188.48,405.65 187.09,405.63 185.69,405.62 184.30,405.60 182.91,405.59 181.51,405.58 180.12,405.57 178.73,405.56 177.33,405.55 175.94,405.55 174.54,405.55 173.15,405.55 171.76,405.55 170.36,405.55 168.97,405.55 167.57,405.55 166.18,405.55 164.79,405.55 163.39,405.55 162.00,405.55 160.61,405.55 159.21,405.55 157.82,405.55 156.42,405.55 155.03,405.55 153.64,405.55 152.24,405.55 150.85,405.55 149.45,405.55 148.06,405.55 146.67,405.55 145.27,405.55 143.88,405.55 142.48,405.55 141.09,405.55 139.70,405.55 138.30,405.55 136.91,405.55 135.52,405.55 134.12,405.55 132.73,405.55 131.33,405.55 129.94,405.55 128.55,405.55 127.15,405.55 125.76,405.55 124.36,405.55 122.97,405.55 121.58,405.55 120.18,405.55 118.79,405.55 117.40,405.55 116.00,405.55 114.61,405.55 113.21,405.55 111.82,405.55 110.43,405.55 109.03,405.55 107.64,405.55 106.24,405.55 104.85,405.55 103.46,405.56 102.06,405.57 100.67,405.59 99.28,405.61 97.88,405.64 96.49,405.68 95.09,405.72 93.70,405.77 92.31,405.82 90.91,405.88 89.52,405.94 88.12,406.07 86.73,406.30 85.34,406.59 83.94,406.89 82.55,407.17 81.15,407.38 79.76,407.57 78.37,407.74 76.97,407.84 75.58,407.75 74.19,407.28 72.79,406.70 71.40,406.13 70.00,405.57 68.61,405.38 67.22,405.26 65.82,405.17 64.43,405.08 63.03,405.01 61.64,404.94 60.25,404.89 58.85,404.84 57.46,404.80 56.07,404.76 54.67,404.73 53.28,404.69 51.88,404.66 50.49,404.62 49.10,404.58 47.70,404.54 46.31,404.49 44.91,404.43 43.52,404.37 42.13,404.31 40.73,404.25 39.34,404.18 37.94,404.12 36.55,404.06 35.16,404.00 33.76,403.93 32.37,403.87 30.98,403.81 29.58,403.74 28.19,403.68 26.79,403.61 25.40,403.55" fill="#a862b9" stroke="none"/>
<path d="M40.17 258.40V432.90" stroke="#4646ff" stroke-width="1.7" stroke-dasharray="4.4 1.6 1.8 1.6"/>
<path d="M25.40 258.10V432.90H247.00M40.17 432.90v-2.2M69.72 432.90v-2.2M99.27 432.90v-2.2M128.81 432.90v-2.2M158.36 432.90v-2.2M187.91 432.90v-2.2M217.45 432.90v-2.2M247.00 432.90v-2.2M25.40 432.90h2.2M25.40 403.77h2.2M25.40 374.63h2.2M25.40 345.50h2.2M25.40 316.37h2.2M25.40 287.23h2.2M25.40 258.10h2.2" stroke="#8a8a8a" stroke-width="0.9" fill="none"/>
<text x="40.17" y="442.70" class="tk" text-anchor="middle">3</text>
<text x="69.72" y="442.70" class="tk" text-anchor="middle">4</text>
<text x="99.27" y="442.70" class="tk" text-anchor="middle">5</text>
<text x="128.81" y="442.70" class="tk" text-anchor="middle">6</text>
<text x="158.36" y="442.70" class="tk" text-anchor="middle">7</text>
<text x="187.91" y="442.70" class="tk" text-anchor="middle">8</text>
<text x="217.45" y="442.70" class="tk" text-anchor="middle">9</text>
<text x="247.00" y="442.70" class="tk" text-anchor="middle">10</text>
<text x="22.20" y="435.80" class="tk" text-anchor="end">-5</text>
<text x="22.20" y="406.67" class="tk" text-anchor="end">0</text>
<text x="22.20" y="377.53" class="tk" text-anchor="end">5</text>
<text x="22.20" y="348.40" class="tk" text-anchor="end">10</text>
<text x="22.20" y="319.27" class="tk" text-anchor="end">15</text>
<text x="22.20" y="290.13" class="tk" text-anchor="end">20</text>
<text x="22.20" y="261.00" class="tk" text-anchor="end">25</text>
<text x="136.20" y="452.70" class="al" letter-spacing="0.15" text-anchor="middle">Time (seconds)</text>
<text transform="translate(11.30,345.50) rotate(-90)" class="al" text-anchor="middle">Amplitude</text>
<rect x="196.50" y="262.40" width="45.0" height="67.9" fill="#fff" stroke="#a0a0a0" stroke-width="0.8"/>
<path d="M198.70 269.40H218.50" stroke="#ff1a1a" stroke-width="1.5" stroke-dasharray="4.1 2.3"/>
<text x="221.10" y="271.30" class="lg">f</text>
<text x="225.50" y="267.60" class="ls">a</text>
<text x="225.10" y="273.80" class="ls">3</text>
<text x="229.70" y="271.70" class="lp">(<tspan class="li">t</tspan>)</text>
<path d="M198.70 280.22H218.50" stroke="#4f88c0" stroke-width="1.4"/>
<text x="220.70" y="282.12" class="lg">r</text>
<text x="224.70" y="278.42" class="ls">4</text>
<text x="224.70" y="284.62" class="ls">1</text>
<text x="228.70" y="282.52" class="lp">(<tspan class="li">t</tspan>)</text>
<path d="M198.70 291.04H218.50" stroke="#e8474f" stroke-width="1.4"/>
<text x="220.70" y="292.94" class="lg">r</text>
<text x="224.70" y="289.24" class="ls">4</text>
<text x="224.70" y="295.44" class="ls">2</text>
<text x="228.70" y="293.34" class="lp">(<tspan class="li">t</tspan>)</text>
<path d="M198.70 301.86H218.50" stroke="#6abd5f" stroke-width="1.4"/>
<text x="220.70" y="303.76" class="lg">r</text>
<text x="224.70" y="300.06" class="ls">4</text>
<text x="224.70" y="306.26" class="ls">3</text>
<text x="228.70" y="304.16" class="lp">(<tspan class="li">t</tspan>)</text>
<path d="M198.70 312.68H218.50" stroke="#fba14a" stroke-width="1.4"/>
<text x="220.70" y="314.58" class="lg">r</text>
<text x="224.70" y="310.88" class="ls">4</text>
<text x="224.70" y="317.08" class="ls">4</text>
<text x="228.70" y="314.98" class="lp">(<tspan class="li">t</tspan>)</text>
<path d="M198.70 323.50H218.50" stroke="#a862b9" stroke-width="1.4"/>
<text x="220.70" y="325.40" class="lg">r</text>
<text x="224.70" y="321.70" class="ls">4</text>
<text x="224.70" y="327.90" class="ls">5</text>
<text x="228.70" y="325.80" class="lp">(<tspan class="li">t</tspan>)</text>
<text x="50.40" y="478.40" class="cap">(<tspan font-weight="bold">c</tspan>) Agent 4’s residual signals</text>
<polyline points="318.80,403.82 363.00,403.82 363.00,316.40 363.10,316.40 363.76,315.74 364.42,315.10 365.08,314.52 365.74,314.03 366.39,313.68 367.05,313.49 367.71,313.39 368.37,313.30 369.03,313.23 369.69,313.16 370.35,313.10 371.01,313.06 371.67,313.03 372.33,313.01 372.98,313.00 373.64,313.04 374.30,313.16 374.96,313.33 375.62,313.55 376.28,313.81 376.94,314.07 377.60,314.34 378.26,314.61 378.92,314.95 379.57,315.37 380.23,315.83 380.89,316.33 381.55,316.82 382.21,317.29 382.87,317.71 383.53,318.05 384.19,318.29 384.85,318.40 385.51,318.40 386.16,318.39 386.82,318.38 387.48,318.34 388.14,318.29 388.80,318.20 392.80,316.93 393.67,317.01 394.53,317.02 395.40,316.95 396.27,316.83 397.14,316.67 398.00,316.47 398.87,316.25 399.74,315.99 400.61,315.71 401.47,315.41 402.34,315.09 403.21,314.76 404.07,314.44 404.94,314.13 405.81,313.82 406.68,313.54 407.54,313.30 408.41,313.10 409.28,312.94 410.14,312.84 411.01,312.80 411.88,312.82 412.75,312.90 413.61,313.04 414.48,313.24 415.35,313.49 416.22,313.79 417.08,314.12 417.95,314.49 418.82,314.89 419.68,315.30 420.55,315.73 421.42,316.15 422.29,316.58 423.15,316.98 424.02,317.37 424.89,317.72 425.75,318.03 426.62,318.30 427.49,318.52 428.36,318.68 429.22,318.78 430.09,318.82 430.96,318.80 431.83,318.73 432.69,318.60 433.56,318.41 434.43,318.18 435.29,317.90 436.16,317.58 437.03,317.23 437.90,316.86 438.76,316.47 439.63,316.07 440.50,315.68 441.36,315.29 442.23,314.93 443.10,314.59 443.97,314.29 444.83,314.03 445.70,313.82 446.57,313.66 447.44,313.55 448.30,313.50 449.17,313.51 450.04,313.58 450.90,313.70 451.77,313.88 452.64,314.11 453.51,314.38 454.37,314.70 455.24,315.04 456.11,315.41 456.97,315.80 457.84,316.20 458.71,316.59 459.58,316.98 460.44,317.35 461.31,317.70 462.18,318.01 463.05,318.28 463.91,318.51 464.78,318.69 465.65,318.82 466.51,318.89 467.38,318.90 468.25,318.85 469.12,318.74 469.98,318.58 470.85,318.37 471.72,318.11 472.58,317.81 473.45,317.48 474.32,317.11 475.19,316.73 476.05,316.34 476.92,315.94 477.79,315.55 478.66,315.17 479.52,314.81 480.39,314.49 481.26,314.20 482.12,313.96 482.99,313.76 483.86,313.62 484.73,313.53 485.59,313.50 486.46,313.53 487.33,313.62 488.19,313.76 489.06,313.95 489.93,314.20 490.80,314.48 491.66,314.81 492.53,315.16 493.40,315.54 494.27,315.93 495.13,316.33 496.00,316.72 496.00,316.72 496.00,403.82 540.42,403.82" fill="none" stroke="#ff1a1a" stroke-width="1.5" stroke-linejoin="round" stroke-linecap="butt" stroke-dasharray="4.2 2.1"/>
<polygon points="318.80,398.20 320.19,398.28 321.59,398.36 322.98,398.44 324.38,398.52 325.77,398.60 327.16,398.68 328.56,398.75 329.95,398.83 331.34,398.91 332.74,398.98 334.13,399.06 335.53,399.13 336.92,399.20 338.31,399.28 339.71,399.34 341.10,399.41 342.50,399.46 343.89,399.51 345.28,399.55 346.68,399.60 348.07,399.64 349.47,399.68 350.86,399.73 352.25,399.78 353.65,399.84 355.04,399.91 356.43,399.98 357.83,400.07 359.22,400.17 360.62,400.29 362.01,400.42 363.40,400.74 364.80,401.22 366.19,401.77 367.59,402.59 368.98,403.39 370.37,403.70 371.77,403.64 373.16,403.50 374.55,403.33 375.95,403.10 377.34,402.74 378.74,402.35 380.13,402.02 381.52,401.80 382.92,401.60 384.31,401.41 385.71,401.24 387.10,401.11 388.49,401.03 389.89,401.00 391.28,401.00 392.68,401.00 394.07,401.00 395.46,401.00 396.86,401.00 398.25,401.00 399.64,401.00 401.04,401.00 402.43,401.00 403.83,401.00 405.22,401.00 406.61,401.00 408.01,401.00 409.40,401.00 410.80,401.00 412.19,401.00 413.58,401.00 414.98,401.00 416.37,401.00 417.76,401.00 419.16,401.00 420.55,401.00 421.95,401.00 423.34,401.00 424.73,401.00 426.13,401.00 427.52,401.00 428.92,401.00 430.31,401.00 431.70,401.00 433.10,401.00 434.49,401.00 435.88,401.00 437.28,401.00 438.67,401.00 440.07,401.00 441.46,401.00 442.85,401.00 444.25,401.00 445.64,401.00 447.04,401.01 448.43,401.01 449.82,401.01 451.22,401.01 452.61,401.02 454.01,401.02 455.40,401.02 456.79,401.02 458.19,401.03 459.58,401.03 460.97,401.03 462.37,401.04 463.76,401.04 465.16,401.05 466.55,401.05 467.94,401.05 469.34,401.06 470.73,401.06 472.13,401.06 473.52,401.07 474.91,401.07 476.31,401.07 477.70,401.08 479.09,401.08 480.49,401.08 481.88,401.09 483.28,401.09 484.67,401.09 486.06,401.09 487.46,401.10 488.85,401.10 490.25,401.10 491.64,401.10 493.03,401.10 494.43,401.10 495.82,400.89 497.22,400.20 498.61,399.55 500.00,399.20 501.40,398.90 502.79,398.72 504.18,398.74 505.58,398.94 506.97,399.24 508.37,399.53 509.76,399.74 511.15,399.95 512.55,400.15 513.94,400.34 515.34,400.52 516.73,400.69 518.12,400.84 519.52,400.96 520.91,401.09 522.30,401.21 523.70,401.33 525.09,401.45 526.49,401.56 527.88,401.66 529.27,401.77 530.67,401.86 532.06,401.95 533.46,402.03 534.85,402.10 536.24,402.17 537.64,402.22 539.03,402.27 540.42,402.30 540.42,406.70 539.03,406.67 537.64,406.62 536.24,406.57 534.85,406.50 533.46,406.43 532.06,406.35 530.67,406.26 529.27,406.17 527.88,406.06 526.49,405.96 525.09,405.85 523.70,405.73 522.30,405.61 520.91,405.49 519.52,405.36 518.12,405.24 516.73,405.09 515.34,404.92 513.94,404.74 512.55,404.55 511.15,404.35 509.76,404.14 508.37,403.93 506.97,403.64 505.58,403.34 504.18,403.14 502.79,403.12 501.40,403.30 500.00,403.60 498.61,403.95 497.22,404.60 495.82,405.29 494.43,405.50 493.03,405.50 491.64,405.50 490.25,405.50 488.85,405.50 487.46,405.50 486.06,405.49 484.67,405.49 483.28,405.49 481.88,405.49 480.49,405.48 479.09,405.48 477.70,405.48 476.31,405.47 474.91,405.47 473.52,405.47 472.13,405.46 470.73,405.46 469.34,405.46 467.94,405.45 466.55,405.45 465.16,405.45 463.76,405.44 462.37,405.44 460.97,405.43 459.58,405.43 458.19,405.43 456.79,405.42 455.40,405.42 454.01,405.42 452.61,405.42 451.22,405.41 449.82,405.41 448.43,405.41 447.04,405.41 445.64,405.40 444.25,405.40 442.85,405.40 441.46,405.40 440.07,405.40 438.67,405.40 437.28,405.40 435.88,405.40 434.49,405.40 433.10,405.40 431.70,405.40 430.31,405.40 428.92,405.40 427.52,405.40 426.13,405.40 424.73,405.40 423.34,405.40 421.95,405.40 420.55,405.40 419.16,405.40 417.76,405.40 416.37,405.40 414.98,405.40 413.58,405.40 412.19,405.40 410.80,405.40 409.40,405.40 408.01,405.40 406.61,405.40 405.22,405.40 403.83,405.40 402.43,405.40 401.04,405.40 399.64,405.40 398.25,405.40 396.86,405.40 395.46,405.40 394.07,405.40 392.68,405.40 391.28,405.40 389.89,405.40 388.49,405.43 387.10,405.51 385.71,405.64 384.31,405.81 382.92,406.00 381.52,406.20 380.13,406.42 378.74,406.75 377.34,407.14 375.95,407.50 374.55,407.73 373.16,407.90 371.77,408.04 370.37,408.10 368.98,407.79 367.59,406.99 366.19,406.17 364.80,405.62 363.40,405.14 362.01,404.82 360.62,404.69 359.22,404.57 357.83,404.47 356.43,404.38 355.04,404.31 353.65,404.24 352.25,404.18 350.86,404.13 349.47,404.08 348.07,404.04 346.68,404.00 345.28,403.95 343.89,403.91 342.50,403.86 341.10,403.81 339.71,403.74 338.31,403.68 336.92,403.60 335.53,403.53 334.13,403.46 332.74,403.38 331.34,403.31 329.95,403.23 328.56,403.15 327.16,403.08 325.77,403.00 324.38,402.92 322.98,402.84 321.59,402.76 320.19,402.68 318.80,402.60" fill="#4f88c0" stroke="none"/>
<polygon points="318.80,398.20 320.19,398.28 321.59,398.36 322.98,398.44 324.38,398.52 325.77,398.60 327.16,398.68 328.56,398.75 329.95,398.83 331.34,398.91 332.74,398.98 334.13,399.06 335.53,399.13 336.92,399.20 338.31,399.28 339.71,399.34 341.10,399.41 342.50,399.46 343.89,399.51 345.28,399.55 346.68,399.60 348.07,399.64 349.47,399.68 350.86,399.73 352.25,399.78 353.65,399.84 355.04,399.91 356.43,399.98 357.83,400.07 359.22,400.17 360.62,400.29 362.01,400.42 363.40,400.74 364.80,401.22 366.19,401.77 367.59,402.59 368.98,403.39 370.37,403.70 371.77,403.64 373.16,403.50 374.55,403.33 375.95,403.10 377.34,402.74 378.74,402.35 380.13,402.02 381.52,401.80 382.92,401.60 384.31,401.41 385.71,401.24 387.10,401.11 388.49,401.03 389.89,401.00 391.28,401.00 392.68,401.00 394.07,401.00 395.46,401.00 396.86,401.00 398.25,401.00 399.64,401.00 401.04,401.00 402.43,401.00 403.83,401.00 405.22,401.00 406.61,401.00 408.01,401.00 409.40,401.00 410.80,401.00 412.19,401.00 413.58,401.00 414.98,401.00 416.37,401.00 417.76,401.00 419.16,401.00 420.55,401.00 421.95,401.00 423.34,401.00 424.73,401.00 426.13,401.00 427.52,401.00 428.92,401.00 430.31,401.00 431.70,401.00 433.10,401.00 434.49,401.00 435.88,401.00 437.28,401.00 438.67,401.00 440.07,401.00 441.46,401.00 442.85,401.00 444.25,401.00 445.64,401.00 447.04,401.01 448.43,401.01 449.82,401.01 451.22,401.01 452.61,401.02 454.01,401.02 455.40,401.02 456.79,401.02 458.19,401.03 459.58,401.03 460.97,401.03 462.37,401.04 463.76,401.04 465.16,401.05 466.55,401.05 467.94,401.05 469.34,401.06 470.73,401.06 472.13,401.06 473.52,401.07 474.91,401.07 476.31,401.07 477.70,401.08 479.09,401.08 480.49,401.08 481.88,401.09 483.28,401.09 484.67,401.09 486.06,401.09 487.46,401.10 488.85,401.10 490.25,401.10 491.64,401.10 493.03,401.10 494.43,401.10 495.82,400.89 497.22,400.20 498.61,399.55 500.00,399.20 501.40,398.90 502.79,398.72 504.18,398.74 505.58,398.94 506.97,399.24 508.37,399.53 509.76,399.74 511.15,399.95 512.55,400.15 513.94,400.34 515.34,400.52 516.73,400.69 518.12,400.84 519.52,400.96 520.91,401.09 522.30,401.21 523.70,401.33 525.09,401.45 526.49,401.56 527.88,401.66 529.27,401.77 530.67,401.86 532.06,401.95 533.46,402.03 534.85,402.10 536.24,402.17 537.64,402.22 539.03,402.27 540.42,402.30 540.42,406.70 539.03,406.67 537.64,406.62 536.24,406.57 534.85,406.50 533.46,406.43 532.06,406.35 530.67,406.26 529.27,406.17 527.88,406.06 526.49,405.96 525.09,405.85 523.70,405.73 522.30,405.61 520.91,405.49 519.52,405.36 518.12,405.24 516.73,405.09 515.34,404.92 513.94,404.74 512.55,404.55 511.15,404.35 509.76,404.14 508.37,403.93 506.97,403.64 505.58,403.34 504.18,403.14 502.79,403.12 501.40,403.30 500.00,403.60 498.61,403.95 497.22,404.60 495.82,405.29 494.43,405.50 493.03,405.50 491.64,405.50 490.25,405.50 488.85,405.50 487.46,405.50 486.06,405.49 484.67,405.49 483.28,405.49 481.88,405.49 480.49,405.48 479.09,405.48 477.70,405.48 476.31,405.47 474.91,405.47 473.52,405.47 472.13,405.46 470.73,405.46 469.34,405.46 467.94,405.45 466.55,405.45 465.16,405.45 463.76,405.44 462.37,405.44 460.97,405.43 459.58,405.43 458.19,405.43 456.79,405.42 455.40,405.42 454.01,405.42 452.61,405.42 451.22,405.41 449.82,405.41 448.43,405.41 447.04,405.41 445.64,405.40 444.25,405.40 442.85,405.40 441.46,405.40 440.07,405.40 438.67,405.40 437.28,405.40 435.88,405.40 434.49,405.40 433.10,405.40 431.70,405.40 430.31,405.40 428.92,405.40 427.52,405.40 426.13,405.40 424.73,405.40 423.34,405.40 421.95,405.40 420.55,405.40 419.16,405.40 417.76,405.40 416.37,405.40 414.98,405.40 413.58,405.40 412.19,405.40 410.80,405.40 409.40,405.40 408.01,405.40 406.61,405.40 405.22,405.40 403.83,405.40 402.43,405.40 401.04,405.40 399.64,405.40 398.25,405.40 396.86,405.40 395.46,405.40 394.07,405.40 392.68,405.40 391.28,405.40 389.89,405.40 388.49,405.43 387.10,405.51 385.71,405.64 384.31,405.81 382.92,406.00 381.52,406.20 380.13,406.42 378.74,406.75 377.34,407.14 375.95,407.50 374.55,407.73 373.16,407.90 371.77,408.04 370.37,408.10 368.98,407.79 367.59,406.99 366.19,406.17 364.80,405.62 363.40,405.14 362.01,404.82 360.62,404.69 359.22,404.57 357.83,404.47 356.43,404.38 355.04,404.31 353.65,404.24 352.25,404.18 350.86,404.13 349.47,404.08 348.07,404.04 346.68,404.00 345.28,403.95 343.89,403.91 342.50,403.86 341.10,403.81 339.71,403.74 338.31,403.68 336.92,403.60 335.53,403.53 334.13,403.46 332.74,403.38 331.34,403.31 329.95,403.23 328.56,403.15 327.16,403.08 325.77,403.00 324.38,402.92 322.98,402.84 321.59,402.76 320.19,402.68 318.80,402.60" fill="#e8474f" stroke="none"/>
<polygon points="318.80,398.20 319.09,398.22 319.38,398.23 319.67,398.25 319.96,398.27 320.25,398.28 320.54,398.30 320.83,398.32 321.11,398.33 321.40,398.35 321.69,398.37 321.98,398.38 322.27,398.40 322.56,398.42 322.85,398.43 323.14,398.45 323.43,398.47 323.72,398.48 324.01,398.50 324.30,398.52 324.59,398.53 324.88,398.55 325.16,398.57 325.45,398.58 325.74,398.60 326.03,398.61 326.32,398.63 326.61,398.65 326.90,398.66 327.19,398.68 327.48,398.69 327.77,398.71 328.06,398.73 328.35,398.74 328.64,398.76 328.93,398.77 329.22,398.79 329.50,398.81 329.79,398.82 330.08,398.84 330.37,398.85 330.66,398.87 330.95,398.89 331.24,398.90 331.53,398.92 331.82,398.93 332.11,398.95 332.40,398.96 332.69,398.98 332.98,398.99 333.27,399.01 333.55,399.03 333.84,399.04 334.13,399.06 334.42,399.07 334.71,399.09 335.00,399.10 335.29,399.12 335.58,399.13 335.87,399.15 336.16,399.16 336.45,399.18 336.74,399.19 337.03,399.21 337.32,399.22 337.61,399.24 337.89,399.25 338.18,399.27 338.47,399.28 338.76,399.30 339.05,399.31 339.34,399.33 339.63,399.34 339.92,399.35 340.21,399.37 340.50,399.38 340.79,399.39 341.08,399.40 341.37,399.42 341.66,399.43 341.94,399.44 342.23,399.45 342.52,399.46 342.81,399.47 343.10,399.48 343.39,399.49 343.68,399.50 343.97,399.51 344.26,399.52 344.55,399.53 344.84,399.54 345.13,399.55 345.42,399.56 345.71,399.57 345.99,399.58 346.28,399.58 346.57,399.59 346.86,399.60 347.15,399.61 347.44,399.62 347.73,399.63 348.02,399.64 348.31,399.65 348.60,399.66 348.89,399.67 349.18,399.67 349.47,399.68 349.76,399.69 350.05,399.70 350.33,399.71 350.62,399.72 350.91,399.73 351.20,399.74 351.49,399.75 351.78,399.76 352.07,399.78 352.36,399.79 352.65,399.80 352.94,399.81 353.23,399.82 353.52,399.84 353.81,399.85 354.10,399.86 354.38,399.88 354.67,399.89 354.96,399.90 355.25,399.92 355.54,399.93 355.83,399.95 356.12,399.97 356.41,399.98 356.70,400.00 356.99,400.02 357.28,400.04 357.57,400.05 357.86,400.07 358.15,400.09 358.44,400.11 358.72,400.14 359.01,400.16 359.30,400.18 359.59,400.20 359.88,400.23 360.17,400.25 360.46,400.27 360.75,400.30 361.04,400.33 361.33,400.35 361.62,400.38 361.91,400.41 362.20,400.45 362.49,400.50 362.77,400.57 363.06,400.64 363.35,400.72 363.64,400.81 363.93,400.91 364.22,401.01 364.51,401.12 364.80,401.22 364.80,405.62 364.51,405.52 364.22,405.41 363.93,405.31 363.64,405.21 363.35,405.12 363.06,405.04 362.77,404.97 362.49,404.90 362.20,404.85 361.91,404.81 361.62,404.78 361.33,404.75 361.04,404.73 360.75,404.70 360.46,404.67 360.17,404.65 359.88,404.63 359.59,404.60 359.30,404.58 359.01,404.56 358.72,404.54 358.44,404.51 358.15,404.49 357.86,404.47 357.57,404.45 357.28,404.44 356.99,404.42 356.70,404.40 356.41,404.38 356.12,404.37 355.83,404.35 355.54,404.33 355.25,404.32 354.96,404.30 354.67,404.29 354.38,404.28 354.10,404.26 353.81,404.25 353.52,404.24 353.23,404.22 352.94,404.21 352.65,404.20 352.36,404.19 352.07,404.18 351.78,404.16 351.49,404.15 351.20,404.14 350.91,404.13 350.62,404.12 350.33,404.11 350.05,404.10 349.76,404.09 349.47,404.08 349.18,404.07 348.89,404.07 348.60,404.06 348.31,404.05 348.02,404.04 347.73,404.03 347.44,404.02 347.15,404.01 346.86,404.00 346.57,403.99 346.28,403.98 345.99,403.98 345.71,403.97 345.42,403.96 345.13,403.95 344.84,403.94 344.55,403.93 344.26,403.92 343.97,403.91 343.68,403.90 343.39,403.89 343.10,403.88 342.81,403.87 342.52,403.86 342.23,403.85 341.94,403.84 341.66,403.83 341.37,403.82 341.08,403.80 340.79,403.79 340.50,403.78 340.21,403.77 339.92,403.75 339.63,403.74 339.34,403.73 339.05,403.71 338.76,403.70 338.47,403.68 338.18,403.67 337.89,403.65 337.61,403.64 337.32,403.62 337.03,403.61 336.74,403.59 336.45,403.58 336.16,403.56 335.87,403.55 335.58,403.53 335.29,403.52 335.00,403.50 334.71,403.49 334.42,403.47 334.13,403.46 333.84,403.44 333.55,403.43 333.27,403.41 332.98,403.39 332.69,403.38 332.40,403.36 332.11,403.35 331.82,403.33 331.53,403.32 331.24,403.30 330.95,403.29 330.66,403.27 330.37,403.25 330.08,403.24 329.79,403.22 329.50,403.21 329.22,403.19 328.93,403.17 328.64,403.16 328.35,403.14 328.06,403.13 327.77,403.11 327.48,403.09 327.19,403.08 326.90,403.06 326.61,403.05 326.32,403.03 326.03,403.01 325.74,403.00 325.45,402.98 325.16,402.97 324.88,402.95 324.59,402.93 324.30,402.92 324.01,402.90 323.72,402.88 323.43,402.87 323.14,402.85 322.85,402.83 322.56,402.82 322.27,402.80 321.98,402.78 321.69,402.77 321.40,402.75 321.11,402.73 320.83,402.72 320.54,402.70 320.25,402.68 319.96,402.67 319.67,402.65 319.38,402.63 319.09,402.62 318.80,402.60" fill="#66bc62" stroke="none"/>
<polyline points="364.30,403.82 364.30,377.90 364.50,357.90 365.00,341.90 365.70,329.90 366.60,320.90 367.40,315.40" fill="none" stroke="#66bc62" stroke-width="1.9" stroke-linejoin="round" stroke-linecap="butt" />
<polyline points="367.40,315.40 367.76,312.33 368.11,309.88 368.47,308.18 368.82,306.80 369.18,305.77 369.53,305.06 369.89,304.48 370.24,304.00 370.60,303.65 370.95,303.41 371.31,303.20 371.66,303.04 372.02,302.93 372.37,302.90 372.73,302.91 373.08,302.94 373.44,302.98 373.79,303.04 374.15,303.19 374.50,303.42 374.86,303.70 375.21,304.00 375.57,304.31 375.92,304.60 376.28,304.90 376.63,305.22 376.99,305.55 377.34,305.90 377.70,306.26 378.05,306.63 378.41,307.00 378.76,307.38 379.12,307.76 379.47,308.14 379.83,308.51 380.18,308.88 380.54,309.24 380.89,309.59 381.25,309.94 381.60,310.28 381.96,310.62 382.31,310.96 382.67,311.30 383.02,311.64 383.38,311.97 383.73,312.31 384.09,312.64 384.44,312.97 384.80,313.30 385.10,313.34 385.66,313.72 386.23,314.09 386.79,314.45 387.35,314.80 387.92,315.13 388.48,315.44 389.04,315.72 389.61,315.98 390.17,316.21 390.73,316.42 391.30,316.60 391.86,316.75 392.42,316.87 392.99,316.96 393.55,317.01 394.11,317.02 394.68,317.01 395.24,316.97 395.80,316.90 396.37,316.82 396.93,316.71 397.49,316.59 398.06,316.46 398.62,316.32 399.18,316.16 399.75,315.99 400.31,315.81 400.87,315.62 401.44,315.42 402.00,315.21 402.56,315.00 403.13,314.79 403.69,314.58 404.25,314.38 404.82,314.17 405.38,313.97 405.94,313.78 406.51,313.60 407.07,313.43 407.63,313.28 408.20,313.14 408.76,313.03 409.32,312.93 409.89,312.86 410.45,312.82 411.01,312.80 411.58,312.81 412.14,312.84 412.70,312.90 413.27,312.98 413.83,313.09 414.39,313.22 414.96,313.37 415.52,313.55 416.08,313.74 416.65,313.95 417.21,314.18 417.77,314.41 418.34,314.67 418.90,314.93 419.46,315.19 420.03,315.47 420.59,315.74 421.15,316.02 421.72,316.30 422.28,316.57 422.84,316.84 423.41,317.10 423.97,317.34 424.53,317.58 425.10,317.80 425.66,318.00 426.22,318.18 426.79,318.34 427.35,318.48 427.91,318.60 428.48,318.69 429.04,318.76 429.60,318.80 430.17,318.82 430.73,318.81 431.29,318.78 431.86,318.73 432.42,318.65 432.98,318.54 433.55,318.42 434.11,318.27 434.67,318.10 435.24,317.92 435.80,317.72 436.36,317.50 436.93,317.28 437.49,317.04 438.05,316.79 438.62,316.54 439.18,316.28 439.74,316.02 440.31,315.76 440.87,315.51 441.43,315.27 441.99,315.03 442.56,314.80 443.12,314.59 443.68,314.39 444.25,314.20 444.81,314.04 445.37,313.89 445.94,313.77 446.50,313.67 447.06,313.59 447.63,313.54 448.19,313.51 448.75,313.50 449.32,313.52 449.88,313.56 450.44,313.63 451.01,313.72 451.57,313.84 452.13,313.97 452.70,314.13 453.26,314.30 453.82,314.49 454.39,314.70 454.95,314.92 455.51,315.16 456.08,315.40 456.64,315.65 457.20,315.90 457.77,316.16 458.33,316.42 458.89,316.68 459.46,316.93 460.02,317.17 460.58,317.41 461.15,317.63 461.71,317.85 462.27,318.04 462.84,318.22 463.40,318.38 463.96,318.53 464.53,318.65 465.09,318.74 465.65,318.82 466.22,318.87 466.78,318.90 467.34,318.90 467.91,318.87 468.47,318.83 469.03,318.76 469.60,318.66 470.16,318.54 470.72,318.40 471.29,318.25 471.85,318.07 472.41,317.87 472.98,317.66 473.54,317.44 474.10,317.21 474.67,316.96 475.23,316.71 475.79,316.45 476.36,316.20 476.92,315.94 477.48,315.68 478.05,315.43 478.61,315.19 479.17,314.95 479.74,314.73 480.30,314.52 480.86,314.33 481.43,314.15 481.99,313.99 482.55,313.85 483.12,313.74 483.68,313.64 484.24,313.57 484.81,313.52 485.37,313.50 485.93,313.50 486.50,313.53 487.06,313.58 487.62,313.66 488.19,313.76 488.75,313.88 489.31,314.02 489.88,314.18 490.44,314.36 491.00,314.56 491.57,314.77 492.13,315.00 492.69,315.23 493.26,315.48 493.82,315.73 494.38,315.99 494.95,316.24 495.51,316.50 496.07,316.76 496.64,317.01 497.20,317.25 497.40,320.53 498.02,338.75 498.65,369.78 499.27,389.36 499.89,398.96 500.52,403.97 501.14,407.27 501.76,409.57 502.39,411.40 503.01,412.60 503.64,413.25 504.26,413.80 504.88,414.19 505.51,414.39 506.13,414.38 506.75,414.28 507.38,414.13 508.00,413.95 508.62,413.75 509.25,413.55 509.87,413.29 510.49,412.98 511.12,412.65 511.74,412.29 512.37,411.92 512.99,411.55 513.61,411.20 514.24,410.86 514.86,410.49 515.48,410.11 516.11,409.72 516.73,409.33 517.35,408.95 517.98,408.59 518.60,408.26 519.22,407.98 519.85,407.75 520.47,407.56 521.09,407.39 521.72,407.24 522.34,407.10 522.97,406.97 523.59,406.84 524.21,406.73 524.84,406.62 525.46,406.52 526.08,406.42 526.71,406.31 527.33,406.21 527.95,406.12 528.58,406.02 529.20,405.92 529.82,405.83 530.45,405.75 531.07,405.67 531.70,405.60 532.32,405.54 532.94,405.49 533.57,405.44 534.19,405.40 534.81,405.35 535.44,405.31 536.06,405.27 536.68,405.23 537.31,405.20 537.93,405.17 538.55,405.14 539.18,405.12 539.80,405.11 540.42,405.10" fill="none" stroke="#66bc62" stroke-width="4.4" stroke-linejoin="round" stroke-linecap="butt" stroke-linecap="round"/>
<polygon points="318.80,398.40 320.19,398.48 321.59,398.56 322.98,398.64 324.38,398.72 325.77,398.80 327.16,398.88 328.56,398.95 329.95,399.03 331.34,399.11 332.74,399.18 334.13,399.26 335.53,399.33 336.92,399.40 338.31,399.48 339.71,399.55 341.10,399.61 342.50,399.68 343.89,399.74 345.28,399.81 346.68,399.87 348.07,399.93 349.47,399.99 350.86,400.06 352.25,400.12 353.65,400.18 355.04,400.25 356.43,400.31 357.83,400.38 359.22,400.46 360.62,400.53 362.01,400.61 363.40,400.69 364.80,400.80 366.19,401.01 367.59,401.29 368.98,401.52 370.37,401.69 371.77,401.82 373.16,401.92 374.55,402.02 375.95,402.09 377.34,402.09 378.74,402.03 380.13,401.94 381.52,401.85 382.92,401.80 384.31,401.78 385.71,401.76 387.10,401.74 388.49,401.72 389.89,401.70 391.28,401.68 392.68,401.66 394.07,401.65 395.46,401.63 396.86,401.61 398.25,401.60 399.64,401.58 401.04,401.57 402.43,401.56 403.83,401.54 405.22,401.53 406.61,401.52 408.01,401.51 409.40,401.50 410.80,401.49 412.19,401.48 413.58,401.47 414.98,401.46 416.37,401.46 417.76,401.45 419.16,401.44 420.55,401.44 421.95,401.43 423.34,401.43 424.73,401.42 426.13,401.42 427.52,401.41 428.92,401.41 430.31,401.41 431.70,401.41 433.10,401.40 434.49,401.40 435.88,401.40 437.28,401.40 438.67,401.40 440.07,401.40 441.46,401.40 442.85,401.40 444.25,401.40 445.64,401.40 447.04,401.40 448.43,401.40 449.82,401.40 451.22,401.40 452.61,401.40 454.01,401.40 455.40,401.40 456.79,401.40 458.19,401.40 459.58,401.40 460.97,401.40 462.37,401.40 463.76,401.40 465.16,401.40 466.55,401.40 467.94,401.40 469.34,401.40 470.73,401.40 472.13,401.40 473.52,401.40 474.91,401.40 476.31,401.40 477.70,401.40 479.09,401.40 480.49,401.40 481.88,401.40 483.28,401.40 484.67,401.40 486.06,401.40 487.46,401.40 488.85,401.40 490.25,401.40 491.64,401.40 493.03,401.40 494.43,401.40 495.82,401.41 497.22,401.45 498.61,401.49 500.00,401.56 501.40,401.65 502.79,401.70 504.18,401.61 505.58,401.39 506.97,401.16 508.37,401.01 509.76,401.00 511.15,401.00 512.55,401.00 513.94,401.01 515.34,401.01 516.73,401.02 518.12,401.03 519.52,401.05 520.91,401.07 522.30,401.10 523.70,401.14 525.09,401.18 526.49,401.23 527.88,401.29 529.27,401.35 530.67,401.43 532.06,401.52 533.46,401.62 534.85,401.73 536.24,401.85 537.64,401.99 539.03,402.14 540.42,402.30 540.42,406.30 539.03,406.14 537.64,405.99 536.24,405.85 534.85,405.73 533.46,405.62 532.06,405.52 530.67,405.43 529.27,405.35 527.88,405.29 526.49,405.23 525.09,405.18 523.70,405.14 522.30,405.10 520.91,405.07 519.52,405.05 518.12,405.03 516.73,405.02 515.34,405.01 513.94,405.01 512.55,405.00 511.15,405.00 509.76,405.00 508.37,405.01 506.97,405.16 505.58,405.39 504.18,405.61 502.79,405.70 501.40,405.65 500.00,405.56 498.61,405.49 497.22,405.45 495.82,405.41 494.43,405.40 493.03,405.40 491.64,405.40 490.25,405.40 488.85,405.40 487.46,405.40 486.06,405.40 484.67,405.40 483.28,405.40 481.88,405.40 480.49,405.40 479.09,405.40 477.70,405.40 476.31,405.40 474.91,405.40 473.52,405.40 472.13,405.40 470.73,405.40 469.34,405.40 467.94,405.40 466.55,405.40 465.16,405.40 463.76,405.40 462.37,405.40 460.97,405.40 459.58,405.40 458.19,405.40 456.79,405.40 455.40,405.40 454.01,405.40 452.61,405.40 451.22,405.40 449.82,405.40 448.43,405.40 447.04,405.40 445.64,405.40 444.25,405.40 442.85,405.40 441.46,405.40 440.07,405.40 438.67,405.40 437.28,405.40 435.88,405.40 434.49,405.40 433.10,405.40 431.70,405.41 430.31,405.41 428.92,405.41 427.52,405.41 426.13,405.42 424.73,405.42 423.34,405.43 421.95,405.43 420.55,405.44 419.16,405.44 417.76,405.45 416.37,405.46 414.98,405.46 413.58,405.47 412.19,405.48 410.80,405.49 409.40,405.50 408.01,405.51 406.61,405.52 405.22,405.53 403.83,405.54 402.43,405.56 401.04,405.57 399.64,405.58 398.25,405.60 396.86,405.61 395.46,405.63 394.07,405.65 392.68,405.66 391.28,405.68 389.89,405.70 388.49,405.72 387.10,405.74 385.71,405.76 384.31,405.78 382.92,405.80 381.52,405.85 380.13,405.94 378.74,406.03 377.34,406.09 375.95,406.09 374.55,406.02 373.16,405.92 371.77,405.82 370.37,405.69 368.98,405.52 367.59,405.29 366.19,405.01 364.80,404.80 363.40,404.69 362.01,404.61 360.62,404.53 359.22,404.46 357.83,404.38 356.43,404.31 355.04,404.25 353.65,404.18 352.25,404.12 350.86,404.06 349.47,403.99 348.07,403.93 346.68,403.87 345.28,403.81 343.89,403.74 342.50,403.68 341.10,403.61 339.71,403.55 338.31,403.48 336.92,403.40 335.53,403.33 334.13,403.26 332.74,403.18 331.34,403.11 329.95,403.03 328.56,402.95 327.16,402.88 325.77,402.80 324.38,402.72 322.98,402.64 321.59,402.56 320.19,402.48 318.80,402.40" fill="#fba14a" stroke="none"/>
<polygon points="318.80,398.10 320.19,398.18 321.59,398.26 322.98,398.34 324.38,398.42 325.77,398.50 327.16,398.58 328.56,398.65 329.95,398.73 331.34,398.81 332.74,398.88 334.13,398.96 335.53,399.03 336.92,399.10 338.31,399.18 339.71,399.24 341.10,399.31 342.50,399.36 343.89,399.41 345.28,399.45 346.68,399.50 348.07,399.54 349.47,399.58 350.86,399.63 352.25,399.68 353.65,399.74 355.04,399.81 356.43,399.88 357.83,399.97 359.22,400.07 360.62,400.19 362.01,400.32 363.40,400.64 364.80,401.12 366.19,401.67 367.59,402.49 368.98,403.29 370.37,403.60 371.77,403.54 373.16,403.40 374.55,403.23 375.95,403.00 377.34,402.64 378.74,402.25 380.13,401.92 381.52,401.70 382.92,401.50 384.31,401.31 385.71,401.14 387.10,401.01 388.49,400.93 389.89,400.90 391.28,400.90 392.68,400.90 394.07,400.90 395.46,400.90 396.86,400.90 398.25,400.90 399.64,400.90 401.04,400.90 402.43,400.90 403.83,400.90 405.22,400.90 406.61,400.90 408.01,400.90 409.40,400.90 410.80,400.90 412.19,400.90 413.58,400.90 414.98,400.90 416.37,400.90 417.76,400.90 419.16,400.90 420.55,400.90 421.95,400.90 423.34,400.90 424.73,400.90 426.13,400.90 427.52,400.90 428.92,400.90 430.31,400.90 431.70,400.90 433.10,400.90 434.49,400.90 435.88,400.90 437.28,400.90 438.67,400.90 440.07,400.90 441.46,400.90 442.85,400.90 444.25,400.90 445.64,400.90 447.04,400.91 448.43,400.91 449.82,400.91 451.22,400.91 452.61,400.92 454.01,400.92 455.40,400.92 456.79,400.92 458.19,400.93 459.58,400.93 460.97,400.93 462.37,400.94 463.76,400.94 465.16,400.95 466.55,400.95 467.94,400.95 469.34,400.96 470.73,400.96 472.13,400.96 473.52,400.97 474.91,400.97 476.31,400.97 477.70,400.98 479.09,400.98 480.49,400.98 481.88,400.99 483.28,400.99 484.67,400.99 486.06,400.99 487.46,401.00 488.85,401.00 490.25,401.00 491.64,401.00 493.03,401.00 494.43,401.00 495.82,400.79 497.22,400.10 498.61,399.45 500.00,399.10 501.40,398.80 502.79,398.62 504.18,398.64 505.58,398.84 506.97,399.14 508.37,399.43 509.76,399.64 511.15,399.85 512.55,400.05 513.94,400.24 515.34,400.42 516.73,400.59 518.12,400.74 519.52,400.86 520.91,400.99 522.30,401.11 523.70,401.23 525.09,401.35 526.49,401.46 527.88,401.56 529.27,401.67 530.67,401.76 532.06,401.85 533.46,401.93 534.85,402.00 536.24,402.07 537.64,402.12 539.03,402.17 540.42,402.20 540.42,406.80 539.03,406.77 537.64,406.72 536.24,406.67 534.85,406.60 533.46,406.53 532.06,406.45 530.67,406.36 529.27,406.27 527.88,406.16 526.49,406.06 525.09,405.95 523.70,405.83 522.30,405.71 520.91,405.59 519.52,405.46 518.12,405.34 516.73,405.19 515.34,405.02 513.94,404.84 512.55,404.65 511.15,404.45 509.76,404.24 508.37,404.03 506.97,403.74 505.58,403.44 504.18,403.24 502.79,403.22 501.40,403.40 500.00,403.70 498.61,404.05 497.22,404.70 495.82,405.39 494.43,405.60 493.03,405.60 491.64,405.60 490.25,405.60 488.85,405.60 487.46,405.60 486.06,405.59 484.67,405.59 483.28,405.59 481.88,405.59 480.49,405.58 479.09,405.58 477.70,405.58 476.31,405.57 474.91,405.57 473.52,405.57 472.13,405.56 470.73,405.56 469.34,405.56 467.94,405.55 466.55,405.55 465.16,405.55 463.76,405.54 462.37,405.54 460.97,405.53 459.58,405.53 458.19,405.53 456.79,405.52 455.40,405.52 454.01,405.52 452.61,405.52 451.22,405.51 449.82,405.51 448.43,405.51 447.04,405.51 445.64,405.50 444.25,405.50 442.85,405.50 441.46,405.50 440.07,405.50 438.67,405.50 437.28,405.50 435.88,405.50 434.49,405.50 433.10,405.50 431.70,405.50 430.31,405.50 428.92,405.50 427.52,405.50 426.13,405.50 424.73,405.50 423.34,405.50 421.95,405.50 420.55,405.50 419.16,405.50 417.76,405.50 416.37,405.50 414.98,405.50 413.58,405.50 412.19,405.50 410.80,405.50 409.40,405.50 408.01,405.50 406.61,405.50 405.22,405.50 403.83,405.50 402.43,405.50 401.04,405.50 399.64,405.50 398.25,405.50 396.86,405.50 395.46,405.50 394.07,405.50 392.68,405.50 391.28,405.50 389.89,405.50 388.49,405.53 387.10,405.61 385.71,405.74 384.31,405.91 382.92,406.10 381.52,406.30 380.13,406.52 378.74,406.85 377.34,407.24 375.95,407.60 374.55,407.83 373.16,408.00 371.77,408.14 370.37,408.20 368.98,407.89 367.59,407.09 366.19,406.27 364.80,405.72 363.40,405.24 362.01,404.92 360.62,404.79 359.22,404.67 357.83,404.57 356.43,404.48 355.04,404.41 353.65,404.34 352.25,404.28 350.86,404.23 349.47,404.18 348.07,404.14 346.68,404.10 345.28,404.05 343.89,404.01 342.50,403.96 341.10,403.91 339.71,403.84 338.31,403.78 336.92,403.70 335.53,403.63 334.13,403.56 332.74,403.48 331.34,403.41 329.95,403.33 328.56,403.25 327.16,403.18 325.77,403.10 324.38,403.02 322.98,402.94 321.59,402.86 320.19,402.78 318.80,402.70" fill="#a862b9" stroke="none"/>
<path d="M333.58 258.40V432.90" stroke="#2626ff" stroke-width="1.2" stroke-dasharray="4.4 1.6 1.8 1.6"/>
<path d="M318.80 258.10V432.90H540.50M333.58 432.90v-2.2M363.14 432.90v-2.2M392.70 432.90v-2.2M422.26 432.90v-2.2M451.82 432.90v-2.2M481.38 432.90v-2.2M510.94 432.90v-2.2M540.50 432.90v-2.2M318.80 432.90h2.2M318.80 403.77h2.2M318.80 374.63h2.2M318.80 345.50h2.2M318.80 316.37h2.2M318.80 287.23h2.2M318.80 258.10h2.2" stroke="#8a8a8a" stroke-width="0.9" fill="none"/>
<text x="333.58" y="442.70" class="tk" text-anchor="middle">3</text>
<text x="363.14" y="442.70" class="tk" text-anchor="middle">4</text>
<text x="392.70" y="442.70" class="tk" text-anchor="middle">5</text>
<text x="422.26" y="442.70" class="tk" text-anchor="middle">6</text>
<text x="451.82" y="442.70" class="tk" text-anchor="middle">7</text>
<text x="481.38" y="442.70" class="tk" text-anchor="middle">8</text>
<text x="510.94" y="442.70" class="tk" text-anchor="middle">9</text>
<text x="540.50" y="442.70" class="tk" text-anchor="middle">10</text>
<text x="315.60" y="435.80" class="tk" text-anchor="end">-5</text>
<text x="315.60" y="406.67" class="tk" text-anchor="end">0</text>
<text x="315.60" y="377.53" class="tk" text-anchor="end">5</text>
<text x="315.60" y="348.40" class="tk" text-anchor="end">10</text>
<text x="315.60" y="319.27" class="tk" text-anchor="end">15</text>
<text x="315.60" y="290.13" class="tk" text-anchor="end">20</text>
<text x="315.60" y="261.00" class="tk" text-anchor="end">25</text>
<text x="429.65" y="452.70" class="al" letter-spacing="0.15" text-anchor="middle">Time (seconds)</text>
<text transform="translate(304.70,345.50) rotate(-90)" class="al" text-anchor="middle">Amplitude</text>
<rect x="490.30" y="262.40" width="45.0" height="67.9" fill="#fff" stroke="#a0a0a0" stroke-width="0.8"/>
<path d="M492.50 269.40H512.30" stroke="#ff1a1a" stroke-width="1.5" stroke-dasharray="4.1 2.3"/>
<text x="514.90" y="271.30" class="lg">f</text>
<text x="519.30" y="267.60" class="ls">a</text>
<text x="518.90" y="273.80" class="ls">3</text>
<text x="523.50" y="271.70" class="lp">(<tspan class="li">t</tspan>)</text>
<path d="M492.50 280.22H512.30" stroke="#4f88c0" stroke-width="1.4"/>
<text x="514.50" y="282.12" class="lg">r</text>
<text x="518.50" y="278.42" class="ls">5</text>
<text x="518.50" y="284.62" class="ls">1</text>
<text x="522.50" y="282.52" class="lp">(<tspan class="li">t</tspan>)</text>
<path d="M492.50 291.04H512.30" stroke="#e8474f" stroke-width="1.4"/>
<text x="514.50" y="292.94" class="lg">r</text>
<text x="518.50" y="289.24" class="ls">5</text>
<text x="518.50" y="295.44" class="ls">2</text>
<text x="522.50" y="293.34" class="lp">(<tspan class="li">t</tspan>)</text>
<path d="M492.50 301.86H512.30" stroke="#6abd5f" stroke-width="1.4"/>
<text x="514.50" y="303.76" class="lg">r</text>
<text x="518.50" y="300.06" class="ls">5</text>
<text x="518.50" y="306.26" class="ls">3</text>
<text x="522.50" y="304.16" class="lp">(<tspan class="li">t</tspan>)</text>
<path d="M492.50 312.68H512.30" stroke="#fba14a" stroke-width="1.4"/>
<text x="514.50" y="314.58" class="lg">r</text>
<text x="518.50" y="310.88" class="ls">5</text>
<text x="518.50" y="317.08" class="ls">4</text>
<text x="522.50" y="314.98" class="lp">(<tspan class="li">t</tspan>)</text>
<path d="M492.50 323.50H512.30" stroke="#a862b9" stroke-width="1.4"/>
<text x="514.50" y="325.40" class="lg">r</text>
<text x="518.50" y="321.70" class="ls">5</text>
<text x="518.50" y="327.90" class="ls">5</text>
<text x="522.50" y="325.80" class="lp">(<tspan class="li">t</tspan>)</text>
<text x="343.50" y="478.40" class="cap">(<tspan font-weight="bold">d</tspan>) Agent 5’s residual signals</text>
</svg>
</body></html>
